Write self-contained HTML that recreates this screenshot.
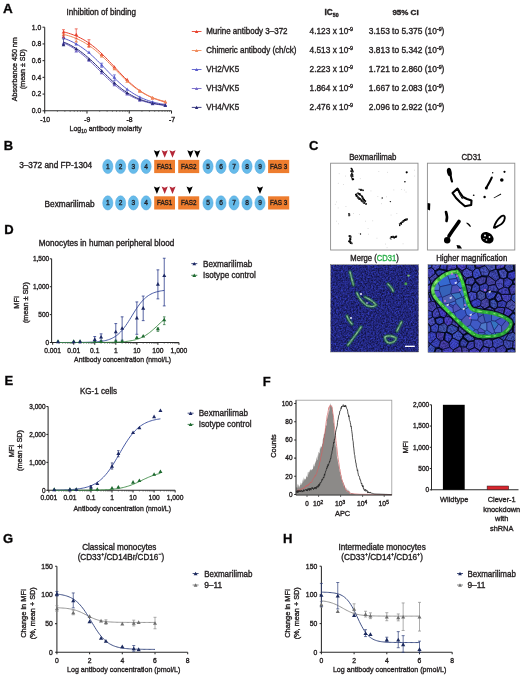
<!DOCTYPE html>
<html><head><meta charset="utf-8"><title>Figure</title>
<style>html,body{margin:0;padding:0;background:#fff;}svg{display:block;}text{stroke:#231f20;stroke-width:0.36px;}</style>
</head><body>
<svg width="520" height="675" viewBox="0 0 520 675" font-family='"Liberation Sans", Arial, sans-serif' fill="#231f20">
<rect width="520" height="675" fill="#fff"/>
<text x="3.00" y="12.60" font-size="13.5" font-weight="bold" fill="#000">A</text>
<text x="66.50" y="14.80" font-size="8.4" textLength="69.5" lengthAdjust="spacingAndGlyphs">Inhibition of binding</text>
<line x1="44.70" y1="27.20" x2="44.70" y2="111.25" stroke="#2a2a2a" stroke-width="1.05"/>
<line x1="44.25" y1="110.80" x2="171.51" y2="110.80" stroke="#2a2a2a" stroke-width="1.05"/>
<line x1="42.50" y1="110.80" x2="44.70" y2="110.80" stroke="#2a2a2a" stroke-width="1.05"/>
<text x="41.20" y="113.20" font-size="7.14" text-anchor="end" textLength="9.45" lengthAdjust="spacingAndGlyphs">0.0</text>
<line x1="42.50" y1="94.08" x2="44.70" y2="94.08" stroke="#2a2a2a" stroke-width="1.05"/>
<text x="41.20" y="96.48" font-size="7.14" text-anchor="end" textLength="9.45" lengthAdjust="spacingAndGlyphs">0.2</text>
<line x1="42.50" y1="77.36" x2="44.70" y2="77.36" stroke="#2a2a2a" stroke-width="1.05"/>
<text x="41.20" y="79.76" font-size="7.14" text-anchor="end" textLength="9.45" lengthAdjust="spacingAndGlyphs">0.4</text>
<line x1="42.50" y1="60.64" x2="44.70" y2="60.64" stroke="#2a2a2a" stroke-width="1.05"/>
<text x="41.20" y="63.04" font-size="7.14" text-anchor="end" textLength="9.45" lengthAdjust="spacingAndGlyphs">0.6</text>
<line x1="42.50" y1="43.92" x2="44.70" y2="43.92" stroke="#2a2a2a" stroke-width="1.05"/>
<text x="41.20" y="46.32" font-size="7.14" text-anchor="end" textLength="9.45" lengthAdjust="spacingAndGlyphs">0.8</text>
<line x1="42.50" y1="27.20" x2="44.70" y2="27.20" stroke="#2a2a2a" stroke-width="1.05"/>
<text x="41.20" y="29.60" font-size="7.14" text-anchor="end" textLength="9.45" lengthAdjust="spacingAndGlyphs">1.0</text>
<line x1="44.70" y1="110.80" x2="44.70" y2="113.60" stroke="#2a2a2a" stroke-width="1.05"/>
<text x="45.10" y="121.80" font-size="7.14" text-anchor="middle" textLength="9.83" lengthAdjust="spacingAndGlyphs">-10</text>
<line x1="86.97" y1="110.80" x2="86.97" y2="113.60" stroke="#2a2a2a" stroke-width="1.05"/>
<text x="87.37" y="121.80" font-size="7.14" text-anchor="middle" textLength="6.05" lengthAdjust="spacingAndGlyphs">-9</text>
<line x1="129.24" y1="110.80" x2="129.24" y2="113.60" stroke="#2a2a2a" stroke-width="1.05"/>
<text x="129.64" y="121.80" font-size="7.14" text-anchor="middle" textLength="6.05" lengthAdjust="spacingAndGlyphs">-8</text>
<line x1="171.51" y1="110.80" x2="171.51" y2="113.60" stroke="#2a2a2a" stroke-width="1.05"/>
<text x="171.91" y="121.80" font-size="7.14" text-anchor="middle" textLength="6.05" lengthAdjust="spacingAndGlyphs">-7</text>
<line x1="57.42" y1="110.80" x2="57.42" y2="111.90" stroke="#333" stroke-width="0.6"/>
<line x1="64.87" y1="110.80" x2="64.87" y2="111.90" stroke="#333" stroke-width="0.6"/>
<line x1="70.15" y1="110.80" x2="70.15" y2="111.90" stroke="#333" stroke-width="0.6"/>
<line x1="74.25" y1="110.80" x2="74.25" y2="111.90" stroke="#333" stroke-width="0.6"/>
<line x1="77.59" y1="110.80" x2="77.59" y2="111.90" stroke="#333" stroke-width="0.6"/>
<line x1="80.42" y1="110.80" x2="80.42" y2="111.90" stroke="#333" stroke-width="0.6"/>
<line x1="82.87" y1="110.80" x2="82.87" y2="111.90" stroke="#333" stroke-width="0.6"/>
<line x1="85.04" y1="110.80" x2="85.04" y2="111.90" stroke="#333" stroke-width="0.6"/>
<line x1="99.69" y1="110.80" x2="99.69" y2="111.90" stroke="#333" stroke-width="0.6"/>
<line x1="107.14" y1="110.80" x2="107.14" y2="111.90" stroke="#333" stroke-width="0.6"/>
<line x1="112.42" y1="110.80" x2="112.42" y2="111.90" stroke="#333" stroke-width="0.6"/>
<line x1="116.52" y1="110.80" x2="116.52" y2="111.90" stroke="#333" stroke-width="0.6"/>
<line x1="119.86" y1="110.80" x2="119.86" y2="111.90" stroke="#333" stroke-width="0.6"/>
<line x1="122.69" y1="110.80" x2="122.69" y2="111.90" stroke="#333" stroke-width="0.6"/>
<line x1="125.14" y1="110.80" x2="125.14" y2="111.90" stroke="#333" stroke-width="0.6"/>
<line x1="127.31" y1="110.80" x2="127.31" y2="111.90" stroke="#333" stroke-width="0.6"/>
<line x1="141.96" y1="110.80" x2="141.96" y2="111.90" stroke="#333" stroke-width="0.6"/>
<line x1="149.41" y1="110.80" x2="149.41" y2="111.90" stroke="#333" stroke-width="0.6"/>
<line x1="154.69" y1="110.80" x2="154.69" y2="111.90" stroke="#333" stroke-width="0.6"/>
<line x1="158.79" y1="110.80" x2="158.79" y2="111.90" stroke="#333" stroke-width="0.6"/>
<line x1="162.13" y1="110.80" x2="162.13" y2="111.90" stroke="#333" stroke-width="0.6"/>
<line x1="164.96" y1="110.80" x2="164.96" y2="111.90" stroke="#333" stroke-width="0.6"/>
<line x1="167.41" y1="110.80" x2="167.41" y2="111.90" stroke="#333" stroke-width="0.6"/>
<line x1="169.58" y1="110.80" x2="169.58" y2="111.90" stroke="#333" stroke-width="0.6"/>
<text transform="translate(16.98,69.20) rotate(-90)" font-size="7.77" text-anchor="middle" textLength="64" lengthAdjust="spacingAndGlyphs">Absorbance 450 nm</text>
<text transform="translate(24.58,69.10) rotate(-90)" font-size="7.77" text-anchor="middle" textLength="40" lengthAdjust="spacingAndGlyphs">(mean ± SD)</text>
<text x="69.5" y="131.3" font-size="8.0" textLength="72.3" lengthAdjust="spacingAndGlyphs">Log<tspan font-size="5.6" dy="2">10</tspan><tspan dy="-2"> antibody molarity</tspan></text>
<path d="M63.51,31.86 L65.21,32.29 L66.90,32.74 L68.60,33.24 L70.30,33.78 L71.99,34.35 L73.69,34.98 L75.39,35.65 L77.08,36.38 L78.78,37.15 L80.47,37.99 L82.17,38.88 L83.87,39.83 L85.56,40.84 L87.26,41.92 L88.96,43.06 L90.65,44.26 L92.35,45.53 L94.05,46.87 L95.74,48.27 L97.44,49.73 L99.14,51.25 L100.83,52.83 L102.53,54.45 L104.22,56.13 L105.92,57.85 L107.62,59.61 L109.31,61.40 L111.01,63.21 L112.71,65.03 L114.40,66.86 L116.10,68.70 L117.80,70.52 L119.49,72.33 L121.19,74.12 L122.89,75.88 L124.58,77.60 L126.28,79.28 L127.97,80.91 L129.67,82.49 L131.37,84.02 L133.06,85.48 L134.76,86.88 L136.46,88.22 L138.15,89.50 L139.85,90.70 L141.55,91.85 L143.24,92.93 L144.94,93.94 L146.64,94.90 L148.33,95.79 L150.03,96.63 L151.72,97.41 L153.42,98.13 L155.12,98.81 L156.81,99.44 L158.51,100.02 L160.21,100.56 L161.90,101.05 L163.60,101.51 L165.30,101.94" stroke="#e8402c" fill="none" stroke-width="1.0"/>
<path d="M63.51,34.37 L65.21,34.79 L66.90,35.25 L68.60,35.74 L70.30,36.28 L71.99,36.85 L73.69,37.48 L75.39,38.14 L77.08,38.86 L78.78,39.63 L80.47,40.46 L82.17,41.34 L83.87,42.28 L85.56,43.28 L87.26,44.34 L88.96,45.46 L90.65,46.65 L92.35,47.90 L94.05,49.21 L95.74,50.58 L97.44,52.01 L99.14,53.49 L100.83,55.03 L102.53,56.61 L104.22,58.24 L105.92,59.90 L107.62,61.60 L109.31,63.33 L111.01,65.07 L112.71,66.82 L114.40,68.58 L116.10,70.33 L117.80,72.07 L119.49,73.80 L121.19,75.50 L122.89,77.17 L124.58,78.80 L126.28,80.38 L127.97,81.92 L129.67,83.41 L131.37,84.84 L133.06,86.21 L134.76,87.53 L136.46,88.78 L138.15,89.97 L139.85,91.09 L141.55,92.16 L143.24,93.16 L144.94,94.10 L146.64,94.99 L148.33,95.82 L150.03,96.59 L151.72,97.31 L153.42,97.98 L155.12,98.61 L156.81,99.18 L158.51,99.72 L160.21,100.22 L161.90,100.68 L163.60,101.10 L165.30,101.49" stroke="#f08a5a" fill="none" stroke-width="1.0"/>
<path d="M63.51,38.22 L65.21,38.82 L66.90,39.47 L68.60,40.16 L70.30,40.90 L71.99,41.70 L73.69,42.55 L75.39,43.46 L77.08,44.43 L78.78,45.46 L80.47,46.55 L82.17,47.70 L83.87,48.92 L85.56,50.20 L87.26,51.54 L88.96,52.94 L90.65,54.39 L92.35,55.90 L94.05,57.46 L95.74,59.07 L97.44,60.71 L99.14,62.40 L100.83,64.11 L102.53,65.84 L104.22,67.59 L105.92,69.35 L107.62,71.10 L109.31,72.85 L111.01,74.59 L112.71,76.30 L114.40,77.98 L116.10,79.63 L117.80,81.24 L119.49,82.81 L121.19,84.32 L122.89,85.78 L124.58,87.19 L126.28,88.53 L127.97,89.81 L129.67,91.03 L131.37,92.19 L133.06,93.29 L134.76,94.32 L136.46,95.30 L138.15,96.21 L139.85,97.07 L141.55,97.87 L143.24,98.62 L144.94,99.31 L146.64,99.96 L148.33,100.56 L150.03,101.12 L151.72,101.64 L153.42,102.12 L155.12,102.56 L156.81,102.96 L158.51,103.34 L160.21,103.68 L161.90,104.00 L163.60,104.29 L165.30,104.56" stroke="#5a5ccc" fill="none" stroke-width="1.0"/>
<path d="M63.51,42.90 L65.21,43.66 L66.90,44.47 L68.60,45.33 L70.30,46.26 L71.99,47.24 L73.69,48.28 L75.39,49.38 L77.08,50.54 L78.78,51.76 L80.47,53.03 L82.17,54.37 L83.87,55.77 L85.56,57.21 L87.26,58.71 L88.96,60.25 L90.65,61.83 L92.35,63.45 L94.05,65.10 L95.74,66.77 L97.44,68.46 L99.14,70.16 L100.83,71.85 L102.53,73.55 L104.22,75.23 L105.92,76.89 L107.62,78.53 L109.31,80.14 L111.01,81.70 L112.71,83.23 L114.40,84.70 L116.10,86.13 L117.80,87.50 L119.49,88.82 L121.19,90.07 L122.89,91.27 L124.58,92.41 L126.28,93.48 L127.97,94.50 L129.67,95.46 L131.37,96.36 L133.06,97.20 L134.76,97.99 L136.46,98.72 L138.15,99.41 L139.85,100.05 L141.55,100.64 L143.24,101.19 L144.94,101.70 L146.64,102.17 L148.33,102.61 L150.03,103.01 L151.72,103.38 L153.42,103.72 L155.12,104.04 L156.81,104.33 L158.51,104.59 L160.21,104.84 L161.90,105.06 L163.60,105.26 L165.30,105.45" stroke="#7468c8" fill="none" stroke-width="1.0"/>
<path d="M63.51,42.03 L65.21,42.72 L66.90,43.47 L68.60,44.26 L70.30,45.12 L71.99,46.02 L73.69,46.99 L75.39,48.01 L77.08,49.10 L78.78,50.24 L80.47,51.45 L82.17,52.71 L83.87,54.04 L85.56,55.42 L87.26,56.85 L88.96,58.34 L90.65,59.87 L92.35,61.44 L94.05,63.05 L95.74,64.69 L97.44,66.36 L99.14,68.04 L100.83,69.74 L102.53,71.44 L104.22,73.13 L105.92,74.82 L107.62,76.49 L109.31,78.13 L111.01,79.74 L112.71,81.32 L114.40,82.86 L116.10,84.35 L117.80,85.79 L119.49,87.17 L121.19,88.50 L122.89,89.77 L124.58,90.98 L126.28,92.13 L127.97,93.22 L129.67,94.26 L131.37,95.23 L133.06,96.14 L134.76,97.00 L136.46,97.80 L138.15,98.55 L139.85,99.25 L141.55,99.90 L143.24,100.50 L144.94,101.06 L146.64,101.58 L148.33,102.06 L150.03,102.51 L151.72,102.92 L153.42,103.29 L155.12,103.64 L156.81,103.96 L158.51,104.26 L160.21,104.53 L161.90,104.78 L163.60,105.01 L165.30,105.22" stroke="#2a2a78" fill="none" stroke-width="1.0"/>
<path d="M61.71,33.48 L65.31,33.48 L63.51,30.24 Z" fill="#e8402c"/>
<path d="M74.43,35.96 L78.03,35.96 L76.23,32.72 Z" fill="#e8402c"/>
<path d="M87.16,44.68 L90.76,44.68 L88.96,41.44 Z" fill="#e8402c"/>
<path d="M99.88,56.09 L103.48,56.09 L101.68,52.85 Z" fill="#e8402c"/>
<path d="M112.60,68.48 L116.20,68.48 L114.40,65.24 Z" fill="#e8402c"/>
<path d="M125.33,80.89 L128.93,80.89 L127.13,77.65 Z" fill="#e8402c"/>
<path d="M138.05,92.32 L141.65,92.32 L139.85,89.08 Z" fill="#e8402c"/>
<path d="M150.77,99.40 L154.37,99.40 L152.57,96.16 Z" fill="#e8402c"/>
<path d="M163.50,103.56 L167.10,103.56 L165.30,100.32 Z" fill="#e8402c"/>
<path d="M61.71,35.99 L65.31,35.99 L63.51,32.75 Z" fill="#f08a5a"/>
<path d="M74.43,42.62 L78.03,42.62 L76.23,39.38 Z" fill="#f08a5a"/>
<path d="M87.16,47.08 L90.76,47.08 L88.96,43.84 Z" fill="#f08a5a"/>
<path d="M99.88,57.43 L103.48,57.43 L101.68,54.19 Z" fill="#f08a5a"/>
<path d="M112.60,70.20 L116.20,70.20 L114.40,66.96 Z" fill="#f08a5a"/>
<path d="M125.33,82.78 L128.93,82.78 L127.13,79.54 Z" fill="#f08a5a"/>
<path d="M138.05,92.71 L141.65,92.71 L139.85,89.47 Z" fill="#f08a5a"/>
<path d="M150.77,99.27 L154.37,99.27 L152.57,96.03 Z" fill="#f08a5a"/>
<path d="M163.50,103.11 L167.10,103.11 L165.30,99.87 Z" fill="#f08a5a"/>
<path d="M61.71,38.17 L65.31,38.17 L63.51,34.93 Z" fill="#5a5ccc"/>
<path d="M74.43,45.56 L78.03,45.56 L76.23,42.32 Z" fill="#5a5ccc"/>
<path d="M87.16,53.72 L90.76,53.72 L88.96,50.48 Z" fill="#5a5ccc"/>
<path d="M99.88,66.59 L103.48,66.59 L101.68,63.35 Z" fill="#5a5ccc"/>
<path d="M112.60,78.77 L116.20,78.77 L114.40,75.53 Z" fill="#5a5ccc"/>
<path d="M125.33,90.80 L128.93,90.80 L127.13,87.56 Z" fill="#5a5ccc"/>
<path d="M138.05,98.69 L141.65,98.69 L139.85,95.45 Z" fill="#5a5ccc"/>
<path d="M150.77,103.50 L154.37,103.50 L152.57,100.26 Z" fill="#5a5ccc"/>
<path d="M163.50,106.18 L167.10,106.18 L165.30,102.94 Z" fill="#5a5ccc"/>
<path d="M61.71,44.52 L65.31,44.52 L63.51,41.28 Z" fill="#7468c8"/>
<path d="M74.43,52.40 L78.03,52.40 L76.23,49.16 Z" fill="#7468c8"/>
<path d="M87.16,61.87 L90.76,61.87 L88.96,58.63 Z" fill="#7468c8"/>
<path d="M99.88,74.32 L103.48,74.32 L101.68,71.08 Z" fill="#7468c8"/>
<path d="M112.60,86.32 L116.20,86.32 L114.40,83.08 Z" fill="#7468c8"/>
<path d="M125.33,95.62 L128.93,95.62 L127.13,92.38 Z" fill="#7468c8"/>
<path d="M138.05,101.67 L141.65,101.67 L139.85,98.43 Z" fill="#7468c8"/>
<path d="M150.77,105.18 L154.37,105.18 L152.57,101.94 Z" fill="#7468c8"/>
<path d="M163.50,107.07 L167.10,107.07 L165.30,103.83 Z" fill="#7468c8"/>
<path d="M61.71,46.16 L65.31,46.16 L63.51,42.92 Z" fill="#2a2a78"/>
<path d="M74.43,50.17 L78.03,50.17 L76.23,46.93 Z" fill="#2a2a78"/>
<path d="M87.16,60.79 L90.76,60.79 L88.96,57.55 Z" fill="#2a2a78"/>
<path d="M99.88,72.21 L103.48,72.21 L101.68,68.97 Z" fill="#2a2a78"/>
<path d="M112.60,84.48 L116.20,84.48 L114.40,81.24 Z" fill="#2a2a78"/>
<path d="M125.33,94.31 L128.93,94.31 L127.13,91.07 Z" fill="#2a2a78"/>
<path d="M138.05,100.87 L141.65,100.87 L139.85,97.63 Z" fill="#2a2a78"/>
<path d="M150.77,104.73 L154.37,104.73 L152.57,101.49 Z" fill="#2a2a78"/>
<path d="M163.50,106.84 L167.10,106.84 L165.30,103.60 Z" fill="#2a2a78"/>
<line x1="63.51" y1="29.71" x2="63.51" y2="37.23" stroke="#e8402c" stroke-width="0.7"/>
<line x1="62.01" y1="29.71" x2="65.01" y2="29.71" stroke="#e8402c" stroke-width="0.7"/>
<line x1="62.01" y1="37.23" x2="65.01" y2="37.23" stroke="#e8402c" stroke-width="0.7"/>
<line x1="76.23" y1="28.87" x2="76.23" y2="38.90" stroke="#e8402c" stroke-width="0.7"/>
<line x1="74.73" y1="28.87" x2="77.73" y2="28.87" stroke="#e8402c" stroke-width="0.7"/>
<line x1="74.73" y1="38.90" x2="77.73" y2="38.90" stroke="#e8402c" stroke-width="0.7"/>
<line x1="88.96" y1="39.74" x2="88.96" y2="47.26" stroke="#e8402c" stroke-width="0.7"/>
<line x1="87.46" y1="39.74" x2="90.46" y2="39.74" stroke="#e8402c" stroke-width="0.7"/>
<line x1="87.46" y1="47.26" x2="90.46" y2="47.26" stroke="#e8402c" stroke-width="0.7"/>
<line x1="63.51" y1="38.90" x2="63.51" y2="44.76" stroke="#2a2a78" stroke-width="0.7"/>
<line x1="62.01" y1="38.90" x2="65.01" y2="38.90" stroke="#2a2a78" stroke-width="0.7"/>
<line x1="62.01" y1="44.76" x2="65.01" y2="44.76" stroke="#2a2a78" stroke-width="0.7"/>
<line x1="114.40" y1="74.85" x2="114.40" y2="80.70" stroke="#5a5ccc" stroke-width="0.7"/>
<line x1="112.90" y1="74.85" x2="115.90" y2="74.85" stroke="#5a5ccc" stroke-width="0.7"/>
<line x1="112.90" y1="80.70" x2="115.90" y2="80.70" stroke="#5a5ccc" stroke-width="0.7"/>
<line x1="101.68" y1="63.15" x2="101.68" y2="67.33" stroke="#5a5ccc" stroke-width="0.7"/>
<line x1="100.18" y1="63.15" x2="103.18" y2="63.15" stroke="#5a5ccc" stroke-width="0.7"/>
<line x1="100.18" y1="67.33" x2="103.18" y2="67.33" stroke="#5a5ccc" stroke-width="0.7"/>
<line x1="191.80" y1="31.50" x2="201.50" y2="31.50" stroke="#e8402c" stroke-width="0.9"/>
<path d="M194.90,33.03 L198.30,33.03 L196.60,29.97 Z" fill="#e8402c"/>
<text x="206.20" y="34.10" font-size="8.4" textLength="81.38" lengthAdjust="spacingAndGlyphs">Murine antibody 3–372</text>
<line x1="191.80" y1="50.50" x2="201.50" y2="50.50" stroke="#f08a5a" stroke-width="0.9"/>
<path d="M194.90,52.03 L198.30,52.03 L196.60,48.97 Z" fill="#f08a5a"/>
<text x="206.20" y="53.10" font-size="8.4" textLength="90.25" lengthAdjust="spacingAndGlyphs">Chimeric antibody (ch/ck)</text>
<line x1="191.80" y1="69.50" x2="201.50" y2="69.50" stroke="#5a5ccc" stroke-width="0.9"/>
<path d="M194.90,71.03 L198.30,71.03 L196.60,67.97 Z" fill="#5a5ccc"/>
<text x="206.20" y="72.10" font-size="8.4" textLength="32.91" lengthAdjust="spacingAndGlyphs">VH2/VK5</text>
<line x1="191.80" y1="88.50" x2="201.50" y2="88.50" stroke="#7468c8" stroke-width="0.9"/>
<path d="M194.90,90.03 L198.30,90.03 L196.60,86.97 Z" fill="#7468c8"/>
<text x="206.20" y="91.10" font-size="8.4" textLength="32.91" lengthAdjust="spacingAndGlyphs">VH3/VK5</text>
<line x1="191.80" y1="107.40" x2="201.50" y2="107.40" stroke="#2a2a78" stroke-width="0.9"/>
<path d="M194.90,108.93 L198.30,108.93 L196.60,105.87 Z" fill="#2a2a78"/>
<text x="206.20" y="110.00" font-size="8.4" textLength="32.91" lengthAdjust="spacingAndGlyphs">VH4/VK5</text>
<text x="324.6" y="15.2" font-size="8.2" font-weight="bold">IC<tspan font-size="5.2" dy="2">50</tspan></text>
<text x="405.50" y="15.20" font-size="8" text-anchor="middle" font-weight="bold">95% CI</text>
<text x="309.6" y="34.00" font-size="8.6" textLength="43.5" lengthAdjust="spacingAndGlyphs">4.123 x 10<tspan font-size="5.6" dy="-3.2">-9</tspan></text>
<text x="368.8" y="34.00" font-size="8.6" textLength="75.6" lengthAdjust="spacingAndGlyphs">3.153 to 5.375 (10<tspan font-size="5.4" dy="-3.2">-9</tspan><tspan dy="3.2">)</tspan></text>
<text x="309.6" y="53.00" font-size="8.6" textLength="43.5" lengthAdjust="spacingAndGlyphs">4.513 x 10<tspan font-size="5.6" dy="-3.2">-9</tspan></text>
<text x="368.8" y="53.00" font-size="8.6" textLength="75.6" lengthAdjust="spacingAndGlyphs">3.813 to 5.342 (10<tspan font-size="5.4" dy="-3.2">-9</tspan><tspan dy="3.2">)</tspan></text>
<text x="309.6" y="72.00" font-size="8.6" textLength="43.5" lengthAdjust="spacingAndGlyphs">2.223 x 10<tspan font-size="5.6" dy="-3.2">-9</tspan></text>
<text x="368.8" y="72.00" font-size="8.6" textLength="75.6" lengthAdjust="spacingAndGlyphs">1.721 to 2.860 (10<tspan font-size="5.4" dy="-3.2">-9</tspan><tspan dy="3.2">)</tspan></text>
<text x="309.6" y="91.00" font-size="8.6" textLength="43.5" lengthAdjust="spacingAndGlyphs">1.864 x 10<tspan font-size="5.6" dy="-3.2">-9</tspan></text>
<text x="368.8" y="91.00" font-size="8.6" textLength="75.6" lengthAdjust="spacingAndGlyphs">1.667 to 2.083 (10<tspan font-size="5.4" dy="-3.2">-9</tspan><tspan dy="3.2">)</tspan></text>
<text x="309.6" y="109.90" font-size="8.6" textLength="43.5" lengthAdjust="spacingAndGlyphs">2.476 x 10<tspan font-size="5.6" dy="-3.2">-9</tspan></text>
<text x="368.8" y="109.90" font-size="8.6" textLength="75.6" lengthAdjust="spacingAndGlyphs">2.096 to 2.922 (10<tspan font-size="5.4" dy="-3.2">-9</tspan><tspan dy="3.2">)</tspan></text>
<text x="3.80" y="150.20" font-size="13" font-weight="bold" fill="#000">B</text>
<text x="92.20" y="168.40" font-size="8.19" text-anchor="end" textLength="73" lengthAdjust="spacingAndGlyphs">3–372 and FP-1304</text>
<text x="94.60" y="206.60" font-size="8.19" text-anchor="end" textLength="50" lengthAdjust="spacingAndGlyphs">Bexmarilimab</text>
<ellipse cx="107.8" cy="166.5" rx="5.1" ry="7.1" fill="#66bbea" stroke="#4fa4dc" stroke-width="0.5"/>
<text x="107.80" y="168.90" font-size="6.93" text-anchor="middle" textLength="3.67" lengthAdjust="spacingAndGlyphs" fill="#172a44">1</text>
<ellipse cx="120.6" cy="166.5" rx="5.1" ry="7.1" fill="#66bbea" stroke="#4fa4dc" stroke-width="0.5"/>
<text x="120.60" y="168.90" font-size="6.93" text-anchor="middle" textLength="3.67" lengthAdjust="spacingAndGlyphs" fill="#172a44">2</text>
<ellipse cx="133.4" cy="166.5" rx="5.1" ry="7.1" fill="#66bbea" stroke="#4fa4dc" stroke-width="0.5"/>
<text x="133.40" y="168.90" font-size="6.93" text-anchor="middle" textLength="3.67" lengthAdjust="spacingAndGlyphs" fill="#172a44">3</text>
<ellipse cx="146.1" cy="166.5" rx="5.1" ry="7.1" fill="#66bbea" stroke="#4fa4dc" stroke-width="0.5"/>
<text x="146.10" y="168.90" font-size="6.93" text-anchor="middle" textLength="3.67" lengthAdjust="spacingAndGlyphs" fill="#172a44">4</text>
<rect x="154.2" y="159.90" width="20.80" height="13.2" fill="#ee7d2e"/>
<text x="164.60" y="168.80" font-size="6.62" text-anchor="middle" textLength="15.41" lengthAdjust="spacingAndGlyphs" fill="#3a2410">FAS1</text>
<rect x="178.2" y="159.90" width="21.00" height="13.2" fill="#ee7d2e"/>
<text x="188.70" y="168.80" font-size="6.62" text-anchor="middle" textLength="15.41" lengthAdjust="spacingAndGlyphs" fill="#3a2410">FAS2</text>
<rect x="268.1" y="159.90" width="21.10" height="13.2" fill="#ee7d2e"/>
<text x="278.65" y="168.80" font-size="6.62" text-anchor="middle" textLength="17.16" lengthAdjust="spacingAndGlyphs" fill="#3a2410">FAS 3</text>
<ellipse cx="208.0" cy="166.5" rx="5.1" ry="7.1" fill="#66bbea" stroke="#4fa4dc" stroke-width="0.5"/>
<text x="208.00" y="168.90" font-size="6.93" text-anchor="middle" textLength="3.67" lengthAdjust="spacingAndGlyphs" fill="#172a44">5</text>
<ellipse cx="221.0" cy="166.5" rx="5.1" ry="7.1" fill="#66bbea" stroke="#4fa4dc" stroke-width="0.5"/>
<text x="221.00" y="168.90" font-size="6.93" text-anchor="middle" textLength="3.67" lengthAdjust="spacingAndGlyphs" fill="#172a44">6</text>
<ellipse cx="234.0" cy="166.5" rx="5.1" ry="7.1" fill="#66bbea" stroke="#4fa4dc" stroke-width="0.5"/>
<text x="234.00" y="168.90" font-size="6.93" text-anchor="middle" textLength="3.67" lengthAdjust="spacingAndGlyphs" fill="#172a44">7</text>
<ellipse cx="247.0" cy="166.5" rx="5.1" ry="7.1" fill="#66bbea" stroke="#4fa4dc" stroke-width="0.5"/>
<text x="247.00" y="168.90" font-size="6.93" text-anchor="middle" textLength="3.67" lengthAdjust="spacingAndGlyphs" fill="#172a44">8</text>
<ellipse cx="260.0" cy="166.5" rx="5.1" ry="7.1" fill="#66bbea" stroke="#4fa4dc" stroke-width="0.5"/>
<text x="260.00" y="168.90" font-size="6.93" text-anchor="middle" textLength="3.67" lengthAdjust="spacingAndGlyphs" fill="#172a44">9</text>
<path d="M153.80,150.20 L156.90,151.40 L160.00,150.20 L156.90,157.70 Z" fill="#000"/>
<path d="M161.60,150.20 L164.70,151.40 L167.80,150.20 L164.70,157.70 Z" fill="#b42838"/>
<path d="M169.40,150.20 L172.50,151.40 L175.60,150.20 L172.50,157.70 Z" fill="#b42838"/>
<path d="M187.30,150.20 L190.40,151.40 L193.50,150.20 L190.40,157.70 Z" fill="#000"/>
<path d="M194.20,150.20 L197.30,151.40 L200.40,150.20 L197.30,157.70 Z" fill="#000"/>
<ellipse cx="107.8" cy="202.9" rx="5.1" ry="7.1" fill="#66bbea" stroke="#4fa4dc" stroke-width="0.5"/>
<text x="107.80" y="205.30" font-size="6.93" text-anchor="middle" textLength="3.67" lengthAdjust="spacingAndGlyphs" fill="#172a44">1</text>
<ellipse cx="120.6" cy="202.9" rx="5.1" ry="7.1" fill="#66bbea" stroke="#4fa4dc" stroke-width="0.5"/>
<text x="120.60" y="205.30" font-size="6.93" text-anchor="middle" textLength="3.67" lengthAdjust="spacingAndGlyphs" fill="#172a44">2</text>
<ellipse cx="133.4" cy="202.9" rx="5.1" ry="7.1" fill="#66bbea" stroke="#4fa4dc" stroke-width="0.5"/>
<text x="133.40" y="205.30" font-size="6.93" text-anchor="middle" textLength="3.67" lengthAdjust="spacingAndGlyphs" fill="#172a44">3</text>
<ellipse cx="146.1" cy="202.9" rx="5.1" ry="7.1" fill="#66bbea" stroke="#4fa4dc" stroke-width="0.5"/>
<text x="146.10" y="205.30" font-size="6.93" text-anchor="middle" textLength="3.67" lengthAdjust="spacingAndGlyphs" fill="#172a44">4</text>
<rect x="154.2" y="196.30" width="20.80" height="13.2" fill="#ee7d2e"/>
<text x="164.60" y="205.20" font-size="6.62" text-anchor="middle" textLength="15.41" lengthAdjust="spacingAndGlyphs" fill="#3a2410">FAS1</text>
<rect x="178.2" y="196.30" width="21.00" height="13.2" fill="#ee7d2e"/>
<text x="188.70" y="205.20" font-size="6.62" text-anchor="middle" textLength="15.41" lengthAdjust="spacingAndGlyphs" fill="#3a2410">FAS2</text>
<rect x="268.1" y="196.30" width="21.10" height="13.2" fill="#ee7d2e"/>
<text x="278.65" y="205.20" font-size="6.62" text-anchor="middle" textLength="17.16" lengthAdjust="spacingAndGlyphs" fill="#3a2410">FAS 3</text>
<ellipse cx="208.0" cy="202.9" rx="5.1" ry="7.1" fill="#66bbea" stroke="#4fa4dc" stroke-width="0.5"/>
<text x="208.00" y="205.30" font-size="6.93" text-anchor="middle" textLength="3.67" lengthAdjust="spacingAndGlyphs" fill="#172a44">5</text>
<ellipse cx="221.0" cy="202.9" rx="5.1" ry="7.1" fill="#66bbea" stroke="#4fa4dc" stroke-width="0.5"/>
<text x="221.00" y="205.30" font-size="6.93" text-anchor="middle" textLength="3.67" lengthAdjust="spacingAndGlyphs" fill="#172a44">6</text>
<ellipse cx="234.0" cy="202.9" rx="5.1" ry="7.1" fill="#66bbea" stroke="#4fa4dc" stroke-width="0.5"/>
<text x="234.00" y="205.30" font-size="6.93" text-anchor="middle" textLength="3.67" lengthAdjust="spacingAndGlyphs" fill="#172a44">7</text>
<ellipse cx="247.0" cy="202.9" rx="5.1" ry="7.1" fill="#66bbea" stroke="#4fa4dc" stroke-width="0.5"/>
<text x="247.00" y="205.30" font-size="6.93" text-anchor="middle" textLength="3.67" lengthAdjust="spacingAndGlyphs" fill="#172a44">8</text>
<ellipse cx="260.0" cy="202.9" rx="5.1" ry="7.1" fill="#66bbea" stroke="#4fa4dc" stroke-width="0.5"/>
<text x="260.00" y="205.30" font-size="6.93" text-anchor="middle" textLength="3.67" lengthAdjust="spacingAndGlyphs" fill="#172a44">9</text>
<path d="M153.80,186.60 L156.90,187.80 L160.00,186.60 L156.90,194.10 Z" fill="#000"/>
<path d="M161.60,186.60 L164.70,187.80 L167.80,186.60 L164.70,194.10 Z" fill="#b42838"/>
<path d="M169.40,186.60 L172.50,187.80 L175.60,186.60 L172.50,194.10 Z" fill="#b42838"/>
<path d="M186.50,186.60 L189.60,187.80 L192.70,186.60 L189.60,194.10 Z" fill="#000"/>
<path d="M256.90,186.60 L260.00,187.80 L263.10,186.60 L260.00,194.10 Z" fill="#000"/>
<text x="309.00" y="149.60" font-size="13" font-weight="bold" fill="#000">C</text>
<text x="372.80" y="160.20" font-size="8.19" text-anchor="middle" textLength="47.24" lengthAdjust="spacingAndGlyphs">Bexmarilimab</text>
<text x="471.40" y="160.20" font-size="8.19" text-anchor="middle" textLength="19.94" lengthAdjust="spacingAndGlyphs">CD31</text>
<text x="374.6" y="261.4" font-size="8.4" text-anchor="middle" textLength="48.5" lengthAdjust="spacingAndGlyphs">Merge (<tspan fill="#2bb04a" style="stroke:#2bb04a">CD31</tspan>)</text>
<text x="471.70" y="261.40" font-size="8.19" text-anchor="middle" textLength="71.1" lengthAdjust="spacingAndGlyphs">Higher magnification</text>
<rect x="330.6" y="163.2" width="87.4" height="86.8" fill="#fff" stroke="#8c8c8c" stroke-width="0.9"/>
<rect x="427.4" y="163.2" width="87.4" height="86.8" fill="#fff" stroke="#8c8c8c" stroke-width="0.9"/>
<rect x="350.6" y="167.8" width="1.4" height="1.4" fill="#000"/><rect x="351.3" y="168.4" width="1.4" height="1.4" fill="#000"/><rect x="351.5" y="169.2" width="1.4" height="1.4" fill="#000"/><rect x="350.5" y="170.4" width="1.3" height="1.3" fill="#000"/><rect x="350.5" y="170.6" width="1.4" height="1.4" fill="#111"/><rect x="351.9" y="170.2" width="1.4" height="1.4" fill="#333"/><rect x="352.2" y="170.8" width="1.6" height="1.6" fill="#333"/><rect x="351.1" y="171.1" width="1.3" height="1.3" fill="#111"/><rect x="351.3" y="172.4" width="1.4" height="1.4" fill="#333"/><rect x="351.1" y="173.0" width="1.2" height="1.2" fill="#111"/><rect x="351.6" y="174.1" width="1.7" height="1.7" fill="#000"/><rect x="350.5" y="174.1" width="1.4" height="1.4" fill="#000"/><rect x="350.5" y="175.0" width="1.4" height="1.4" fill="#111"/><rect x="351.1" y="175.1" width="1.3" height="1.3" fill="#111"/><rect x="351.1" y="174.7" width="1.2" height="1.2" fill="#333"/><rect x="350.6" y="175.9" width="1.0" height="1.0" fill="#111"/><rect x="352.2" y="175.8" width="1.2" height="1.2" fill="#000"/><rect x="351.0" y="176.7" width="1.0" height="1.0" fill="#000"/><rect x="351.5" y="177.7" width="1.7" height="1.7" fill="#111"/><rect x="352.7" y="178.5" width="1.3" height="1.3" fill="#333"/><rect x="351.9" y="178.8" width="1.5" height="1.5" fill="#000"/><rect x="352.8" y="178.7" width="1.3" height="1.3" fill="#000"/><rect x="358.5" y="188.6" width="1.2" height="1.2" fill="#333"/><rect x="359.5" y="189.0" width="1.1" height="1.1" fill="#111"/><rect x="360.3" y="188.8" width="1.5" height="1.5" fill="#333"/><rect x="360.1" y="189.2" width="1.7" height="1.7" fill="#111"/><rect x="360.8" y="189.2" width="1.1" height="1.1" fill="#000"/><rect x="361.3" y="189.2" width="1.2" height="1.2" fill="#333"/><rect x="362.3" y="189.6" width="1.5" height="1.5" fill="#000"/><rect x="355.0" y="193.9" width="1.2" height="1.2" fill="#000"/><rect x="355.8" y="193.4" width="1.4" height="1.4" fill="#111"/><rect x="355.5" y="194.6" width="1.7" height="1.7" fill="#000"/><rect x="356.3" y="195.1" width="1.3" height="1.3" fill="#000"/><rect x="355.8" y="195.5" width="1.2" height="1.2" fill="#000"/><rect x="356.5" y="195.8" width="1.1" height="1.1" fill="#111"/><rect x="356.9" y="195.8" width="1.6" height="1.6" fill="#333"/><rect x="357.1" y="196.0" width="1.3" height="1.3" fill="#333"/><rect x="356.9" y="197.0" width="1.6" height="1.6" fill="#333"/><rect x="358.4" y="197.1" width="1.0" height="1.0" fill="#333"/><rect x="358.3" y="197.1" width="1.2" height="1.2" fill="#111"/><rect x="358.9" y="197.9" width="1.7" height="1.7" fill="#000"/><rect x="358.2" y="198.2" width="1.5" height="1.5" fill="#000"/><rect x="359.5" y="198.2" width="1.0" height="1.0" fill="#000"/><rect x="359.1" y="198.6" width="1.4" height="1.4" fill="#333"/><rect x="360.2" y="198.2" width="1.1" height="1.1" fill="#333"/><rect x="359.5" y="198.7" width="1.1" height="1.1" fill="#000"/><rect x="360.7" y="199.8" width="1.6" height="1.6" fill="#000"/><rect x="360.7" y="199.5" width="1.5" height="1.5" fill="#000"/><rect x="361.0" y="199.8" width="1.3" height="1.3" fill="#000"/><rect x="361.6" y="199.7" width="1.0" height="1.0" fill="#333"/><rect x="361.4" y="200.9" width="1.2" height="1.2" fill="#111"/><rect x="362.1" y="201.1" width="1.2" height="1.2" fill="#111"/><rect x="362.3" y="201.0" width="1.4" height="1.4" fill="#333"/><rect x="363.0" y="201.2" width="1.3" height="1.3" fill="#333"/><rect x="362.8" y="202.4" width="1.0" height="1.0" fill="#333"/><rect x="363.5" y="202.7" width="1.3" height="1.3" fill="#000"/><rect x="364.2" y="202.6" width="1.1" height="1.1" fill="#333"/><rect x="364.1" y="202.1" width="1.2" height="1.2" fill="#111"/><rect x="365.2" y="203.4" width="1.5" height="1.5" fill="#333"/><rect x="365.7" y="203.2" width="1.1" height="1.1" fill="#000"/><rect x="357.3" y="192.4" width="1.4" height="1.4" fill="#000"/><rect x="357.8" y="193.1" width="1.2" height="1.2" fill="#000"/><rect x="357.9" y="193.1" width="1.5" height="1.5" fill="#111"/><rect x="358.9" y="193.1" width="1.5" height="1.5" fill="#000"/><rect x="359.2" y="194.1" width="1.0" height="1.0" fill="#111"/><rect x="359.1" y="193.7" width="1.7" height="1.7" fill="#000"/><rect x="359.9" y="194.7" width="1.2" height="1.2" fill="#333"/><rect x="360.9" y="194.9" width="1.2" height="1.2" fill="#333"/><rect x="361.2" y="195.3" width="1.4" height="1.4" fill="#333"/><rect x="361.0" y="196.1" width="1.1" height="1.1" fill="#333"/><rect x="361.7" y="196.2" width="1.3" height="1.3" fill="#000"/><rect x="361.8" y="196.3" width="1.4" height="1.4" fill="#000"/><rect x="361.9" y="197.2" width="1.5" height="1.5" fill="#333"/><rect x="362.2" y="197.7" width="1.6" height="1.6" fill="#111"/><rect x="362.4" y="197.6" width="1.1" height="1.1" fill="#111"/><rect x="362.7" y="198.4" width="1.3" height="1.3" fill="#333"/><rect x="362.8" y="198.6" width="1.6" height="1.6" fill="#000"/><rect x="363.4" y="199.2" width="1.3" height="1.3" fill="#000"/><rect x="363.3" y="199.1" width="1.5" height="1.5" fill="#000"/><rect x="363.8" y="199.9" width="1.2" height="1.2" fill="#000"/><rect x="364.4" y="200.2" width="1.7" height="1.7" fill="#000"/><rect x="348.1" y="213.1" width="1.5" height="1.5" fill="#000"/><rect x="348.2" y="214.2" width="1.0" height="1.0" fill="#333"/><rect x="348.9" y="213.5" width="1.2" height="1.2" fill="#333"/><rect x="348.3" y="214.8" width="1.5" height="1.5" fill="#333"/><rect x="349.1" y="214.6" width="1.2" height="1.2" fill="#333"/><rect x="349.3" y="235.8" width="1.1" height="1.1" fill="#111"/><rect x="348.5" y="235.3" width="1.5" height="1.5" fill="#111"/><rect x="349.8" y="235.5" width="1.4" height="1.4" fill="#000"/><rect x="349.2" y="235.4" width="1.2" height="1.2" fill="#000"/><rect x="349.8" y="236.0" width="1.3" height="1.3" fill="#333"/><rect x="350.4" y="236.4" width="1.2" height="1.2" fill="#333"/><rect x="350.1" y="237.5" width="1.2" height="1.2" fill="#000"/><rect x="349.2" y="237.4" width="1.4" height="1.4" fill="#333"/><rect x="349.4" y="238.2" width="1.6" height="1.6" fill="#000"/><rect x="349.3" y="239.2" width="1.4" height="1.4" fill="#111"/><rect x="350.0" y="238.9" width="1.3" height="1.3" fill="#000"/><rect x="349.5" y="240.5" width="1.4" height="1.4" fill="#000"/><rect x="348.5" y="240.4" width="1.5" height="1.5" fill="#000"/><rect x="348.3" y="240.8" width="1.1" height="1.1" fill="#000"/><rect x="348.7" y="240.9" width="1.5" height="1.5" fill="#000"/><rect x="349.4" y="241.5" width="1.6" height="1.6" fill="#111"/><rect x="349.9" y="242.3" width="1.7" height="1.7" fill="#111"/><rect x="350.4" y="241.5" width="1.1" height="1.1" fill="#000"/><rect x="350.8" y="242.3" width="1.1" height="1.1" fill="#333"/><rect x="351.1" y="242.6" width="1.6" height="1.6" fill="#333"/><rect x="389.7" y="237.7" width="1.1" height="1.1" fill="#333"/><rect x="390.5" y="236.6" width="1.3" height="1.3" fill="#000"/><rect x="390.7" y="236.3" width="1.2" height="1.2" fill="#111"/><rect x="391.2" y="236.1" width="1.6" height="1.6" fill="#000"/><rect x="391.6" y="236.0" width="1.6" height="1.6" fill="#000"/><rect x="391.6" y="236.1" width="1.3" height="1.3" fill="#000"/><rect x="391.9" y="235.9" width="1.5" height="1.5" fill="#333"/><rect x="392.6" y="235.8" width="1.3" height="1.3" fill="#333"/><rect x="392.6" y="236.3" width="1.3" height="1.3" fill="#000"/><rect x="392.4" y="236.0" width="1.6" height="1.6" fill="#333"/><rect x="393.4" y="236.2" width="1.0" height="1.0" fill="#000"/><rect x="393.5" y="237.2" width="1.4" height="1.4" fill="#000"/><rect x="393.6" y="236.9" width="1.1" height="1.1" fill="#000"/><rect x="394.5" y="236.8" width="1.1" height="1.1" fill="#000"/><rect x="394.6" y="236.1" width="1.5" height="1.5" fill="#000"/><rect x="395.1" y="235.9" width="1.7" height="1.7" fill="#000"/><rect x="395.5" y="236.0" width="1.2" height="1.2" fill="#000"/><rect x="395.6" y="235.6" width="1.5" height="1.5" fill="#111"/><rect x="399.0" y="224.7" width="1.4" height="1.4" fill="#000"/><rect x="399.0" y="224.2" width="1.1" height="1.1" fill="#333"/><rect x="398.9" y="223.1" width="1.1" height="1.1" fill="#000"/><rect x="399.6" y="222.9" width="1.4" height="1.4" fill="#111"/><rect x="400.4" y="222.8" width="1.6" height="1.6" fill="#111"/><rect x="400.3" y="222.1" width="1.7" height="1.7" fill="#000"/><rect x="401.2" y="221.4" width="1.4" height="1.4" fill="#333"/><rect x="401.9" y="221.3" width="1.6" height="1.6" fill="#111"/><rect x="402.3" y="220.2" width="1.5" height="1.5" fill="#333"/><rect x="403.1" y="220.1" width="1.5" height="1.5" fill="#333"/><rect x="403.2" y="219.8" width="1.6" height="1.6" fill="#000"/><rect x="404.1" y="219.0" width="1.2" height="1.2" fill="#000"/><rect x="404.7" y="219.2" width="1.6" height="1.6" fill="#111"/><rect x="404.9" y="219.3" width="1.6" height="1.6" fill="#111"/><rect x="405.3" y="218.5" width="1.5" height="1.5" fill="#000"/><rect x="406.6" y="219.2" width="1.1" height="1.1" fill="#000"/><rect x="406.4" y="218.3" width="1.6" height="1.6" fill="#333"/>
<circle cx="382.2" cy="198" r="0.7" fill="#000"/>
<circle cx="390.4" cy="201.6" r="0.7" fill="#000"/>
<circle cx="406.7" cy="172.3" r="1.1" fill="#000"/>
<circle cx="404.9" cy="181.7" r="0.8" fill="#000"/>
<circle cx="360.5" cy="234" r="0.7" fill="#000"/>
<circle cx="352.5" cy="170.5" r="0.6" fill="#000"/>
<circle cx="391" cy="239" r="0.6" fill="#000"/>
<circle cx="401.5" cy="224" r="0.6" fill="#000"/>
<rect x="359.9" y="178.4" width="0.7" height="0.7" fill="#bbb"/>
<rect x="387.0" y="171.9" width="0.7" height="0.7" fill="#bbb"/>
<rect x="377.5" y="196.0" width="0.7" height="0.7" fill="#bbb"/>
<rect x="337.8" y="207.6" width="0.7" height="0.7" fill="#bbb"/>
<rect x="336.1" y="201.6" width="0.7" height="0.7" fill="#bbb"/>
<rect x="338.8" y="173.4" width="0.7" height="0.7" fill="#bbb"/>
<rect x="368.2" y="233.8" width="0.7" height="0.7" fill="#bbb"/>
<rect x="343.3" y="184.3" width="0.7" height="0.7" fill="#bbb"/>
<rect x="385.1" y="243.7" width="0.7" height="0.7" fill="#bbb"/>
<rect x="380.9" y="198.5" width="0.7" height="0.7" fill="#bbb"/>
<rect x="414.0" y="169.8" width="0.7" height="0.7" fill="#bbb"/>
<rect x="404.3" y="189.7" width="0.7" height="0.7" fill="#bbb"/>
<rect x="345.0" y="175.7" width="0.7" height="0.7" fill="#bbb"/>
<rect x="358.6" y="232.9" width="0.7" height="0.7" fill="#bbb"/>
<rect x="348.0" y="213.7" width="0.7" height="0.7" fill="#bbb"/>
<rect x="386.0" y="196.5" width="0.7" height="0.7" fill="#bbb"/>
<rect x="378.5" y="171.1" width="0.7" height="0.7" fill="#bbb"/>
<rect x="337.9" y="182.9" width="0.7" height="0.7" fill="#bbb"/>
<rect x="389.5" y="201.1" width="0.7" height="0.7" fill="#bbb"/>
<rect x="359.1" y="214.0" width="0.7" height="0.7" fill="#bbb"/>
<rect x="370.6" y="190.6" width="0.7" height="0.7" fill="#bbb"/>
<rect x="398.9" y="223.3" width="0.7" height="0.7" fill="#bbb"/>
<rect x="353.3" y="213.1" width="0.7" height="0.7" fill="#bbb"/>
<rect x="376.6" y="237.8" width="0.7" height="0.7" fill="#bbb"/>
<rect x="393.5" y="189.6" width="0.7" height="0.7" fill="#bbb"/>
<rect x="414.4" y="175.7" width="0.7" height="0.7" fill="#bbb"/>
<rect x="367.7" y="228.1" width="0.7" height="0.7" fill="#bbb"/>
<rect x="345.6" y="206.1" width="0.7" height="0.7" fill="#bbb"/>
<rect x="336.3" y="220.8" width="0.7" height="0.7" fill="#bbb"/>
<rect x="396.5" y="213.0" width="0.7" height="0.7" fill="#bbb"/>
<rect x="405.7" y="191.7" width="0.7" height="0.7" fill="#bbb"/>
<rect x="390.7" y="214.7" width="0.7" height="0.7" fill="#bbb"/>
<rect x="381.1" y="203.4" width="0.7" height="0.7" fill="#bbb"/>
<rect x="402.7" y="243.5" width="0.7" height="0.7" fill="#bbb"/>
<rect x="372.4" y="220.5" width="0.7" height="0.7" fill="#bbb"/>
<rect x="338.0" y="223.5" width="0.7" height="0.7" fill="#bbb"/>
<rect x="386.7" y="247.4" width="0.7" height="0.7" fill="#bbb"/>
<rect x="401.2" y="189.3" width="0.7" height="0.7" fill="#bbb"/>
<rect x="365.0" y="220.8" width="0.7" height="0.7" fill="#bbb"/>
<rect x="334.9" y="203.9" width="0.7" height="0.7" fill="#bbb"/>
<path d="M501.8,180 m-1.8,0 a1.8,1.8 0 1,0 3.6,0 a1.8,1.8 0 1,0 -3.6,0 Z" stroke="none" fill="#000" stroke-width="1"/>
<path d="M504.5,171.8 m-1.1,0 a1.1,1.1 0 1,0 2.2,0 a1.1,1.1 0 1,0 -2.2,0 Z" stroke="none" fill="#000" stroke-width="1"/>
<path d="M427.6,203 L430.3,203.5 L430,210.6 L427.6,209.5 Z" stroke="none" fill="#000" stroke-width="1"/>
<path d="M466.5,222.5 C468.5,223 470.5,224.5 471,227 L469.5,226.5 C468.5,225 467.5,224 466.5,223.5 Z" stroke="none" fill="#000" stroke-width="1"/>
<path d="M484.6,197 m-1.2,0 a1.2,1.2 0 1,0 2.4,0 a1.2,1.2 0 1,0 -2.4,0 Z" stroke="none" fill="#000" stroke-width="1"/>
<path d="M493.6,197.8 L500.9,193.5 L501.2,194.5 L494,198.3 Z" stroke="none" fill="#000" stroke-width="1"/>
<path d="M492.7,172.7 m-0.7,0 a0.7,0.7 0 1,0 1.4,0 a0.7,0.7 0 1,0 -1.4,0 Z" stroke="none" fill="#000" stroke-width="1"/>
<path d="M473.7,195.3 m-0.9,0 a0.9,0.7 0 1,0 1.8,0 a0.9,0.7 0 1,0 -1.8,0 Z" stroke="none" fill="#000" stroke-width="1"/>
<path d="M456.5,245 L460,245.5 L462,248.6 L457.5,248.4 Z" stroke="none" fill="#000" stroke-width="1"/>
<path d="M452.5,193 L457.5,188.6 L459.5,192 L463,197 L467,199 L471.5,200.5 L471.2,205 L465,206.2 L460,202 L456,198 Z" stroke="#000" fill="none" stroke-width="2.1" stroke-linejoin="round"/>
<path d="M457.8,190 L460,195 L462.5,199" stroke="#000" fill="none" stroke-width="1.0"/>
<path d="M494,227.5 C495,223 498,219 501,216.5 C503,215 505,215.3 504.8,218 C504.5,221 502,224 499,225.5 C497,226.5 495.5,227.8 494,227.5 Z" stroke="#000" fill="none" stroke-width="1.9"/>
<path d="M491.8,177.5 C490.5,180.5 488.5,184 486.5,187.5" stroke="#000" fill="none" stroke-width="2.0" stroke-linecap="round"/>
<circle cx="486.3" cy="188" r="1.5" fill="#000"/>
<path d="M493.5,226.5 L496.5,227.5 L495,229 Z" stroke="none" fill="#000" stroke-width="1"/>
<path d="M481,235 C482,232.5 485,231.5 488,232.5 C490.5,233 492.5,235 493.5,238 C494,241 492,243.5 489,243.5 C486,243.5 483.5,242.5 482,240.5 C481,239 480.5,237 481,235 Z" stroke="none" fill="#000" stroke-width="1"/>
<circle cx="485" cy="235.5" r="1.0" fill="#fff"/>
<circle cx="489.5" cy="237" r="0.9" fill="#fff"/>
<circle cx="486.5" cy="240" r="0.8" fill="#fff"/>
<circle cx="484" cy="238.5" r="0.6" fill="#fff"/>
<path d="M459,221.5 C456,226 452,231 449,236" stroke="#000" fill="none" stroke-width="3.6" stroke-linecap="round"/>
<circle cx="447.2" cy="240.3" r="3.2" fill="#000"/>
<path d="M446,212 C447,215 447.5,218 446.5,221" stroke="#000" fill="none" stroke-width="2.6" stroke-linecap="round"/>
<path d="M449.5,169.5 C450.5,173 450.5,177 452,181.5" stroke="#000" fill="none" stroke-width="2.2" stroke-linecap="round"/>
<ellipse cx="449.3" cy="172" rx="2.3" ry="4.2" transform="rotate(-12 449.3 172)" fill="#000"/>
<defs><filter id="nzL" x="0" y="0" width="100%" height="100%" color-interpolation-filters="sRGB"><feTurbulence type="fractalNoise" baseFrequency="0.6" numOctaves="2" seed="4"/><feColorMatrix type="matrix" values="0 0 0 0 0.21  0 0 0 0 0.25  0 0 0 0 0.78  2.6 0 0 0 -1.15"/></filter><filter id="nzD" x="0" y="0" width="100%" height="100%" color-interpolation-filters="sRGB"><feTurbulence type="fractalNoise" baseFrequency="0.6" numOctaves="2" seed="9"/><feColorMatrix type="matrix" values="0 0 0 0 0.07  0 0 0 0 0.07  0 0 0 0 0.26  2.6 0 0 0 -1.0"/></filter><filter id="bl1" x="-20%" y="-20%" width="140%" height="140%"><feGaussianBlur stdDeviation="0.6"/></filter><filter id="bl2" x="-20%" y="-20%" width="140%" height="140%"><feGaussianBlur stdDeviation="0.9"/></filter><filter id="bl05" x="-5%" y="-5%" width="110%" height="110%"><feGaussianBlur stdDeviation="0.45"/></filter><clipPath id="cm"><rect x="330.7" y="264.7" width="87.9" height="87.3"/></clipPath><clipPath id="ch"><rect x="428" y="264.7" width="87.3" height="87.6"/></clipPath></defs>
<g clip-path="url(#cm)">
<rect x="330.7" y="264.7" width="87.9" height="87.3" fill="#252b8a"/>
<rect x="330.7" y="264.7" width="87.9" height="87.3" filter="url(#nzL)"/>
<rect x="330.7" y="264.7" width="87.9" height="87.3" filter="url(#nzD)"/>
<g filter="url(#bl1)">
<path d="M350,272 C351,276 352,280 353.5,285" stroke="#1e6a34" fill="none" stroke-width="4.0" stroke-linecap="round" opacity="0.5"/>
<path d="M357,293 C359,298 362,302 366,305 C370,307 374,307 376,305 C373,301 369,299 365,297" stroke="#1e6a34" fill="none" stroke-width="4.0" stroke-linecap="round" opacity="0.5"/>
<path d="M347,316 C348,319 350,322 352,324" stroke="#1e6a34" fill="none" stroke-width="4.0" stroke-linecap="round" opacity="0.5"/>
<path d="M361,327 C358,332 353,338 348,345" stroke="#1e6a34" fill="none" stroke-width="4.0" stroke-linecap="round" opacity="0.5"/>
<path d="M385,337 C388,335 393,336 396,338 C396,341 393,343 389,343 C386,342 385,340 385,337" stroke="#1e6a34" fill="none" stroke-width="4.0" stroke-linecap="round" opacity="0.5"/>
<path d="M401.5,322 C400,325 398.5,328 397,331" stroke="#1e6a34" fill="none" stroke-width="4.0" stroke-linecap="round" opacity="0.5"/>
<path d="M388,284 C390,286 392,288 393,291" stroke="#1e6a34" fill="none" stroke-width="4.0" stroke-linecap="round" opacity="0.5"/>
<path d="M350,272 C351,276 352,280 353.5,285" stroke="#8ad880" fill="none" stroke-width="1.6" stroke-linecap="round" opacity="0.6" stroke-dasharray="5 1.5 7 2"/>
<path d="M357,293 C359,298 362,302 366,305 C370,307 374,307 376,305 C373,301 369,299 365,297" stroke="#8ad880" fill="none" stroke-width="1.6" stroke-linecap="round" opacity="0.6" stroke-dasharray="5 1.5 7 2"/>
<path d="M347,316 C348,319 350,322 352,324" stroke="#8ad880" fill="none" stroke-width="1.6" stroke-linecap="round" opacity="0.6" stroke-dasharray="5 1.5 7 2"/>
<path d="M361,327 C358,332 353,338 348,345" stroke="#8ad880" fill="none" stroke-width="1.6" stroke-linecap="round" opacity="0.6" stroke-dasharray="5 1.5 7 2"/>
<path d="M385,337 C388,335 393,336 396,338 C396,341 393,343 389,343 C386,342 385,340 385,337" stroke="#8ad880" fill="none" stroke-width="1.6" stroke-linecap="round" opacity="0.6" stroke-dasharray="5 1.5 7 2"/>
<path d="M401.5,322 C400,325 398.5,328 397,331" stroke="#8ad880" fill="none" stroke-width="1.6" stroke-linecap="round" opacity="0.6" stroke-dasharray="5 1.5 7 2"/>
<path d="M388,284 C390,286 392,288 393,291" stroke="#8ad880" fill="none" stroke-width="1.6" stroke-linecap="round" opacity="0.6" stroke-dasharray="5 1.5 7 2"/>
<path d="M350,272 C351,276 352,280 353.5,285" stroke="#e0ffe0" fill="none" stroke-width="0.7" stroke-linecap="round" opacity="0.5" stroke-dasharray="2 4 3 5"/>
<path d="M357,293 C359,298 362,302 366,305 C370,307 374,307 376,305 C373,301 369,299 365,297" stroke="#e0ffe0" fill="none" stroke-width="0.7" stroke-linecap="round" opacity="0.5" stroke-dasharray="2 4 3 5"/>
<path d="M347,316 C348,319 350,322 352,324" stroke="#e0ffe0" fill="none" stroke-width="0.7" stroke-linecap="round" opacity="0.5" stroke-dasharray="2 4 3 5"/>
<path d="M361,327 C358,332 353,338 348,345" stroke="#e0ffe0" fill="none" stroke-width="0.7" stroke-linecap="round" opacity="0.5" stroke-dasharray="2 4 3 5"/>
<path d="M385,337 C388,335 393,336 396,338 C396,341 393,343 389,343 C386,342 385,340 385,337" stroke="#e0ffe0" fill="none" stroke-width="0.7" stroke-linecap="round" opacity="0.5" stroke-dasharray="2 4 3 5"/>
<path d="M401.5,322 C400,325 398.5,328 397,331" stroke="#e0ffe0" fill="none" stroke-width="0.7" stroke-linecap="round" opacity="0.5" stroke-dasharray="2 4 3 5"/>
<path d="M388,284 C390,286 392,288 393,291" stroke="#e0ffe0" fill="none" stroke-width="0.7" stroke-linecap="round" opacity="0.5" stroke-dasharray="2 4 3 5"/>
<circle cx="405.8" cy="283.7" r="1.5" fill="#4a9a50"/><circle cx="408.5" cy="275.6" r="1.2" fill="#7ab870"/>
<circle cx="361" cy="294" r="1.0" fill="#f0f0ff"/><circle cx="351" cy="318" r="0.9" fill="#fff"/><circle cx="367" cy="303" r="0.8" fill="#e8e8ff"/>
</g>
<rect x="405" y="345.7" width="9.8" height="1.3" fill="#fff"/>
</g>
<g clip-path="url(#ch)">
<rect x="428" y="264.7" width="87.3" height="87.6" fill="#0c0e30"/>
<g filter="url(#bl05)"><path d="M441.8,262.7 L434.4,261.8 L441.4,230.2 L444.8,261.1 Z" fill="rgb(77,79,200)" stroke="#05071a" stroke-width="1.0" stroke-linejoin="round"/><path d="M444.8,261.1 L441.4,230.2 L441.8,187.1 L455.2,262.6 L447.4,263.3 Z" fill="rgb(62,72,179)" stroke="#05071a" stroke-width="1.0" stroke-linejoin="round"/><path d="M470.7,259.2 L466.3,262.5 L460.8,261.1 L465.5,215.3 Z" fill="rgb(67,73,170)" stroke="#05071a" stroke-width="0.6" stroke-linejoin="round"/><path d="M485.2,263.0 L481.3,258.6 L484.2,220.7 L490.1,259.9 Z" fill="rgb(79,66,181)" stroke="#05071a" stroke-width="1.8" stroke-linejoin="round"/><path d="M505.4,264.6 L510.0,262.3 L507.7,229.0 L507.2,226.0 L499.0,257.8 Z" fill="rgb(61,85,182)" stroke="#05071a" stroke-width="1.0" stroke-linejoin="round"/><path d="M513.6,263.9 L510.0,262.3 L507.7,229.0 L517.5,262.1 Z" fill="rgb(66,75,173)" stroke="#05071a" stroke-width="0.8" stroke-linejoin="round"/><path d="M424.9,269.5 L431.8,267.6 L432.3,263.7 L426.0,258.2 L418.7,267.2 Z" fill="rgb(59,82,201)" stroke="#05071a" stroke-width="1.0" stroke-linejoin="round"/><path d="M441.8,262.7 L434.4,261.8 L432.3,263.7 L431.8,267.6 L435.2,271.2 L439.0,269.1 Z" fill="rgb(79,84,195)" stroke="#05071a" stroke-width="0.8" stroke-linejoin="round"/><path d="M441.8,262.7 L439.0,269.1 L446.9,270.7 L447.4,263.3 L444.8,261.1 Z" fill="rgb(59,67,184)" stroke="#05071a" stroke-width="1.0" stroke-linejoin="round"/><path d="M453.4,271.7 L457.0,267.5 L456.3,263.2 L455.2,262.6 L447.4,263.3 L446.9,270.7 L447.3,271.5 Z" fill="rgb(75,72,196)" stroke="#05071a" stroke-width="0.8" stroke-linejoin="round"/><path d="M456.3,263.2 L460.8,261.1 L466.3,262.5 L466.6,268.2 L462.2,271.1 L457.0,267.5 Z" fill="rgb(80,70,203)" stroke="#05071a" stroke-width="1.4" stroke-linejoin="round"/><path d="M475.7,268.2 L473.8,261.0 L470.7,259.2 L466.3,262.5 L466.6,268.2 L472.7,271.5 Z" fill="rgb(60,74,184)" stroke="#05071a" stroke-width="0.8" stroke-linejoin="round"/><path d="M479.1,268.3 L485.0,265.7 L485.2,263.0 L481.3,258.6 L473.8,261.0 L475.7,268.2 Z" fill="rgb(74,65,192)" stroke="#05071a" stroke-width="1.8" stroke-linejoin="round"/><path d="M485.2,263.0 L490.1,259.9 L495.6,260.7 L495.8,269.4 L489.7,271.4 L485.0,265.7 Z" fill="rgb(75,84,181)" stroke="#05071a" stroke-width="0.6" stroke-linejoin="round"/><path d="M495.6,260.7 L499.0,257.8 L505.4,264.6 L504.3,268.1 L497.7,270.2 L495.8,269.4 Z" fill="rgb(80,75,201)" stroke="#05071a" stroke-width="1.4" stroke-linejoin="round"/><path d="M514.1,270.3 L513.6,263.9 L510.0,262.3 L505.4,264.6 L504.3,268.1 L507.9,272.3 Z" fill="rgb(63,78,171)" stroke="#05071a" stroke-width="1.0" stroke-linejoin="round"/><path d="M515.6,271.3 L545.0,264.2 L517.5,262.1 L513.6,263.9 L514.1,270.3 Z" fill="rgb(79,65,183)" stroke="#05071a" stroke-width="1.8" stroke-linejoin="round"/><path d="M424.9,269.5 L426.3,277.3 L417.6,282.5 L356.3,289.2 L257.2,289.3 L418.7,267.2 Z" fill="rgb(75,83,177)" stroke="#05071a" stroke-width="1.0" stroke-linejoin="round"/><path d="M424.9,269.5 L426.3,277.3 L429.5,278.1 L435.5,273.6 L435.2,271.2 L431.8,267.6 Z" fill="rgb(70,70,199)" stroke="#05071a" stroke-width="1.0" stroke-linejoin="round"/><path d="M445.2,277.4 L447.3,271.5 L446.9,270.7 L439.0,269.1 L435.2,271.2 L435.5,273.6 L440.0,278.3 Z" fill="rgb(58,75,181)" stroke="#05071a" stroke-width="1.8" stroke-linejoin="round"/><path d="M447.7,279.7 L455.8,277.8 L453.4,271.7 L447.3,271.5 L445.2,277.4 Z" fill="rgb(66,83,171)" stroke="#05071a" stroke-width="1.4" stroke-linejoin="round"/><path d="M453.4,271.7 L457.0,267.5 L462.2,271.1 L462.1,274.6 L456.4,278.1 L455.8,277.8 Z" fill="rgb(78,87,180)" stroke="#05071a" stroke-width="0.8" stroke-linejoin="round"/><path d="M472.7,276.8 L472.7,271.5 L466.6,268.2 L462.2,271.1 L462.1,274.6 L466.6,278.3 Z" fill="rgb(75,80,196)" stroke="#05071a" stroke-width="0.8" stroke-linejoin="round"/><path d="M475.1,279.2 L481.9,276.2 L479.1,268.3 L475.7,268.2 L472.7,271.5 L472.7,276.8 Z" fill="rgb(65,80,205)" stroke="#05071a" stroke-width="1.0" stroke-linejoin="round"/><path d="M481.9,276.2 L487.0,276.5 L488.2,275.7 L489.7,271.4 L485.0,265.7 L479.1,268.3 Z" fill="rgb(72,87,193)" stroke="#05071a" stroke-width="0.6" stroke-linejoin="round"/><path d="M489.7,271.4 L488.2,275.7 L495.7,281.3 L500.1,278.2 L497.7,270.2 L495.8,269.4 Z" fill="rgb(65,76,181)" stroke="#05071a" stroke-width="1.0" stroke-linejoin="round"/><path d="M507.1,277.8 L507.9,272.3 L504.3,268.1 L497.7,270.2 L500.1,278.2 L503.9,279.1 Z" fill="rgb(75,85,193)" stroke="#05071a" stroke-width="1.8" stroke-linejoin="round"/><path d="M507.1,277.8 L507.9,272.3 L514.1,270.3 L515.6,271.3 L516.2,277.7 L512.7,281.0 Z" fill="rgb(62,64,197)" stroke="#05071a" stroke-width="1.8" stroke-linejoin="round"/><path d="M515.6,271.3 L545.0,264.2 L11059.1,-342.3 L631.0,281.8 L570.1,282.3 L516.2,277.7 Z" fill="rgb(58,85,183)" stroke="#05071a" stroke-width="0.6" stroke-linejoin="round"/><path d="M417.6,282.5 L426.3,277.3 L429.5,278.1 L431.1,283.5 L426.7,286.1 Z" fill="rgb(64,81,203)" stroke="#05071a" stroke-width="1.0" stroke-linejoin="round"/><path d="M440.0,278.3 L435.5,273.6 L429.5,278.1 L431.1,283.5 L436.1,285.6 L438.1,283.5 Z" fill="rgb(74,73,177)" stroke="#05071a" stroke-width="0.8" stroke-linejoin="round"/><path d="M445.9,286.8 L438.1,283.5 L440.0,278.3 L445.2,277.4 L447.7,279.7 L448.7,285.6 Z" fill="rgb(65,85,197)" stroke="#05071a" stroke-width="1.8" stroke-linejoin="round"/><path d="M448.7,285.6 L452.9,288.4 L457.9,283.8 L456.4,278.1 L455.8,277.8 L447.7,279.7 Z" fill="rgb(78,78,201)" stroke="#05071a" stroke-width="0.8" stroke-linejoin="round"/><path d="M466.6,278.3 L462.1,274.6 L456.4,278.1 L457.9,283.8 L463.4,284.9 L464.0,284.4 Z" fill="rgb(78,70,186)" stroke="#05071a" stroke-width="0.8" stroke-linejoin="round"/><path d="M475.1,279.2 L472.7,276.8 L466.6,278.3 L464.0,284.4 L472.2,285.4 L475.6,281.8 Z" fill="rgb(71,76,184)" stroke="#05071a" stroke-width="1.4" stroke-linejoin="round"/><path d="M475.1,279.2 L481.9,276.2 L487.0,276.5 L485.9,283.2 L479.5,285.7 L475.6,281.8 Z" fill="rgb(73,72,172)" stroke="#05071a" stroke-width="1.8" stroke-linejoin="round"/><path d="M488.4,285.9 L485.9,283.2 L487.0,276.5 L488.2,275.7 L495.7,281.3 L495.3,284.4 Z" fill="rgb(72,70,172)" stroke="#05071a" stroke-width="1.0" stroke-linejoin="round"/><path d="M495.3,284.4 L495.7,281.3 L500.1,278.2 L503.9,279.1 L503.7,287.1 L498.4,290.1 Z" fill="rgb(76,78,189)" stroke="#05071a" stroke-width="0.8" stroke-linejoin="round"/><path d="M513.0,283.1 L512.7,281.0 L507.1,277.8 L503.9,279.1 L503.7,287.1 L508.6,288.3 Z" fill="rgb(65,69,194)" stroke="#05071a" stroke-width="0.8" stroke-linejoin="round"/><path d="M513.0,283.1 L512.7,281.0 L516.2,277.7 L570.1,282.3 L517.7,286.8 Z" fill="rgb(70,65,170)" stroke="#05071a" stroke-width="1.8" stroke-linejoin="round"/><path d="M417.6,282.5 L426.7,286.1 L428.0,292.8 L417.9,295.8 L356.3,289.2 Z" fill="rgb(67,82,199)" stroke="#05071a" stroke-width="0.8" stroke-linejoin="round"/><path d="M426.7,286.1 L431.1,283.5 L436.1,285.6 L436.2,290.2 L428.3,293.0 L428.0,292.8 Z" fill="rgb(73,71,205)" stroke="#05071a" stroke-width="1.4" stroke-linejoin="round"/><path d="M445.9,286.8 L441.1,294.2 L440.2,294.6 L436.2,290.2 L436.1,285.6 L438.1,283.5 Z" fill="rgb(79,65,171)" stroke="#05071a" stroke-width="1.0" stroke-linejoin="round"/><path d="M445.9,286.8 L441.1,294.2 L450.6,294.8 L453.3,291.3 L452.9,288.4 L448.7,285.6 Z" fill="rgb(62,79,191)" stroke="#05071a" stroke-width="1.4" stroke-linejoin="round"/><path d="M464.9,291.9 L463.4,284.9 L457.9,283.8 L452.9,288.4 L453.3,291.3 L458.7,293.9 Z" fill="rgb(69,76,198)" stroke="#05071a" stroke-width="1.8" stroke-linejoin="round"/><path d="M467.3,293.4 L471.0,291.6 L472.2,285.4 L464.0,284.4 L463.4,284.9 L464.9,291.9 Z" fill="rgb(80,86,174)" stroke="#05071a" stroke-width="1.0" stroke-linejoin="round"/><path d="M476.9,292.7 L479.8,290.4 L479.5,285.7 L475.6,281.8 L472.2,285.4 L471.0,291.6 Z" fill="rgb(61,75,186)" stroke="#05071a" stroke-width="1.4" stroke-linejoin="round"/><path d="M487.8,291.0 L485.5,293.1 L479.8,290.4 L479.5,285.7 L485.9,283.2 L488.4,285.9 Z" fill="rgb(61,70,191)" stroke="#05071a" stroke-width="0.6" stroke-linejoin="round"/><path d="M487.8,291.0 L497.6,292.4 L497.9,292.2 L498.4,290.1 L495.3,284.4 L488.4,285.9 Z" fill="rgb(67,71,178)" stroke="#05071a" stroke-width="0.8" stroke-linejoin="round"/><path d="M497.9,292.2 L501.0,294.4 L510.4,294.5 L508.6,288.3 L503.7,287.1 L498.4,290.1 Z" fill="rgb(66,67,188)" stroke="#05071a" stroke-width="0.8" stroke-linejoin="round"/><path d="M513.0,283.1 L508.6,288.3 L510.4,294.5 L511.4,295.5 L515.2,293.9 L517.7,286.8 Z" fill="rgb(74,70,178)" stroke="#05071a" stroke-width="1.4" stroke-linejoin="round"/><path d="M517.7,286.8 L570.1,282.3 L631.0,281.8 L523.2,296.6 L515.2,293.9 Z" fill="rgb(80,79,183)" stroke="#05071a" stroke-width="0.6" stroke-linejoin="round"/><path d="M417.9,295.8 L427.4,303.1 L431.5,301.3 L428.3,293.0 L428.0,292.8 Z" fill="rgb(79,74,203)" stroke="#05071a" stroke-width="1.0" stroke-linejoin="round"/><path d="M439.7,296.7 L435.3,302.1 L431.5,301.3 L428.3,293.0 L436.2,290.2 L440.2,294.6 Z" fill="rgb(58,70,179)" stroke="#05071a" stroke-width="1.0" stroke-linejoin="round"/><path d="M451.1,300.0 L444.4,300.9 L439.7,296.7 L440.2,294.6 L441.1,294.2 L450.6,294.8 Z" fill="rgb(59,72,196)" stroke="#05071a" stroke-width="0.6" stroke-linejoin="round"/><path d="M458.9,301.0 L451.7,301.0 L451.1,300.0 L450.6,294.8 L453.3,291.3 L458.7,293.9 Z" fill="rgb(61,88,202)" stroke="#05071a" stroke-width="0.6" stroke-linejoin="round"/><path d="M460.9,302.9 L468.2,300.5 L467.3,293.4 L464.9,291.9 L458.7,293.9 L458.9,301.0 Z" fill="rgb(65,83,198)" stroke="#05071a" stroke-width="1.4" stroke-linejoin="round"/><path d="M468.2,300.5 L470.1,302.0 L477.1,298.5 L476.9,292.7 L471.0,291.6 L467.3,293.4 Z" fill="rgb(74,81,205)" stroke="#05071a" stroke-width="1.0" stroke-linejoin="round"/><path d="M476.9,292.7 L479.8,290.4 L485.5,293.1 L486.1,298.1 L481.3,300.9 L477.1,298.5 Z" fill="rgb(71,84,171)" stroke="#05071a" stroke-width="1.0" stroke-linejoin="round"/><path d="M487.8,291.0 L485.5,293.1 L486.1,298.1 L489.4,300.1 L494.4,298.4 L497.6,292.4 Z" fill="rgb(62,75,195)" stroke="#05071a" stroke-width="1.4" stroke-linejoin="round"/><path d="M497.6,292.4 L494.4,298.4 L497.6,302.4 L502.8,300.2 L501.0,294.4 L497.9,292.2 Z" fill="rgb(78,84,199)" stroke="#05071a" stroke-width="1.8" stroke-linejoin="round"/><path d="M502.8,300.2 L506.8,302.7 L511.0,299.5 L511.4,295.5 L510.4,294.5 L501.0,294.4 Z" fill="rgb(76,71,198)" stroke="#05071a" stroke-width="0.8" stroke-linejoin="round"/><path d="M515.2,293.9 L523.2,296.6 L516.2,303.8 L511.0,299.5 L511.4,295.5 Z" fill="rgb(58,84,199)" stroke="#05071a" stroke-width="0.8" stroke-linejoin="round"/><path d="M356.3,289.2 L257.2,289.3 L-128.8,308.1 L44.7,314.0 L418.7,312.1 L424.9,309.1 L427.4,303.1 L417.9,295.8 Z" fill="rgb(76,82,175)" stroke="#05071a" stroke-width="1.0" stroke-linejoin="round"/><path d="M437.1,307.4 L435.3,302.1 L431.5,301.3 L427.4,303.1 L424.9,309.1 L432.2,311.9 Z" fill="rgb(73,68,180)" stroke="#05071a" stroke-width="0.6" stroke-linejoin="round"/><path d="M444.4,300.9 L444.7,307.8 L437.7,307.7 L437.1,307.4 L435.3,302.1 L439.7,296.7 Z" fill="rgb(66,74,191)" stroke="#05071a" stroke-width="1.0" stroke-linejoin="round"/><path d="M451.1,300.0 L451.7,301.0 L450.4,307.8 L447.2,309.1 L444.7,307.8 L444.4,300.9 Z" fill="rgb(64,65,199)" stroke="#05071a" stroke-width="0.8" stroke-linejoin="round"/><path d="M460.9,302.9 L459.8,308.1 L455.9,310.4 L450.4,307.8 L451.7,301.0 L458.9,301.0 Z" fill="rgb(64,68,170)" stroke="#05071a" stroke-width="1.8" stroke-linejoin="round"/><path d="M460.9,302.9 L459.8,308.1 L465.5,311.6 L471.7,307.1 L470.1,302.0 L468.2,300.5 Z" fill="rgb(63,68,184)" stroke="#05071a" stroke-width="1.8" stroke-linejoin="round"/><path d="M470.1,302.0 L477.1,298.5 L481.3,300.9 L480.7,305.8 L473.7,308.4 L471.7,307.1 Z" fill="rgb(61,69,204)" stroke="#05071a" stroke-width="0.6" stroke-linejoin="round"/><path d="M486.1,298.1 L489.4,300.1 L489.7,306.5 L484.5,309.1 L480.7,305.8 L481.3,300.9 Z" fill="rgb(78,76,177)" stroke="#05071a" stroke-width="0.6" stroke-linejoin="round"/><path d="M494.4,298.4 L489.4,300.1 L489.7,306.5 L494.7,309.6 L497.7,307.2 L497.6,302.4 Z" fill="rgb(64,86,183)" stroke="#05071a" stroke-width="1.8" stroke-linejoin="round"/><path d="M497.6,302.4 L497.7,307.2 L504.8,307.8 L505.6,307.2 L506.8,302.7 L502.8,300.2 Z" fill="rgb(58,66,185)" stroke="#05071a" stroke-width="0.8" stroke-linejoin="round"/><path d="M511.0,299.5 L506.8,302.7 L505.6,307.2 L513.1,311.3 L516.8,305.7 L516.2,303.8 Z" fill="rgb(77,82,176)" stroke="#05071a" stroke-width="0.8" stroke-linejoin="round"/><path d="M432.4,317.1 L427.8,319.7 L418.7,312.1 L424.9,309.1 L432.2,311.9 Z" fill="rgb(64,77,203)" stroke="#05071a" stroke-width="0.6" stroke-linejoin="round"/><path d="M437.1,307.4 L432.2,311.9 L432.4,317.1 L435.0,318.5 L440.6,316.9 L437.7,307.7 Z" fill="rgb(70,73,190)" stroke="#05071a" stroke-width="1.0" stroke-linejoin="round"/><path d="M437.7,307.7 L444.7,307.8 L447.2,309.1 L446.1,316.0 L443.9,318.0 L440.6,316.9 Z" fill="rgb(71,65,201)" stroke="#05071a" stroke-width="0.6" stroke-linejoin="round"/><path d="M453.0,318.1 L446.1,316.0 L447.2,309.1 L450.4,307.8 L455.9,310.4 L456.1,316.4 Z" fill="rgb(70,88,200)" stroke="#05071a" stroke-width="0.8" stroke-linejoin="round"/><path d="M462.5,320.4 L456.1,316.4 L455.9,310.4 L459.8,308.1 L465.5,311.6 L465.5,316.1 Z" fill="rgb(59,84,175)" stroke="#05071a" stroke-width="1.0" stroke-linejoin="round"/><path d="M465.5,316.1 L465.5,311.6 L471.7,307.1 L473.7,308.4 L476.3,316.2 L474.5,317.2 Z" fill="rgb(73,87,186)" stroke="#05071a" stroke-width="1.8" stroke-linejoin="round"/><path d="M476.7,316.4 L483.9,313.2 L484.5,309.1 L480.7,305.8 L473.7,308.4 L476.3,316.2 Z" fill="rgb(63,73,191)" stroke="#05071a" stroke-width="1.0" stroke-linejoin="round"/><path d="M494.8,315.6 L488.5,317.3 L483.9,313.2 L484.5,309.1 L489.7,306.5 L494.7,309.6 Z" fill="rgb(79,79,186)" stroke="#05071a" stroke-width="1.4" stroke-linejoin="round"/><path d="M494.8,315.6 L494.7,309.6 L497.7,307.2 L504.8,307.8 L503.5,315.4 L497.6,318.0 Z" fill="rgb(67,65,177)" stroke="#05071a" stroke-width="1.0" stroke-linejoin="round"/><path d="M503.5,315.4 L508.1,317.4 L513.3,312.3 L513.1,311.3 L505.6,307.2 L504.8,307.8 Z" fill="rgb(76,66,201)" stroke="#05071a" stroke-width="1.0" stroke-linejoin="round"/><path d="M513.3,312.3 L513.1,311.3 L516.8,305.7 L534.5,311.0 L517.8,316.2 Z" fill="rgb(62,88,179)" stroke="#05071a" stroke-width="1.0" stroke-linejoin="round"/><path d="M427.8,319.7 L418.7,312.1 L44.7,314.0 L322.2,329.6 L416.0,328.9 L427.1,322.6 Z" fill="rgb(67,76,177)" stroke="#05071a" stroke-width="1.0" stroke-linejoin="round"/><path d="M435.0,318.5 L435.9,323.3 L430.7,326.6 L427.1,322.6 L427.8,319.7 L432.4,317.1 Z" fill="rgb(79,85,198)" stroke="#05071a" stroke-width="0.8" stroke-linejoin="round"/><path d="M438.8,325.5 L435.9,323.3 L435.0,318.5 L440.6,316.9 L443.9,318.0 L444.2,322.9 Z" fill="rgb(59,75,197)" stroke="#05071a" stroke-width="1.8" stroke-linejoin="round"/><path d="M447.5,326.1 L444.2,322.9 L443.9,318.0 L446.1,316.0 L453.0,318.1 L451.8,324.5 Z" fill="rgb(80,67,200)" stroke="#05071a" stroke-width="0.8" stroke-linejoin="round"/><path d="M462.8,322.3 L458.2,327.6 L451.8,324.5 L453.0,318.1 L456.1,316.4 L462.5,320.4 Z" fill="rgb(75,75,182)" stroke="#05071a" stroke-width="0.6" stroke-linejoin="round"/><path d="M462.8,322.3 L466.5,324.3 L471.2,323.1 L474.5,317.2 L465.5,316.1 L462.5,320.4 Z" fill="rgb(73,84,189)" stroke="#05071a" stroke-width="1.8" stroke-linejoin="round"/><path d="M474.5,317.2 L476.3,316.2 L476.7,316.4 L480.3,322.9 L475.6,327.1 L471.2,323.1 Z" fill="rgb(68,77,181)" stroke="#05071a" stroke-width="0.6" stroke-linejoin="round"/><path d="M476.7,316.4 L483.9,313.2 L488.5,317.3 L485.6,324.6 L480.3,322.9 Z" fill="rgb(71,80,182)" stroke="#05071a" stroke-width="0.8" stroke-linejoin="round"/><path d="M494.8,315.6 L488.5,317.3 L485.6,324.6 L485.9,325.2 L492.2,326.4 L498.2,322.0 L497.6,318.0 Z" fill="rgb(59,70,183)" stroke="#05071a" stroke-width="0.8" stroke-linejoin="round"/><path d="M497.6,318.0 L498.2,322.0 L502.2,326.0 L509.6,323.4 L508.1,317.4 L503.5,315.4 Z" fill="rgb(68,64,184)" stroke="#05071a" stroke-width="1.4" stroke-linejoin="round"/><path d="M513.1,325.1 L509.6,323.4 L508.1,317.4 L513.3,312.3 L517.8,316.2 L516.2,323.5 Z" fill="rgb(65,87,192)" stroke="#05071a" stroke-width="1.8" stroke-linejoin="round"/><path d="M516.2,323.5 L528.7,327.8 L4417.1,201.9 L534.5,311.0 L517.8,316.2 Z" fill="rgb(70,70,187)" stroke="#05071a" stroke-width="1.8" stroke-linejoin="round"/><path d="M430.7,326.6 L431.2,331.7 L427.5,333.6 L416.0,328.9 L427.1,322.6 Z" fill="rgb(63,86,193)" stroke="#05071a" stroke-width="1.4" stroke-linejoin="round"/><path d="M437.9,331.9 L438.8,325.5 L435.9,323.3 L430.7,326.6 L431.2,331.7 L436.1,333.1 Z" fill="rgb(62,74,193)" stroke="#05071a" stroke-width="0.8" stroke-linejoin="round"/><path d="M437.9,331.9 L438.8,325.5 L444.2,322.9 L447.5,326.1 L446.7,332.0 L445.1,332.8 Z" fill="rgb(67,85,175)" stroke="#05071a" stroke-width="0.6" stroke-linejoin="round"/><path d="M458.2,330.5 L452.2,334.7 L446.7,332.0 L447.5,326.1 L451.8,324.5 L458.2,327.6 Z" fill="rgb(65,87,189)" stroke="#05071a" stroke-width="1.0" stroke-linejoin="round"/><path d="M469.1,332.4 L466.5,324.3 L462.8,322.3 L458.2,327.6 L458.2,330.5 L463.4,335.3 Z" fill="rgb(75,76,180)" stroke="#05071a" stroke-width="1.4" stroke-linejoin="round"/><path d="M472.3,333.1 L475.3,329.9 L475.6,327.1 L471.2,323.1 L466.5,324.3 L469.1,332.4 Z" fill="rgb(58,84,187)" stroke="#05071a" stroke-width="1.0" stroke-linejoin="round"/><path d="M480.3,322.9 L485.6,324.6 L485.9,325.2 L484.9,329.9 L482.0,331.6 L475.3,329.9 L475.6,327.1 Z" fill="rgb(64,83,184)" stroke="#05071a" stroke-width="0.6" stroke-linejoin="round"/><path d="M493.8,330.7 L488.7,334.9 L484.9,329.9 L485.9,325.2 L492.2,326.4 Z" fill="rgb(58,70,194)" stroke="#05071a" stroke-width="0.8" stroke-linejoin="round"/><path d="M501.9,328.6 L498.3,332.8 L493.8,330.7 L492.2,326.4 L498.2,322.0 L502.2,326.0 Z" fill="rgb(73,84,202)" stroke="#05071a" stroke-width="0.8" stroke-linejoin="round"/><path d="M508.2,334.1 L501.9,328.6 L502.2,326.0 L509.6,323.4 L513.1,325.1 L512.9,332.2 Z" fill="rgb(63,84,197)" stroke="#05071a" stroke-width="1.4" stroke-linejoin="round"/><path d="M512.9,332.2 L513.1,325.1 L516.2,323.5 L528.7,327.8 L516.2,335.1 Z" fill="rgb(79,73,178)" stroke="#05071a" stroke-width="1.8" stroke-linejoin="round"/><path d="M417.0,343.0 L322.2,329.6 L416.0,328.9 L427.5,333.6 L427.1,340.9 Z" fill="rgb(70,65,178)" stroke="#05071a" stroke-width="0.6" stroke-linejoin="round"/><path d="M436.1,333.1 L431.2,331.7 L427.5,333.6 L427.1,340.9 L430.4,343.9 L436.5,337.8 Z" fill="rgb(60,69,199)" stroke="#05071a" stroke-width="0.6" stroke-linejoin="round"/><path d="M440.8,341.2 L436.5,337.8 L436.1,333.1 L437.9,331.9 L445.1,332.8 L443.9,340.1 Z" fill="rgb(73,65,174)" stroke="#05071a" stroke-width="1.0" stroke-linejoin="round"/><path d="M452.7,338.0 L452.2,334.7 L446.7,332.0 L445.1,332.8 L443.9,340.1 L449.0,343.3 Z" fill="rgb(61,69,202)" stroke="#05071a" stroke-width="1.8" stroke-linejoin="round"/><path d="M459.7,341.4 L463.0,337.5 L463.4,335.3 L458.2,330.5 L452.2,334.7 L452.7,338.0 Z" fill="rgb(67,84,198)" stroke="#05071a" stroke-width="1.0" stroke-linejoin="round"/><path d="M475.1,339.2 L472.3,333.1 L469.1,332.4 L463.4,335.3 L463.0,337.5 L468.5,342.0 L474.1,340.9 Z" fill="rgb(71,88,195)" stroke="#05071a" stroke-width="1.8" stroke-linejoin="round"/><path d="M480.0,339.1 L482.0,331.6 L475.3,329.9 L472.3,333.1 L475.1,339.2 Z" fill="rgb(61,72,192)" stroke="#05071a" stroke-width="0.6" stroke-linejoin="round"/><path d="M483.2,340.9 L489.0,338.4 L488.7,334.9 L484.9,329.9 L482.0,331.6 L480.0,339.1 Z" fill="rgb(80,77,186)" stroke="#05071a" stroke-width="1.4" stroke-linejoin="round"/><path d="M492.2,340.1 L498.5,337.4 L498.3,332.8 L493.8,330.7 L488.7,334.9 L489.0,338.4 Z" fill="rgb(78,74,186)" stroke="#05071a" stroke-width="1.0" stroke-linejoin="round"/><path d="M505.1,339.8 L508.2,334.1 L501.9,328.6 L498.3,332.8 L498.5,337.4 L503.7,340.8 Z" fill="rgb(62,80,192)" stroke="#05071a" stroke-width="1.0" stroke-linejoin="round"/><path d="M516.9,338.5 L516.2,335.1 L512.9,332.2 L508.2,334.1 L505.1,339.8 L513.3,341.5 Z" fill="rgb(64,84,180)" stroke="#05071a" stroke-width="0.6" stroke-linejoin="round"/><path d="M430.5,344.2 L425.6,350.6 L417.0,343.0 L427.1,340.9 L430.4,343.9 Z" fill="rgb(66,69,170)" stroke="#05071a" stroke-width="1.0" stroke-linejoin="round"/><path d="M440.8,341.2 L436.5,337.8 L430.4,343.9 L430.5,344.2 L436.0,348.3 L438.8,347.9 Z" fill="rgb(59,69,192)" stroke="#05071a" stroke-width="0.8" stroke-linejoin="round"/><path d="M449.0,343.3 L443.9,340.1 L440.8,341.2 L438.8,347.9 L442.2,349.8 L449.7,347.2 Z" fill="rgb(74,64,172)" stroke="#05071a" stroke-width="0.6" stroke-linejoin="round"/><path d="M459.7,341.4 L452.7,338.0 L449.0,343.3 L449.7,347.2 L453.3,350.0 L459.5,346.3 Z" fill="rgb(63,74,205)" stroke="#05071a" stroke-width="0.8" stroke-linejoin="round"/><path d="M459.7,341.4 L463.0,337.5 L468.5,342.0 L466.1,347.3 L461.2,347.1 L459.5,346.3 Z" fill="rgb(62,74,180)" stroke="#05071a" stroke-width="1.8" stroke-linejoin="round"/><path d="M474.1,340.9 L468.5,342.0 L466.1,347.3 L469.1,350.2 L474.7,347.4 Z" fill="rgb(64,67,181)" stroke="#05071a" stroke-width="1.0" stroke-linejoin="round"/><path d="M483.2,340.9 L483.4,346.2 L479.8,350.9 L474.7,347.4 L474.1,340.9 L475.1,339.2 L480.0,339.1 Z" fill="rgb(71,72,190)" stroke="#05071a" stroke-width="0.8" stroke-linejoin="round"/><path d="M483.2,340.9 L489.0,338.4 L492.2,340.1 L493.0,346.5 L489.5,348.1 L483.4,346.2 Z" fill="rgb(70,76,188)" stroke="#05071a" stroke-width="0.6" stroke-linejoin="round"/><path d="M493.0,346.5 L495.8,348.5 L503.5,344.9 L503.7,340.8 L498.5,337.4 L492.2,340.1 Z" fill="rgb(65,73,190)" stroke="#05071a" stroke-width="0.8" stroke-linejoin="round"/><path d="M512.5,348.2 L507.0,349.3 L503.5,344.9 L503.7,340.8 L505.1,339.8 L513.3,341.5 Z" fill="rgb(67,77,182)" stroke="#05071a" stroke-width="0.6" stroke-linejoin="round"/><path d="M512.5,348.2 L513.3,341.5 L516.9,338.5 L523.5,343.1 L515.1,349.5 Z" fill="rgb(77,78,199)" stroke="#05071a" stroke-width="0.8" stroke-linejoin="round"/><path d="M430.5,344.2 L425.6,350.6 L425.4,354.9 L430.3,356.0 L434.0,353.1 L436.0,348.3 Z" fill="rgb(63,87,198)" stroke="#05071a" stroke-width="0.6" stroke-linejoin="round"/><path d="M442.6,354.7 L442.2,349.8 L438.8,347.9 L436.0,348.3 L434.0,353.1 L439.4,357.4 Z" fill="rgb(70,79,175)" stroke="#05071a" stroke-width="1.8" stroke-linejoin="round"/><path d="M449.7,347.2 L442.2,349.8 L442.6,354.7 L448.3,358.3 L453.4,351.0 L453.3,350.0 Z" fill="rgb(73,69,205)" stroke="#05071a" stroke-width="0.6" stroke-linejoin="round"/><path d="M459.5,346.3 L461.2,347.1 L463.3,356.3 L459.3,358.1 L453.4,351.0 L453.3,350.0 Z" fill="rgb(77,64,171)" stroke="#05071a" stroke-width="1.0" stroke-linejoin="round"/><path d="M466.1,347.3 L469.1,350.2 L468.8,356.5 L463.3,356.3 L461.2,347.1 Z" fill="rgb(74,68,170)" stroke="#05071a" stroke-width="0.6" stroke-linejoin="round"/><path d="M479.8,350.9 L480.1,353.5 L474.6,356.7 L469.0,356.7 L468.8,356.5 L469.1,350.2 L474.7,347.4 Z" fill="rgb(72,66,196)" stroke="#05071a" stroke-width="1.0" stroke-linejoin="round"/><path d="M479.8,350.9 L480.1,353.5 L483.4,356.2 L487.5,355.7 L489.5,348.1 L483.4,346.2 Z" fill="rgb(77,76,198)" stroke="#05071a" stroke-width="1.4" stroke-linejoin="round"/><path d="M489.5,348.1 L487.5,355.7 L493.4,358.3 L496.6,355.3 L495.8,348.5 L493.0,346.5 Z" fill="rgb(66,69,189)" stroke="#05071a" stroke-width="0.8" stroke-linejoin="round"/><path d="M496.6,355.3 L501.1,355.7 L506.4,351.7 L507.0,349.3 L503.5,344.9 L495.8,348.5 Z" fill="rgb(67,66,179)" stroke="#05071a" stroke-width="0.8" stroke-linejoin="round"/><path d="M512.5,348.2 L507.0,349.3 L506.4,351.7 L511.7,359.9 L517.2,354.4 L515.1,349.5 Z" fill="rgb(71,84,190)" stroke="#05071a" stroke-width="1.8" stroke-linejoin="round"/><path d="M439.4,357.4 L434.0,353.1 L430.3,356.0 L436.7,369.1 Z" fill="rgb(66,88,192)" stroke="#05071a" stroke-width="1.4" stroke-linejoin="round"/><path d="M450.7,388.3 L448.3,358.3 L442.6,354.7 L439.4,357.4 L436.7,369.1 L445.8,436.6 Z" fill="rgb(75,87,177)" stroke="#05071a" stroke-width="1.0" stroke-linejoin="round"/><path d="M450.7,388.3 L459.3,358.1 L453.4,351.0 L448.3,358.3 Z" fill="rgb(75,80,173)" stroke="#05071a" stroke-width="0.6" stroke-linejoin="round"/><path d="M450.7,388.3 L459.3,358.1 L463.3,356.3 L468.8,356.5 L469.0,356.7 L442.3,1694.5 L445.8,436.6 Z" fill="rgb(78,70,185)" stroke="#05071a" stroke-width="1.4" stroke-linejoin="round"/><path d="M480.1,353.5 L474.6,356.7 L480.4,374.1 L483.4,356.2 Z" fill="rgb(68,79,188)" stroke="#05071a" stroke-width="1.8" stroke-linejoin="round"/><path d="M493.4,358.3 L552.7,1454.7 L509.4,370.9 L501.1,355.7 L496.6,355.3 Z" fill="rgb(65,85,205)" stroke="#05071a" stroke-width="1.4" stroke-linejoin="round"/><path d="M511.7,359.9 L506.4,351.7 L501.1,355.7 L509.4,370.9 Z" fill="rgb(66,88,182)" stroke="#05071a" stroke-width="1.8" stroke-linejoin="round"/></g>
<rect x="428" y="264.7" width="87.3" height="87.6" filter="url(#nzD)" opacity="0.55"/>
<clipPath id="lum"><path d="M457,271.5 C460,274 462.5,281 464.5,290 C466,297 467.5,304 471,308.5 C476,312 484,311.5 492,313 C500,315 507,318 510.5,321.5 C512,325 509,330 503,333.5 C496,336.5 486,337 478,336 C471,334 464,327 456,319 C449,312 441,305 435,297 C431.5,292 432,286 437,281 C442,276 450,271.5 457,271.5 Z"/></clipPath>
<linearGradient id="gg" x1="0" y1="0" x2="1" y2="0.3"><stop offset="0" stop-color="#6fdc5a"/><stop offset="0.35" stop-color="#3ccf3a"/><stop offset="1" stop-color="#2aa83a"/></linearGradient>
<g filter="url(#bl1)">
<path d="M457,271.5 C460,274 462.5,281 464.5,290 C466,297 467.5,304 471,308.5 C476,312 484,311.5 492,313 C500,315 507,318 510.5,321.5 C512,325 509,330 503,333.5 C496,336.5 486,337 478,336 C471,334 464,327 456,319 C449,312 441,305 435,297 C431.5,292 432,286 437,281 C442,276 450,271.5 457,271.5 Z" stroke="#05060f" fill="none" stroke-width="6.4" opacity="0.75"/>
</g>
<g clip-path="url(#lum)">
<rect x="428" y="264.7" width="87.3" height="87.6" fill="#2c3c92"/>
<g filter="url(#bl05)"><path d="M485.2,331.0 L479.5,327.4 L477.5,330.0 L478.4,332.6 L484.6,332.5 Z" fill="rgb(77,80,195)" stroke="#1a2366" stroke-width="0.6"/><path d="M500.2,345.8 L505.2,346.0 L505.2,358.8 L503.4,370.5 L496.9,357.8 L496.0,349.8 L497.2,346.4 Z" fill="rgb(67,95,189)" stroke="#1a2366" stroke-width="0.6"/><path d="M489.5,343.6 L488.6,346.6 L489.9,348.0 L496.0,349.8 L497.2,346.4 L494.4,344.2 Z" fill="rgb(75,96,198)" stroke="#1a2366" stroke-width="0.6"/><path d="M418.2,306.3 L430.1,300.8 L432.2,306.0 L422.4,307.3 Z" fill="rgb(67,116,210)" stroke="#1a2366" stroke-width="0.6"/><path d="M507.0,316.4 L524.2,329.4 L513.7,332.3 L506.8,319.5 Z" fill="rgb(68,119,187)" stroke="#1a2366" stroke-width="0.6"/><path d="M508.0,281.1 L523.9,281.8 L527.4,280.8 L510.8,267.2 L504.3,267.6 Z" fill="rgb(52,86,199)" stroke="#1a2366" stroke-width="0.6"/><path d="M474.0,285.9 L467.8,287.3 L465.5,286.0 L465.8,283.6 L474.6,284.7 L474.5,285.2 Z" fill="rgb(61,112,201)" stroke="#1a2366" stroke-width="0.6"/><path d="M478.5,317.3 L477.7,320.3 L471.6,320.0 L468.9,316.4 L477.4,311.6 Z" fill="rgb(71,96,213)" stroke="#1a2366" stroke-width="0.6"/><path d="M430.8,280.5 L432.0,281.7 L425.4,290.7 L425.1,290.9 L239.9,278.7 L408.0,274.7 Z" fill="rgb(52,107,202)" stroke="#1a2366" stroke-width="0.6"/><path d="M451.0,340.6 L448.8,347.5 L451.9,348.5 L453.8,347.5 L454.3,343.8 Z" fill="rgb(63,115,188)" stroke="#1a2366" stroke-width="0.6"/><path d="M497.9,287.2 L492.8,272.4 L494.6,271.3 L502.4,283.1 Z" fill="rgb(53,78,196)" stroke="#1a2366" stroke-width="0.6"/><path d="M502.4,283.1 L502.7,282.9 L499.4,266.0 L494.6,271.3 Z" fill="rgb(69,107,186)" stroke="#1a2366" stroke-width="0.6"/><path d="M487.4,271.7 L488.7,273.3 L487.9,275.3 L474.8,273.2 Z" fill="rgb(80,112,192)" stroke="#1a2366" stroke-width="0.6"/><path d="M450.7,284.4 L449.2,279.4 L447.0,273.4 L445.0,273.6 L440.0,275.7 L437.2,281.2 L439.9,286.8 Z" fill="rgb(52,105,207)" stroke="#1a2366" stroke-width="0.6"/><path d="M507.8,341.2 L519.8,347.3 L523.6,347.6 L509.4,335.7 L508.2,336.4 Z" fill="rgb(71,114,210)" stroke="#1a2366" stroke-width="0.6"/><path d="M450.9,350.3 L455.8,351.7 L456.1,352.2 L444.6,389.7 L446.6,356.3 L447.5,352.4 Z" fill="rgb(79,102,210)" stroke="#1a2366" stroke-width="0.6"/><path d="M479.5,327.4 L477.5,330.0 L475.0,329.7 L470.2,324.9 L471.6,320.0 L477.7,320.3 L481.3,323.3 Z" fill="rgb(64,90,198)" stroke="#1a2366" stroke-width="0.6"/><path d="M442.1,344.7 L447.3,349.2 L447.5,352.4 L446.6,356.3 L440.3,345.7 L441.9,344.8 Z" fill="rgb(66,82,199)" stroke="#1a2366" stroke-width="0.6"/><path d="M486.2,348.6 L484.1,352.0 L484.0,353.0 L492.1,353.4 L489.9,348.0 L488.6,346.6 Z" fill="rgb(78,78,207)" stroke="#1a2366" stroke-width="0.6"/><path d="M497.9,287.2 L495.8,289.9 L507.8,297.4 L523.9,281.8 L508.0,281.1 L502.7,282.9 L502.4,283.1 Z" fill="rgb(70,96,210)" stroke="#1a2366" stroke-width="0.6"/><path d="M456.6,278.4 L458.1,282.4 L462.1,279.9 L460.8,276.9 L455.8,275.2 Z" fill="rgb(61,87,190)" stroke="#1a2366" stroke-width="0.6"/><path d="M432.1,268.2 L433.9,270.8 L440.0,275.7 L445.0,273.6 L443.8,271.6 L433.0,261.3 Z" fill="rgb(67,113,211)" stroke="#1a2366" stroke-width="0.6"/><path d="M454.4,312.5 L456.6,318.4 L452.7,322.8 L444.4,316.7 L444.3,315.1 L444.5,314.0 L453.4,312.4 Z" fill="rgb(62,112,189)" stroke="#1a2366" stroke-width="0.6"/><path d="M429.2,329.7 L398.6,333.8 L-758.9,324.2 L334.9,313.3 L429.3,319.2 L432.2,325.3 Z" fill="rgb(65,115,214)" stroke="#1a2366" stroke-width="0.6"/><path d="M452.0,285.4 L456.6,284.7 L460.4,288.2 L459.9,292.5 L450.8,293.8 L450.6,293.7 Z" fill="rgb(77,81,184)" stroke="#1a2366" stroke-width="0.6"/><path d="M492.2,308.6 L506.9,314.2 L506.6,303.8 L494.0,303.8 Z" fill="rgb(75,92,197)" stroke="#1a2366" stroke-width="0.6"/><path d="M454.4,312.5 L461.0,309.1 L456.2,303.3 L453.1,305.6 L452.8,307.7 L453.4,312.4 Z" fill="rgb(78,83,184)" stroke="#1a2366" stroke-width="0.6"/><path d="M487.4,271.7 L486.5,269.5 L492.3,241.1 L499.6,265.6 L499.4,266.0 L494.6,271.3 L492.8,272.4 L488.7,273.3 Z" fill="rgb(73,79,201)" stroke="#1a2366" stroke-width="0.6"/><path d="M496.8,340.8 L494.4,344.2 L489.5,343.6 L489.3,343.3 L495.7,338.7 Z" fill="rgb(75,105,184)" stroke="#1a2366" stroke-width="0.6"/><path d="M430.0,339.9 L398.6,333.8 L429.2,329.7 L431.9,335.8 Z" fill="rgb(64,109,183)" stroke="#1a2366" stroke-width="0.6"/><path d="M454.4,312.5 L456.6,318.4 L461.8,319.9 L466.6,314.9 L464.8,309.4 L464.6,309.3 L461.0,309.1 Z" fill="rgb(55,85,194)" stroke="#1a2366" stroke-width="0.6"/><path d="M446.6,356.3 L440.3,345.7 L436.7,346.7 L435.0,352.2 L425.0,505.3 L444.6,389.7 Z" fill="rgb(71,119,187)" stroke="#1a2366" stroke-width="0.6"/><path d="M450.5,336.2 L451.3,331.9 L449.3,330.7 L439.5,327.5 L438.9,334.9 L448.0,338.4 L449.5,337.9 Z" fill="rgb(74,86,198)" stroke="#1a2366" stroke-width="0.6"/><path d="M507.5,342.3 L513.9,349.4 L513.8,349.7 L505.2,358.8 L505.2,346.0 Z" fill="rgb(74,106,189)" stroke="#1a2366" stroke-width="0.6"/><path d="M455.8,299.7 L462.2,297.1 L459.9,292.5 L450.8,293.8 Z" fill="rgb(57,117,191)" stroke="#1a2366" stroke-width="0.6"/><path d="M474.0,340.6 L469.6,334.0 L475.0,329.7 L477.5,330.0 L478.4,332.6 L478.4,334.6 Z" fill="rgb(65,88,184)" stroke="#1a2366" stroke-width="0.6"/><path d="M438.5,335.2 L431.9,335.8 L429.2,329.7 L432.2,325.3 L438.7,326.0 L439.5,327.5 L438.9,334.9 Z" fill="rgb(71,91,182)" stroke="#1a2366" stroke-width="0.6"/><path d="M507.5,336.1 L508.2,336.4 L507.8,341.2 L507.5,342.3 L505.2,346.0 L500.2,345.8 L497.7,340.8 Z" fill="rgb(69,84,204)" stroke="#1a2366" stroke-width="0.6"/><path d="M441.7,296.8 L430.7,298.6 L425.1,290.9 L425.4,290.7 L439.4,290.3 Z" fill="rgb(75,82,197)" stroke="#1a2366" stroke-width="0.6"/><path d="M478.9,343.5 L473.9,344.4 L484.1,352.0 L486.2,348.6 Z" fill="rgb(53,114,187)" stroke="#1a2366" stroke-width="0.6"/><path d="M454.3,343.8 L453.8,347.5 L455.8,351.7 L456.1,352.2 L465.6,346.7 L464.2,345.0 Z" fill="rgb(75,103,188)" stroke="#1a2366" stroke-width="0.6"/><path d="M479.0,292.3 L480.1,290.5 L474.5,285.2 L474.0,285.9 L472.5,290.4 L473.6,292.3 Z" fill="rgb(52,105,185)" stroke="#1a2366" stroke-width="0.6"/><path d="M447.0,273.4 L451.4,269.6 L452.3,270.0 L455.8,275.2 L456.6,278.4 L449.2,279.4 Z" fill="rgb(62,116,211)" stroke="#1a2366" stroke-width="0.6"/><path d="M433.9,270.8 L430.0,276.9 L430.8,280.5 L432.0,281.7 L437.2,281.2 L440.0,275.7 Z" fill="rgb(67,100,203)" stroke="#1a2366" stroke-width="0.6"/><path d="M433.0,261.3 L433.2,245.4 L443.8,271.6 Z" fill="rgb(53,86,198)" stroke="#1a2366" stroke-width="0.6"/><path d="M1135.0,273.8 L2811.6,235.7 L547.7,325.2 L508.7,314.0 L512.8,310.5 L518.6,309.6 Z" fill="rgb(56,114,212)" stroke="#1a2366" stroke-width="0.6"/><path d="M465.8,283.6 L465.5,286.0 L462.6,287.9 L460.4,288.2 L456.6,284.7 L458.1,282.4 L462.1,279.9 L465.2,279.8 Z" fill="rgb(61,113,215)" stroke="#1a2366" stroke-width="0.6"/><path d="M484.3,340.5 L478.9,343.5 L473.9,344.4 L473.7,344.4 L474.0,340.6 L478.4,334.6 L480.8,335.9 L483.1,338.1 Z" fill="rgb(71,92,196)" stroke="#1a2366" stroke-width="0.6"/><path d="M476.4,302.7 L464.8,309.4 L464.6,309.3 L463.2,298.2 L474.8,300.9 Z" fill="rgb(54,113,195)" stroke="#1a2366" stroke-width="0.6"/><path d="M430.6,341.6 L426.4,346.7 L435.0,352.2 L436.7,346.7 L435.3,344.9 Z" fill="rgb(60,96,213)" stroke="#1a2366" stroke-width="0.6"/><path d="M422.4,307.3 L432.2,306.0 L434.2,308.5 L431.1,311.7 Z" fill="rgb(56,93,203)" stroke="#1a2366" stroke-width="0.6"/><path d="M499.4,266.0 L502.7,282.9 L508.0,281.1 L504.3,267.6 L499.6,265.6 Z" fill="rgb(66,102,191)" stroke="#1a2366" stroke-width="0.6"/><path d="M492.1,353.4 L496.9,357.8 L496.0,349.8 L489.9,348.0 Z" fill="rgb(56,79,201)" stroke="#1a2366" stroke-width="0.6"/><path d="M485.3,334.1 L485.0,333.8 L480.8,335.9 L483.1,338.1 Z" fill="rgb(54,114,182)" stroke="#1a2366" stroke-width="0.6"/><path d="M441.7,296.8 L430.7,298.6 L430.1,300.8 L432.2,306.0 L434.2,308.5 L441.9,308.4 L443.3,303.9 L442.3,297.3 Z" fill="rgb(54,85,212)" stroke="#1a2366" stroke-width="0.6"/><path d="M441.9,344.8 L440.3,345.7 L436.7,346.7 L435.3,344.9 L438.3,337.3 Z" fill="rgb(71,107,195)" stroke="#1a2366" stroke-width="0.6"/><path d="M453.1,305.6 L447.6,303.7 L455.5,300.7 L456.2,303.3 Z" fill="rgb(64,107,210)" stroke="#1a2366" stroke-width="0.6"/><path d="M547.3,299.2 L511.3,301.0 L514.6,306.3 Z" fill="rgb(62,84,213)" stroke="#1a2366" stroke-width="0.6"/><path d="M464.0,331.4 L464.5,332.5 L469.6,334.0 L475.0,329.7 L470.2,324.9 L464.7,328.2 Z" fill="rgb(52,112,204)" stroke="#1a2366" stroke-width="0.6"/><path d="M474.0,285.9 L467.8,287.3 L468.1,292.3 L472.5,290.4 Z" fill="rgb(53,87,207)" stroke="#1a2366" stroke-width="0.6"/><path d="M465.2,279.8 L462.1,279.9 L460.8,276.9 L461.6,270.4 L471.0,267.8 L472.3,273.3 L472.3,273.7 Z" fill="rgb(73,92,187)" stroke="#1a2366" stroke-width="0.6"/><path d="M506.8,314.8 L507.0,316.4 L524.2,329.4 L547.7,325.2 L508.7,314.0 L506.9,314.3 Z" fill="rgb(54,120,211)" stroke="#1a2366" stroke-width="0.6"/><path d="M473.5,298.4 L467.4,293.4 L467.4,293.1 L468.1,292.3 L472.5,290.4 L473.6,292.3 Z" fill="rgb(78,91,188)" stroke="#1a2366" stroke-width="0.6"/><path d="M439.9,286.8 L437.2,281.2 L432.0,281.7 L425.4,290.7 L439.4,290.3 Z" fill="rgb(74,117,204)" stroke="#1a2366" stroke-width="0.6"/><path d="M496.8,340.8 L494.4,344.2 L497.2,346.4 L500.2,345.8 L497.7,340.8 Z" fill="rgb(63,93,198)" stroke="#1a2366" stroke-width="0.6"/><path d="M464.0,331.4 L464.5,332.5 L462.7,338.7 L450.5,336.2 L451.3,331.9 L452.1,331.1 Z" fill="rgb(62,117,202)" stroke="#1a2366" stroke-width="0.6"/><path d="M501.9,332.5 L501.5,326.1 L498.6,324.0 L494.0,330.4 L494.6,332.6 L495.5,332.8 Z" fill="rgb(77,102,204)" stroke="#1a2366" stroke-width="0.6"/><path d="M489.9,336.1 L492.2,333.7 L486.8,329.9 L485.2,331.0 L484.6,332.5 L485.0,333.8 L485.3,334.1 Z" fill="rgb(56,100,198)" stroke="#1a2366" stroke-width="0.6"/><path d="M464.0,331.4 L452.1,331.1 L453.6,325.9 L461.6,323.8 L464.7,328.2 Z" fill="rgb(77,118,207)" stroke="#1a2366" stroke-width="0.6"/><path d="M453.4,312.4 L444.5,314.0 L441.9,308.4 L443.3,303.9 L446.7,303.8 L452.8,307.7 Z" fill="rgb(79,101,213)" stroke="#1a2366" stroke-width="0.6"/><path d="M495.2,321.0 L498.6,324.0 L494.0,330.4 L490.7,321.5 L491.5,320.6 Z" fill="rgb(53,115,193)" stroke="#1a2366" stroke-width="0.6"/><path d="M450.9,350.3 L455.8,351.7 L453.8,347.5 L451.9,348.5 Z" fill="rgb(75,89,205)" stroke="#1a2366" stroke-width="0.6"/><path d="M485.2,322.5 L483.2,314.5 L485.0,308.5 L491.5,309.1 L491.5,320.6 L490.7,321.5 L486.7,322.7 Z" fill="rgb(54,84,182)" stroke="#1a2366" stroke-width="0.6"/><path d="M394.7,308.7 L334.9,313.3 L429.3,319.2 L429.6,318.7 L430.8,312.7 Z" fill="rgb(53,89,192)" stroke="#1a2366" stroke-width="0.6"/><path d="M452.1,331.1 L451.3,331.9 L449.3,330.7 L443.8,318.4 L444.4,316.7 L452.7,322.8 L453.6,325.9 Z" fill="rgb(58,80,211)" stroke="#1a2366" stroke-width="0.6"/><path d="M473.7,344.4 L468.9,348.4 L465.6,346.7 L464.2,345.0 L462.7,338.7 L464.5,332.5 L469.6,334.0 L474.0,340.6 Z" fill="rgb(80,108,202)" stroke="#1a2366" stroke-width="0.6"/><path d="M489.9,336.1 L488.2,341.3 L484.3,340.5 L483.1,338.1 L485.3,334.1 Z" fill="rgb(52,105,210)" stroke="#1a2366" stroke-width="0.6"/><path d="M461.6,323.8 L461.8,319.9 L456.6,318.4 L452.7,322.8 L453.6,325.9 Z" fill="rgb(61,117,207)" stroke="#1a2366" stroke-width="0.6"/><path d="M495.5,332.8 L494.6,332.6 L492.2,333.7 L489.9,336.1 L488.2,341.3 L489.3,343.3 L495.7,338.7 Z" fill="rgb(62,107,209)" stroke="#1a2366" stroke-width="0.6"/><path d="M450.5,336.2 L462.7,338.7 L464.2,345.0 L454.3,343.8 L451.0,340.6 L449.5,337.9 Z" fill="rgb(55,90,189)" stroke="#1a2366" stroke-width="0.6"/><path d="M507.5,336.1 L508.2,336.4 L509.4,335.7 L513.7,332.3 L506.8,319.5 L501.5,326.1 L501.9,332.5 Z" fill="rgb(72,88,184)" stroke="#1a2366" stroke-width="0.6"/><path d="M477.0,302.8 L477.8,303.2 L479.9,305.9 L477.4,311.6 L468.9,316.4 L466.6,314.9 L464.8,309.4 L476.4,302.7 Z" fill="rgb(63,102,210)" stroke="#1a2366" stroke-width="0.6"/><path d="M438.5,335.2 L438.3,337.3 L441.9,344.8 L442.1,344.7 L448.0,338.4 L438.9,334.9 Z" fill="rgb(56,113,196)" stroke="#1a2366" stroke-width="0.6"/><path d="M514.5,306.6 L512.8,310.5 L508.7,314.0 L506.9,314.3 L506.9,314.2 L506.6,303.8 L508.5,299.9 L511.3,301.0 L514.6,306.3 Z" fill="rgb(55,95,190)" stroke="#1a2366" stroke-width="0.6"/><path d="M486.8,329.9 L486.7,322.7 L490.7,321.5 L494.0,330.4 L494.6,332.6 L492.2,333.7 Z" fill="rgb(76,96,195)" stroke="#1a2366" stroke-width="0.6"/><path d="M488.7,273.3 L492.8,272.4 L497.9,287.2 L495.8,289.9 L493.9,290.6 L493.4,290.5 L491.2,289.0 L486.2,281.4 L487.9,275.3 Z" fill="rgb(53,108,182)" stroke="#1a2366" stroke-width="0.6"/><path d="M492.2,308.6 L491.5,309.1 L491.5,320.6 L495.2,321.0 L506.8,314.8 L506.9,314.3 L506.9,314.2 Z" fill="rgb(63,101,200)" stroke="#1a2366" stroke-width="0.6"/><path d="M492.2,308.6 L491.5,309.1 L485.0,308.5 L479.9,305.9 L477.8,303.2 L493.4,290.5 L493.9,290.6 L494.0,303.8 Z" fill="rgb(53,79,209)" stroke="#1a2366" stroke-width="0.6"/><path d="M484.6,332.5 L478.4,332.6 L478.4,334.6 L480.8,335.9 L485.0,333.8 Z" fill="rgb(67,87,187)" stroke="#1a2366" stroke-width="0.6"/><path d="M485.2,331.0 L479.5,327.4 L481.3,323.3 L485.2,322.5 L486.7,322.7 L486.8,329.9 Z" fill="rgb(77,120,200)" stroke="#1a2366" stroke-width="0.6"/><path d="M430.0,276.9 L430.8,280.5 L408.0,274.7 L425.0,271.9 Z" fill="rgb(61,107,195)" stroke="#1a2366" stroke-width="0.6"/><path d="M464.7,328.2 L470.2,324.9 L471.6,320.0 L468.9,316.4 L466.6,314.9 L461.8,319.9 L461.6,323.8 Z" fill="rgb(75,88,182)" stroke="#1a2366" stroke-width="0.6"/><path d="M439.5,327.5 L449.3,330.7 L443.8,318.4 L438.7,326.0 Z" fill="rgb(58,79,194)" stroke="#1a2366" stroke-width="0.6"/><path d="M486.5,269.5 L471.7,264.7 L474.8,128.7 L492.3,241.1 Z" fill="rgb(73,83,205)" stroke="#1a2366" stroke-width="0.6"/><path d="M465.8,283.6 L474.6,284.7 L475.9,279.8 L472.3,273.7 L465.2,279.8 Z" fill="rgb(74,101,199)" stroke="#1a2366" stroke-width="0.6"/><path d="M432.1,268.2 L425.0,271.9 L430.0,276.9 L433.9,270.8 Z" fill="rgb(57,107,203)" stroke="#1a2366" stroke-width="0.6"/><path d="M450.7,284.4 L449.2,279.4 L456.6,278.4 L458.1,282.4 L456.6,284.7 L452.0,285.4 Z" fill="rgb(61,82,209)" stroke="#1a2366" stroke-width="0.6"/><path d="M474.8,300.9 L463.2,298.2 L462.7,297.2 L467.4,293.4 L473.5,298.4 Z" fill="rgb(57,93,191)" stroke="#1a2366" stroke-width="0.6"/><path d="M485.2,322.5 L483.2,314.5 L478.5,317.3 L477.7,320.3 L481.3,323.3 Z" fill="rgb(73,91,182)" stroke="#1a2366" stroke-width="0.6"/><path d="M449.5,337.9 L448.0,338.4 L442.1,344.7 L447.3,349.2 L448.8,347.5 L451.0,340.6 Z" fill="rgb(72,116,207)" stroke="#1a2366" stroke-width="0.6"/><path d="M450.6,293.7 L450.8,293.8 L455.8,299.7 L455.5,300.7 L447.6,303.7 L446.7,303.8 L443.3,303.9 L442.3,297.3 Z" fill="rgb(75,95,180)" stroke="#1a2366" stroke-width="0.6"/><path d="M438.5,335.2 L431.9,335.8 L430.0,339.9 L430.6,341.6 L435.3,344.9 L438.3,337.3 Z" fill="rgb(66,81,208)" stroke="#1a2366" stroke-width="0.6"/><path d="M451.4,269.6 L452.4,-202.5 L474.8,128.7 L471.7,264.7 L471.0,267.8 L461.6,270.4 L452.3,270.0 Z" fill="rgb(76,104,190)" stroke="#1a2366" stroke-width="0.6"/><path d="M487.4,271.7 L486.5,269.5 L471.7,264.7 L471.0,267.8 L472.3,273.3 L474.8,273.2 Z" fill="rgb(53,80,215)" stroke="#1a2366" stroke-width="0.6"/><path d="M477.0,302.8 L479.0,292.3 L473.6,292.3 L473.5,298.4 L474.8,300.9 L476.4,302.7 Z" fill="rgb(78,111,202)" stroke="#1a2366" stroke-width="0.6"/><path d="M484.1,352.0 L473.9,344.4 L473.7,344.4 L468.9,348.4 L473.8,381.7 L484.0,353.0 Z" fill="rgb(55,82,195)" stroke="#1a2366" stroke-width="0.6"/><path d="M494.0,303.8 L493.9,290.6 L495.8,289.9 L507.8,297.4 L508.5,299.9 L506.6,303.8 Z" fill="rgb(80,109,185)" stroke="#1a2366" stroke-width="0.6"/><path d="M506.8,314.8 L507.0,316.4 L506.8,319.5 L501.5,326.1 L498.6,324.0 L495.2,321.0 Z" fill="rgb(67,81,195)" stroke="#1a2366" stroke-width="0.6"/><path d="M455.8,275.2 L460.8,276.9 L461.6,270.4 L452.3,270.0 Z" fill="rgb(72,81,211)" stroke="#1a2366" stroke-width="0.6"/><path d="M478.5,317.3 L483.2,314.5 L485.0,308.5 L479.9,305.9 L477.4,311.6 Z" fill="rgb(64,81,183)" stroke="#1a2366" stroke-width="0.6"/><path d="M477.0,302.8 L477.8,303.2 L493.4,290.5 L491.2,289.0 L480.1,290.5 L479.0,292.3 Z" fill="rgb(60,104,208)" stroke="#1a2366" stroke-width="0.6"/><path d="M431.1,311.7 L434.2,308.5 L441.9,308.4 L444.5,314.0 L444.3,315.1 L429.6,318.7 L430.8,312.7 Z" fill="rgb(61,118,183)" stroke="#1a2366" stroke-width="0.6"/><path d="M474.8,273.2 L472.3,273.3 L472.3,273.7 L475.9,279.8 L486.2,281.4 L487.9,275.3 Z" fill="rgb(80,80,192)" stroke="#1a2366" stroke-width="0.6"/><path d="M488.2,341.3 L489.3,343.3 L489.5,343.6 L488.6,346.6 L486.2,348.6 L478.9,343.5 L484.3,340.5 Z" fill="rgb(57,110,205)" stroke="#1a2366" stroke-width="0.6"/><path d="M456.2,303.3 L455.5,300.7 L455.8,299.7 L462.2,297.1 L462.7,297.2 L463.2,298.2 L464.6,309.3 L461.0,309.1 Z" fill="rgb(58,112,194)" stroke="#1a2366" stroke-width="0.6"/><path d="M450.7,284.4 L439.9,286.8 L439.4,290.3 L441.7,296.8 L442.3,297.3 L450.6,293.7 L452.0,285.4 Z" fill="rgb(54,98,186)" stroke="#1a2366" stroke-width="0.6"/><path d="M708.9,282.2 L527.4,280.8 L523.9,281.8 L507.8,297.4 L508.5,299.9 L511.3,301.0 L547.3,299.2 Z" fill="rgb(54,112,190)" stroke="#1a2366" stroke-width="0.6"/><path d="M507.5,342.3 L513.9,349.4 L519.8,347.3 L507.8,341.2 Z" fill="rgb(71,82,193)" stroke="#1a2366" stroke-width="0.6"/><path d="M474.5,285.2 L474.6,284.7 L475.9,279.8 L486.2,281.4 L491.2,289.0 L480.1,290.5 Z" fill="rgb(71,79,208)" stroke="#1a2366" stroke-width="0.6"/><path d="M518.6,309.6 L512.8,310.5 L514.5,306.6 Z" fill="rgb(69,100,211)" stroke="#1a2366" stroke-width="0.6"/><path d="M467.4,293.1 L467.4,293.4 L462.7,297.2 L462.2,297.1 L459.9,292.5 L460.4,288.2 L462.6,287.9 Z" fill="rgb(65,114,204)" stroke="#1a2366" stroke-width="0.6"/><path d="M1135.0,273.8 L518.6,309.6 L514.5,306.6 L514.6,306.3 L547.3,299.2 L708.9,282.2 Z" fill="rgb(68,118,188)" stroke="#1a2366" stroke-width="0.6"/><path d="M452.8,307.7 L446.7,303.8 L447.6,303.7 L453.1,305.6 Z" fill="rgb(75,78,199)" stroke="#1a2366" stroke-width="0.6"/><path d="M429.6,318.7 L429.3,319.2 L432.2,325.3 L438.7,326.0 L443.8,318.4 L444.4,316.7 L444.3,315.1 Z" fill="rgb(74,106,194)" stroke="#1a2366" stroke-width="0.6"/><path d="M468.1,292.3 L467.8,287.3 L465.5,286.0 L462.6,287.9 L467.4,293.1 Z" fill="rgb(69,85,188)" stroke="#1a2366" stroke-width="0.6"/><path d="M507.5,336.1 L497.7,340.8 L496.8,340.8 L495.7,338.7 L495.5,332.8 L501.9,332.5 Z" fill="rgb(61,108,185)" stroke="#1a2366" stroke-width="0.6"/><path d="M418.2,306.3 L422.4,307.3 L431.1,311.7 L430.8,312.7 L394.7,308.7 Z" fill="rgb(76,94,205)" stroke="#1a2366" stroke-width="0.6"/><path d="M450.9,350.3 L447.5,352.4 L447.3,349.2 L448.8,347.5 L451.9,348.5 Z" fill="rgb(62,86,188)" stroke="#1a2366" stroke-width="0.6"/></g>
</g>
<g filter="url(#bl1)">
<path d="M457,271.5 C460,274 462.5,281 464.5,290 C466,297 467.5,304 471,308.5 C476,312 484,311.5 492,313 C500,315 507,318 510.5,321.5 C512,325 509,330 503,333.5 C496,336.5 486,337 478,336 C471,334 464,327 456,319 C449,312 441,305 435,297 C431.5,292 432,286 437,281 C442,276 450,271.5 457,271.5 Z" stroke="url(#gg)" fill="none" stroke-width="3.4"/>
<path d="M457,271.5 C460,274 462.5,281 464.5,290 C466,297 467.5,304 471,308.5 C476,312 484,311.5 492,313 C500,315 507,318 510.5,321.5 C512,325 509,330 503,333.5 C496,336.5 486,337 478,336 C471,334 464,327 456,319 C449,312 441,305 435,297 C431.5,292 432,286 437,281 C442,276 450,271.5 457,271.5 Z" stroke="#1e8a2a" fill="none" stroke-width="3.6" opacity="0.6" stroke-dasharray="3 5 2 7 4 4"/>
<path d="M457,271.5 C460,274 462.5,281 464.5,290 C466,297 467.5,304 471,308.5 C476,312 484,311.5 492,313 C500,315 507,318 510.5,321.5 C512,325 509,330 503,333.5 C496,336.5 486,337 478,336 C471,334 464,327 456,319 C449,312 441,305 435,297 C431.5,292 432,286 437,281 C442,276 450,271.5 457,271.5 Z" stroke="#c8ffa0" fill="none" stroke-width="1.1" opacity="0.55" stroke-dasharray="2 3 5 4 1 6"/>
</g>
<path d="M454,283 l3,-1.5 l-0.8,2.6 Z" fill="#fff"/>
<path d="M449,298 l3,-1.5 l-0.8,2.6 Z" fill="#fff"/>
<path d="M462,309 l3,-1.5 l-0.8,2.6 Z" fill="#fff"/>
<path d="M469,315 l3,-1.5 l-0.8,2.6 Z" fill="#fff"/>
<path d="M488,292 l3,-1.5 l-0.8,2.6 Z" fill="#fff"/>
<path d="M446,305 l3,-1.5 l-0.8,2.6 Z" fill="#fff"/>
<circle cx="457" cy="276" r="1.1" fill="#e070d8" opacity="0.8"/>
<circle cx="445" cy="301" r="1.1" fill="#e070d8" opacity="0.8"/>
<circle cx="465" cy="305" r="1.1" fill="#e070d8" opacity="0.8"/>
<circle cx="470" cy="318" r="1.1" fill="#e070d8" opacity="0.8"/>
<circle cx="485" cy="290" r="1.1" fill="#e070d8" opacity="0.8"/>
<circle cx="460" cy="290" r="1.1" fill="#e070d8" opacity="0.8"/>
<circle cx="452" cy="274" r="1.1" fill="#e070d8" opacity="0.8"/>
</g>
<rect x="330.7" y="264.7" width="87.9" height="87.3" fill="none" stroke="#666" stroke-width="0.5"/>
<rect x="428" y="264.7" width="87.3" height="87.6" fill="none" stroke="#666" stroke-width="0.5"/>
<text x="4.20" y="233.90" font-size="13" font-weight="bold" fill="#000">D</text>
<text x="38.80" y="246.40" font-size="8.4" textLength="135.4" lengthAdjust="spacingAndGlyphs">Monocytes in human peripheral blood</text>
<line x1="51.60" y1="258.80" x2="51.60" y2="342.95" stroke="#2a2a2a" stroke-width="1.05"/>
<line x1="51.15" y1="342.50" x2="178.95" y2="342.50" stroke="#2a2a2a" stroke-width="1.05"/>
<line x1="49.80" y1="342.50" x2="51.60" y2="342.50" stroke="#2a2a2a" stroke-width="1.05"/>
<text x="49.20" y="344.80" font-size="6.83" text-anchor="end" textLength="3.61" lengthAdjust="spacingAndGlyphs">0</text>
<line x1="49.80" y1="314.60" x2="51.60" y2="314.60" stroke="#2a2a2a" stroke-width="1.05"/>
<text x="49.20" y="316.90" font-size="6.83" text-anchor="end" textLength="10.84" lengthAdjust="spacingAndGlyphs">500</text>
<line x1="49.80" y1="286.70" x2="51.60" y2="286.70" stroke="#2a2a2a" stroke-width="1.05"/>
<text x="49.20" y="289.00" font-size="6.83" text-anchor="end" textLength="16.26" lengthAdjust="spacingAndGlyphs">1,000</text>
<line x1="49.80" y1="258.80" x2="51.60" y2="258.80" stroke="#2a2a2a" stroke-width="1.05"/>
<text x="49.20" y="261.10" font-size="6.83" text-anchor="end" textLength="16.26" lengthAdjust="spacingAndGlyphs">1,500</text>
<line x1="52.65" y1="342.50" x2="52.65" y2="344.70" stroke="#2a2a2a" stroke-width="1.05"/>
<text x="52.65" y="352.90" font-size="7.04" text-anchor="middle" textLength="16.76" lengthAdjust="spacingAndGlyphs">0.001</text>
<line x1="73.70" y1="342.50" x2="73.70" y2="344.70" stroke="#2a2a2a" stroke-width="1.05"/>
<text x="73.70" y="352.90" font-size="7.04" text-anchor="middle" textLength="13.04" lengthAdjust="spacingAndGlyphs">0.01</text>
<line x1="94.75" y1="342.50" x2="94.75" y2="344.70" stroke="#2a2a2a" stroke-width="1.05"/>
<text x="94.75" y="352.90" font-size="7.04" text-anchor="middle" textLength="9.31" lengthAdjust="spacingAndGlyphs">0.1</text>
<line x1="115.80" y1="342.50" x2="115.80" y2="344.70" stroke="#2a2a2a" stroke-width="1.05"/>
<text x="115.80" y="352.90" font-size="7.04" text-anchor="middle" textLength="3.73" lengthAdjust="spacingAndGlyphs">1</text>
<line x1="136.85" y1="342.50" x2="136.85" y2="344.70" stroke="#2a2a2a" stroke-width="1.05"/>
<text x="136.85" y="352.90" font-size="7.04" text-anchor="middle" textLength="7.45" lengthAdjust="spacingAndGlyphs">10</text>
<line x1="157.90" y1="342.50" x2="157.90" y2="344.70" stroke="#2a2a2a" stroke-width="1.05"/>
<text x="157.90" y="352.90" font-size="7.04" text-anchor="middle" textLength="11.18" lengthAdjust="spacingAndGlyphs">100</text>
<line x1="178.95" y1="342.50" x2="178.95" y2="344.70" stroke="#2a2a2a" stroke-width="1.05"/>
<text x="178.95" y="352.90" font-size="7.04" text-anchor="middle" textLength="16.76" lengthAdjust="spacingAndGlyphs">1,000</text>
<line x1="58.99" y1="342.50" x2="58.99" y2="343.70" stroke="#333" stroke-width="0.6"/>
<line x1="62.69" y1="342.50" x2="62.69" y2="343.70" stroke="#333" stroke-width="0.6"/>
<line x1="65.32" y1="342.50" x2="65.32" y2="343.70" stroke="#333" stroke-width="0.6"/>
<line x1="67.36" y1="342.50" x2="67.36" y2="343.70" stroke="#333" stroke-width="0.6"/>
<line x1="69.03" y1="342.50" x2="69.03" y2="343.70" stroke="#333" stroke-width="0.6"/>
<line x1="70.44" y1="342.50" x2="70.44" y2="343.70" stroke="#333" stroke-width="0.6"/>
<line x1="71.66" y1="342.50" x2="71.66" y2="343.70" stroke="#333" stroke-width="0.6"/>
<line x1="72.74" y1="342.50" x2="72.74" y2="343.70" stroke="#333" stroke-width="0.6"/>
<line x1="80.04" y1="342.50" x2="80.04" y2="343.70" stroke="#333" stroke-width="0.6"/>
<line x1="83.74" y1="342.50" x2="83.74" y2="343.70" stroke="#333" stroke-width="0.6"/>
<line x1="86.37" y1="342.50" x2="86.37" y2="343.70" stroke="#333" stroke-width="0.6"/>
<line x1="88.41" y1="342.50" x2="88.41" y2="343.70" stroke="#333" stroke-width="0.6"/>
<line x1="90.08" y1="342.50" x2="90.08" y2="343.70" stroke="#333" stroke-width="0.6"/>
<line x1="91.49" y1="342.50" x2="91.49" y2="343.70" stroke="#333" stroke-width="0.6"/>
<line x1="92.71" y1="342.50" x2="92.71" y2="343.70" stroke="#333" stroke-width="0.6"/>
<line x1="93.79" y1="342.50" x2="93.79" y2="343.70" stroke="#333" stroke-width="0.6"/>
<line x1="101.09" y1="342.50" x2="101.09" y2="343.70" stroke="#333" stroke-width="0.6"/>
<line x1="104.79" y1="342.50" x2="104.79" y2="343.70" stroke="#333" stroke-width="0.6"/>
<line x1="107.42" y1="342.50" x2="107.42" y2="343.70" stroke="#333" stroke-width="0.6"/>
<line x1="109.46" y1="342.50" x2="109.46" y2="343.70" stroke="#333" stroke-width="0.6"/>
<line x1="111.13" y1="342.50" x2="111.13" y2="343.70" stroke="#333" stroke-width="0.6"/>
<line x1="112.54" y1="342.50" x2="112.54" y2="343.70" stroke="#333" stroke-width="0.6"/>
<line x1="113.76" y1="342.50" x2="113.76" y2="343.70" stroke="#333" stroke-width="0.6"/>
<line x1="114.84" y1="342.50" x2="114.84" y2="343.70" stroke="#333" stroke-width="0.6"/>
<line x1="122.14" y1="342.50" x2="122.14" y2="343.70" stroke="#333" stroke-width="0.6"/>
<line x1="125.84" y1="342.50" x2="125.84" y2="343.70" stroke="#333" stroke-width="0.6"/>
<line x1="128.47" y1="342.50" x2="128.47" y2="343.70" stroke="#333" stroke-width="0.6"/>
<line x1="130.51" y1="342.50" x2="130.51" y2="343.70" stroke="#333" stroke-width="0.6"/>
<line x1="132.18" y1="342.50" x2="132.18" y2="343.70" stroke="#333" stroke-width="0.6"/>
<line x1="133.59" y1="342.50" x2="133.59" y2="343.70" stroke="#333" stroke-width="0.6"/>
<line x1="134.81" y1="342.50" x2="134.81" y2="343.70" stroke="#333" stroke-width="0.6"/>
<line x1="135.89" y1="342.50" x2="135.89" y2="343.70" stroke="#333" stroke-width="0.6"/>
<line x1="143.19" y1="342.50" x2="143.19" y2="343.70" stroke="#333" stroke-width="0.6"/>
<line x1="146.89" y1="342.50" x2="146.89" y2="343.70" stroke="#333" stroke-width="0.6"/>
<line x1="149.52" y1="342.50" x2="149.52" y2="343.70" stroke="#333" stroke-width="0.6"/>
<line x1="151.56" y1="342.50" x2="151.56" y2="343.70" stroke="#333" stroke-width="0.6"/>
<line x1="153.23" y1="342.50" x2="153.23" y2="343.70" stroke="#333" stroke-width="0.6"/>
<line x1="154.64" y1="342.50" x2="154.64" y2="343.70" stroke="#333" stroke-width="0.6"/>
<line x1="155.86" y1="342.50" x2="155.86" y2="343.70" stroke="#333" stroke-width="0.6"/>
<line x1="156.94" y1="342.50" x2="156.94" y2="343.70" stroke="#333" stroke-width="0.6"/>
<line x1="164.24" y1="342.50" x2="164.24" y2="343.70" stroke="#333" stroke-width="0.6"/>
<line x1="167.94" y1="342.50" x2="167.94" y2="343.70" stroke="#333" stroke-width="0.6"/>
<line x1="170.57" y1="342.50" x2="170.57" y2="343.70" stroke="#333" stroke-width="0.6"/>
<line x1="172.61" y1="342.50" x2="172.61" y2="343.70" stroke="#333" stroke-width="0.6"/>
<line x1="174.28" y1="342.50" x2="174.28" y2="343.70" stroke="#333" stroke-width="0.6"/>
<line x1="175.69" y1="342.50" x2="175.69" y2="343.70" stroke="#333" stroke-width="0.6"/>
<line x1="176.91" y1="342.50" x2="176.91" y2="343.70" stroke="#333" stroke-width="0.6"/>
<line x1="177.99" y1="342.50" x2="177.99" y2="343.70" stroke="#333" stroke-width="0.6"/>
<text transform="translate(19.18,302.40) rotate(-90)" font-size="7.77" text-anchor="middle" textLength="12.74" lengthAdjust="spacingAndGlyphs">MFI</text>
<text transform="translate(28.18,302.60) rotate(-90)" font-size="7.77" text-anchor="middle" textLength="41" lengthAdjust="spacingAndGlyphs">(mean ± SD)</text>
<text x="74.10" y="362.00" font-size="7.98" textLength="97" lengthAdjust="spacingAndGlyphs">Antibody concentration (nmol/L)</text>
<path d="M58.02,342.49 L59.35,342.49 L60.67,342.49 L62.00,342.49 L63.33,342.49 L64.66,342.49 L65.98,342.48 L67.31,342.48 L68.64,342.48 L69.97,342.47 L71.30,342.47 L72.62,342.47 L73.95,342.46 L75.28,342.45 L76.61,342.44 L77.93,342.43 L79.26,342.42 L80.59,342.41 L81.92,342.39 L83.24,342.37 L84.57,342.35 L85.90,342.32 L87.23,342.29 L88.56,342.25 L89.88,342.21 L91.21,342.15 L92.54,342.09 L93.87,342.02 L95.19,341.94 L96.52,341.84 L97.85,341.72 L99.18,341.58 L100.51,341.42 L101.83,341.24 L103.16,341.02 L104.49,340.76 L105.82,340.46 L107.14,340.12 L108.47,339.71 L109.80,339.25 L111.13,338.71 L112.45,338.09 L113.78,337.38 L115.11,336.57 L116.44,335.65 L117.77,334.61 L119.09,333.44 L120.42,332.14 L121.75,330.70 L123.08,329.13 L124.40,327.42 L125.73,325.59 L127.06,323.65 L128.39,321.61 L129.72,319.50 L131.04,317.35 L132.37,315.17 L133.70,313.01 L135.03,310.89 L136.35,308.83 L137.68,306.86 L139.01,305.00 L140.34,303.27 L141.67,301.66 L142.99,300.19 L144.32,298.86 L145.65,297.66 L146.98,296.59 L148.30,295.64 L149.63,294.80 L150.96,294.07 L152.29,293.42 L153.61,292.87 L154.94,292.38 L156.27,291.97 L157.60,291.61 L158.93,291.30 L160.25,291.03 L161.58,290.80 L162.91,290.61 L164.24,290.44" stroke="#34489a" fill="none" stroke-width="0.9"/>
<path d="M58.02,342.50 L59.35,342.50 L60.67,342.50 L62.00,342.50 L63.33,342.50 L64.66,342.50 L65.98,342.50 L67.31,342.50 L68.64,342.50 L69.97,342.50 L71.30,342.50 L72.62,342.50 L73.95,342.50 L75.28,342.50 L76.61,342.50 L77.93,342.49 L79.26,342.49 L80.59,342.49 L81.92,342.49 L83.24,342.49 L84.57,342.49 L85.90,342.49 L87.23,342.48 L88.56,342.48 L89.88,342.48 L91.21,342.48 L92.54,342.47 L93.87,342.47 L95.19,342.46 L96.52,342.46 L97.85,342.45 L99.18,342.44 L100.51,342.44 L101.83,342.43 L103.16,342.41 L104.49,342.40 L105.82,342.38 L107.14,342.37 L108.47,342.35 L109.80,342.32 L111.13,342.29 L112.45,342.26 L113.78,342.22 L115.11,342.18 L116.44,342.13 L117.77,342.08 L119.09,342.01 L120.42,341.94 L121.75,341.85 L123.08,341.75 L124.40,341.64 L125.73,341.50 L127.06,341.35 L128.39,341.18 L129.72,340.98 L131.04,340.76 L132.37,340.50 L133.70,340.21 L135.03,339.88 L136.35,339.51 L137.68,339.08 L139.01,338.61 L140.34,338.08 L141.67,337.49 L142.99,336.84 L144.32,336.11 L145.65,335.32 L146.98,334.46 L148.30,333.53 L149.63,332.53 L150.96,331.47 L152.29,330.35 L153.61,329.18 L154.94,327.98 L156.27,326.74 L157.60,325.49 L158.93,324.23 L160.25,322.99 L161.58,321.77 L162.91,320.58 L164.24,319.44" stroke="#3d8a45" fill="none" stroke-width="0.9"/>
<line x1="94.75" y1="336.53" x2="94.75" y2="342.50" stroke="#2c3c8c" stroke-width="0.8"/>
<line x1="93.35" y1="336.53" x2="96.15" y2="336.53" stroke="#2c3c8c" stroke-width="0.8"/>
<line x1="93.35" y1="342.50" x2="96.15" y2="342.50" stroke="#2c3c8c" stroke-width="0.8"/>
<line x1="101.09" y1="333.85" x2="101.09" y2="340.55" stroke="#2c3c8c" stroke-width="0.8"/>
<line x1="99.69" y1="333.85" x2="102.49" y2="333.85" stroke="#2c3c8c" stroke-width="0.8"/>
<line x1="99.69" y1="340.55" x2="102.49" y2="340.55" stroke="#2c3c8c" stroke-width="0.8"/>
<line x1="115.80" y1="323.58" x2="115.80" y2="340.32" stroke="#2c3c8c" stroke-width="0.8"/>
<line x1="114.40" y1="323.58" x2="117.20" y2="323.58" stroke="#2c3c8c" stroke-width="0.8"/>
<line x1="114.40" y1="340.32" x2="117.20" y2="340.32" stroke="#2c3c8c" stroke-width="0.8"/>
<line x1="122.14" y1="316.83" x2="122.14" y2="340.27" stroke="#2c3c8c" stroke-width="0.8"/>
<line x1="120.74" y1="316.83" x2="123.54" y2="316.83" stroke="#2c3c8c" stroke-width="0.8"/>
<line x1="120.74" y1="340.27" x2="123.54" y2="340.27" stroke="#2c3c8c" stroke-width="0.8"/>
<line x1="136.85" y1="301.93" x2="136.85" y2="334.30" stroke="#2c3c8c" stroke-width="0.8"/>
<line x1="135.45" y1="301.93" x2="138.25" y2="301.93" stroke="#2c3c8c" stroke-width="0.8"/>
<line x1="135.45" y1="334.30" x2="138.25" y2="334.30" stroke="#2c3c8c" stroke-width="0.8"/>
<line x1="143.19" y1="296.07" x2="143.19" y2="320.63" stroke="#2c3c8c" stroke-width="0.8"/>
<line x1="141.79" y1="296.07" x2="144.59" y2="296.07" stroke="#2c3c8c" stroke-width="0.8"/>
<line x1="141.79" y1="320.63" x2="144.59" y2="320.63" stroke="#2c3c8c" stroke-width="0.8"/>
<line x1="157.90" y1="269.85" x2="157.90" y2="298.86" stroke="#2c3c8c" stroke-width="0.8"/>
<line x1="156.50" y1="269.85" x2="159.30" y2="269.85" stroke="#2c3c8c" stroke-width="0.8"/>
<line x1="156.50" y1="298.86" x2="159.30" y2="298.86" stroke="#2c3c8c" stroke-width="0.8"/>
<line x1="164.24" y1="258.24" x2="164.24" y2="305.90" stroke="#2c3c8c" stroke-width="0.8"/>
<line x1="162.84" y1="258.24" x2="165.64" y2="258.24" stroke="#2c3c8c" stroke-width="0.8"/>
<line x1="162.84" y1="305.90" x2="165.64" y2="305.90" stroke="#2c3c8c" stroke-width="0.8"/>
<line x1="157.90" y1="327.99" x2="157.90" y2="331.34" stroke="#1e6a30" stroke-width="0.7"/>
<line x1="156.60" y1="327.99" x2="159.20" y2="327.99" stroke="#1e6a30" stroke-width="0.7"/>
<line x1="156.60" y1="331.34" x2="159.20" y2="331.34" stroke="#1e6a30" stroke-width="0.7"/>
<line x1="164.24" y1="316.83" x2="164.24" y2="324.64" stroke="#1e6a30" stroke-width="0.7"/>
<line x1="162.94" y1="316.83" x2="165.54" y2="316.83" stroke="#1e6a30" stroke-width="0.7"/>
<line x1="162.94" y1="324.64" x2="165.54" y2="324.64" stroke="#1e6a30" stroke-width="0.7"/>
<path d="M56.02,342.82 L60.02,342.82 L58.02,339.22 Z" fill="#1e6a30"/>
<path d="M71.70,342.82 L75.70,342.82 L73.70,339.22 Z" fill="#1e6a30"/>
<path d="M78.04,342.82 L82.04,342.82 L80.04,339.22 Z" fill="#1e6a30"/>
<path d="M92.75,342.82 L96.75,342.82 L94.75,339.22 Z" fill="#1e6a30"/>
<path d="M99.09,342.82 L103.09,342.82 L101.09,339.22 Z" fill="#1e6a30"/>
<path d="M113.80,342.65 L117.80,342.65 L115.80,339.05 Z" fill="#1e6a30"/>
<path d="M120.14,342.65 L124.14,342.65 L122.14,339.05 Z" fill="#1e6a30"/>
<path d="M134.85,338.92 L138.85,338.92 L136.85,335.31 Z" fill="#1e6a30"/>
<path d="M141.19,337.52 L145.19,337.52 L143.19,333.92 Z" fill="#1e6a30"/>
<path d="M155.90,330.27 L159.90,330.27 L157.90,326.67 Z" fill="#1e6a30"/>
<path d="M162.24,321.34 L166.24,321.34 L164.24,317.74 Z" fill="#1e6a30"/>
<path d="M56.02,343.35 L60.02,343.35 L58.02,339.75 Z" fill="#1c2864"/>
<path d="M71.70,343.24 L75.70,343.24 L73.70,339.64 Z" fill="#1c2864"/>
<path d="M78.04,343.13 L82.04,343.13 L80.04,339.53 Z" fill="#1c2864"/>
<path d="M92.75,340.90 L96.75,340.90 L94.75,337.30 Z" fill="#1c2864"/>
<path d="M99.09,338.50 L103.09,338.50 L101.09,334.90 Z" fill="#1c2864"/>
<path d="M113.80,333.25 L117.80,333.25 L115.80,329.65 Z" fill="#1c2864"/>
<path d="M120.14,329.85 L124.14,329.85 L122.14,326.25 Z" fill="#1c2864"/>
<path d="M134.85,319.42 L138.85,319.42 L136.85,315.82 Z" fill="#1c2864"/>
<path d="M141.19,309.65 L145.19,309.65 L143.19,306.05 Z" fill="#1c2864"/>
<path d="M155.90,285.66 L159.90,285.66 L157.90,282.06 Z" fill="#1c2864"/>
<path d="M162.24,277.06 L166.24,277.06 L164.24,273.46 Z" fill="#1c2864"/>
<line x1="191.30" y1="263.60" x2="197.30" y2="263.60" stroke="#1c2864" stroke-width="0.8"/>
<path d="M192.40,265.31 L196.20,265.31 L194.30,261.89 Z" fill="#1c2864"/>
<text x="203.00" y="266.60" font-size="9.03" textLength="49.3" lengthAdjust="spacingAndGlyphs">Bexmarilimab</text>
<line x1="191.30" y1="275.30" x2="197.30" y2="275.30" stroke="#1e6a30" stroke-width="0.8"/>
<path d="M192.40,277.01 L196.20,277.01 L194.30,273.59 Z" fill="#1e6a30"/>
<text x="203.00" y="278.30" font-size="9.03" textLength="52.8" lengthAdjust="spacingAndGlyphs">Isotype control</text>
<text x="4.50" y="385.10" font-size="13" font-weight="bold" fill="#000">E</text>
<text x="80.00" y="393.80" font-size="8.4" textLength="37" lengthAdjust="spacingAndGlyphs">KG-1 cells</text>
<line x1="48.10" y1="406.50" x2="48.10" y2="490.75" stroke="#2a2a2a" stroke-width="1.05"/>
<line x1="47.65" y1="490.30" x2="175.15" y2="490.30" stroke="#2a2a2a" stroke-width="1.05"/>
<line x1="46.30" y1="490.30" x2="48.10" y2="490.30" stroke="#2a2a2a" stroke-width="1.05"/>
<text x="45.60" y="492.60" font-size="6.83" text-anchor="end" textLength="3.61" lengthAdjust="spacingAndGlyphs">0</text>
<line x1="46.30" y1="462.37" x2="48.10" y2="462.37" stroke="#2a2a2a" stroke-width="1.05"/>
<text x="45.60" y="464.67" font-size="6.83" text-anchor="end" textLength="16.26" lengthAdjust="spacingAndGlyphs">1,000</text>
<line x1="46.30" y1="434.43" x2="48.10" y2="434.43" stroke="#2a2a2a" stroke-width="1.05"/>
<text x="45.60" y="436.73" font-size="6.83" text-anchor="end" textLength="16.26" lengthAdjust="spacingAndGlyphs">2,000</text>
<line x1="46.30" y1="406.50" x2="48.10" y2="406.50" stroke="#2a2a2a" stroke-width="1.05"/>
<text x="45.60" y="408.80" font-size="6.83" text-anchor="end" textLength="16.26" lengthAdjust="spacingAndGlyphs">3,000</text>
<line x1="48.85" y1="490.30" x2="48.85" y2="492.50" stroke="#2a2a2a" stroke-width="1.05"/>
<text x="48.85" y="500.10" font-size="7.04" text-anchor="middle" textLength="16.76" lengthAdjust="spacingAndGlyphs">0.001</text>
<line x1="69.90" y1="490.30" x2="69.90" y2="492.50" stroke="#2a2a2a" stroke-width="1.05"/>
<text x="69.90" y="500.10" font-size="7.04" text-anchor="middle" textLength="13.04" lengthAdjust="spacingAndGlyphs">0.01</text>
<line x1="90.95" y1="490.30" x2="90.95" y2="492.50" stroke="#2a2a2a" stroke-width="1.05"/>
<text x="90.95" y="500.10" font-size="7.04" text-anchor="middle" textLength="9.31" lengthAdjust="spacingAndGlyphs">0.1</text>
<line x1="112.00" y1="490.30" x2="112.00" y2="492.50" stroke="#2a2a2a" stroke-width="1.05"/>
<text x="112.00" y="500.10" font-size="7.04" text-anchor="middle" textLength="3.73" lengthAdjust="spacingAndGlyphs">1</text>
<line x1="133.05" y1="490.30" x2="133.05" y2="492.50" stroke="#2a2a2a" stroke-width="1.05"/>
<text x="133.05" y="500.10" font-size="7.04" text-anchor="middle" textLength="7.45" lengthAdjust="spacingAndGlyphs">10</text>
<line x1="154.10" y1="490.30" x2="154.10" y2="492.50" stroke="#2a2a2a" stroke-width="1.05"/>
<text x="154.10" y="500.10" font-size="7.04" text-anchor="middle" textLength="11.18" lengthAdjust="spacingAndGlyphs">100</text>
<line x1="175.15" y1="490.30" x2="175.15" y2="492.50" stroke="#2a2a2a" stroke-width="1.05"/>
<text x="175.15" y="500.10" font-size="7.04" text-anchor="middle" textLength="16.76" lengthAdjust="spacingAndGlyphs">1,000</text>
<line x1="55.19" y1="490.30" x2="55.19" y2="491.50" stroke="#333" stroke-width="0.6"/>
<line x1="58.89" y1="490.30" x2="58.89" y2="491.50" stroke="#333" stroke-width="0.6"/>
<line x1="61.52" y1="490.30" x2="61.52" y2="491.50" stroke="#333" stroke-width="0.6"/>
<line x1="63.56" y1="490.30" x2="63.56" y2="491.50" stroke="#333" stroke-width="0.6"/>
<line x1="65.23" y1="490.30" x2="65.23" y2="491.50" stroke="#333" stroke-width="0.6"/>
<line x1="66.64" y1="490.30" x2="66.64" y2="491.50" stroke="#333" stroke-width="0.6"/>
<line x1="67.86" y1="490.30" x2="67.86" y2="491.50" stroke="#333" stroke-width="0.6"/>
<line x1="68.94" y1="490.30" x2="68.94" y2="491.50" stroke="#333" stroke-width="0.6"/>
<line x1="76.24" y1="490.30" x2="76.24" y2="491.50" stroke="#333" stroke-width="0.6"/>
<line x1="79.94" y1="490.30" x2="79.94" y2="491.50" stroke="#333" stroke-width="0.6"/>
<line x1="82.57" y1="490.30" x2="82.57" y2="491.50" stroke="#333" stroke-width="0.6"/>
<line x1="84.61" y1="490.30" x2="84.61" y2="491.50" stroke="#333" stroke-width="0.6"/>
<line x1="86.28" y1="490.30" x2="86.28" y2="491.50" stroke="#333" stroke-width="0.6"/>
<line x1="87.69" y1="490.30" x2="87.69" y2="491.50" stroke="#333" stroke-width="0.6"/>
<line x1="88.91" y1="490.30" x2="88.91" y2="491.50" stroke="#333" stroke-width="0.6"/>
<line x1="89.99" y1="490.30" x2="89.99" y2="491.50" stroke="#333" stroke-width="0.6"/>
<line x1="97.29" y1="490.30" x2="97.29" y2="491.50" stroke="#333" stroke-width="0.6"/>
<line x1="100.99" y1="490.30" x2="100.99" y2="491.50" stroke="#333" stroke-width="0.6"/>
<line x1="103.62" y1="490.30" x2="103.62" y2="491.50" stroke="#333" stroke-width="0.6"/>
<line x1="105.66" y1="490.30" x2="105.66" y2="491.50" stroke="#333" stroke-width="0.6"/>
<line x1="107.33" y1="490.30" x2="107.33" y2="491.50" stroke="#333" stroke-width="0.6"/>
<line x1="108.74" y1="490.30" x2="108.74" y2="491.50" stroke="#333" stroke-width="0.6"/>
<line x1="109.96" y1="490.30" x2="109.96" y2="491.50" stroke="#333" stroke-width="0.6"/>
<line x1="111.04" y1="490.30" x2="111.04" y2="491.50" stroke="#333" stroke-width="0.6"/>
<line x1="118.34" y1="490.30" x2="118.34" y2="491.50" stroke="#333" stroke-width="0.6"/>
<line x1="122.04" y1="490.30" x2="122.04" y2="491.50" stroke="#333" stroke-width="0.6"/>
<line x1="124.67" y1="490.30" x2="124.67" y2="491.50" stroke="#333" stroke-width="0.6"/>
<line x1="126.71" y1="490.30" x2="126.71" y2="491.50" stroke="#333" stroke-width="0.6"/>
<line x1="128.38" y1="490.30" x2="128.38" y2="491.50" stroke="#333" stroke-width="0.6"/>
<line x1="129.79" y1="490.30" x2="129.79" y2="491.50" stroke="#333" stroke-width="0.6"/>
<line x1="131.01" y1="490.30" x2="131.01" y2="491.50" stroke="#333" stroke-width="0.6"/>
<line x1="132.09" y1="490.30" x2="132.09" y2="491.50" stroke="#333" stroke-width="0.6"/>
<line x1="139.39" y1="490.30" x2="139.39" y2="491.50" stroke="#333" stroke-width="0.6"/>
<line x1="143.09" y1="490.30" x2="143.09" y2="491.50" stroke="#333" stroke-width="0.6"/>
<line x1="145.72" y1="490.30" x2="145.72" y2="491.50" stroke="#333" stroke-width="0.6"/>
<line x1="147.76" y1="490.30" x2="147.76" y2="491.50" stroke="#333" stroke-width="0.6"/>
<line x1="149.43" y1="490.30" x2="149.43" y2="491.50" stroke="#333" stroke-width="0.6"/>
<line x1="150.84" y1="490.30" x2="150.84" y2="491.50" stroke="#333" stroke-width="0.6"/>
<line x1="152.06" y1="490.30" x2="152.06" y2="491.50" stroke="#333" stroke-width="0.6"/>
<line x1="153.14" y1="490.30" x2="153.14" y2="491.50" stroke="#333" stroke-width="0.6"/>
<line x1="160.44" y1="490.30" x2="160.44" y2="491.50" stroke="#333" stroke-width="0.6"/>
<line x1="164.14" y1="490.30" x2="164.14" y2="491.50" stroke="#333" stroke-width="0.6"/>
<line x1="166.77" y1="490.30" x2="166.77" y2="491.50" stroke="#333" stroke-width="0.6"/>
<line x1="168.81" y1="490.30" x2="168.81" y2="491.50" stroke="#333" stroke-width="0.6"/>
<line x1="170.48" y1="490.30" x2="170.48" y2="491.50" stroke="#333" stroke-width="0.6"/>
<line x1="171.89" y1="490.30" x2="171.89" y2="491.50" stroke="#333" stroke-width="0.6"/>
<line x1="173.11" y1="490.30" x2="173.11" y2="491.50" stroke="#333" stroke-width="0.6"/>
<line x1="174.19" y1="490.30" x2="174.19" y2="491.50" stroke="#333" stroke-width="0.6"/>
<text transform="translate(14.28,451.00) rotate(-90)" font-size="7.77" text-anchor="middle" textLength="12.74" lengthAdjust="spacingAndGlyphs">MFI</text>
<text transform="translate(22.48,450.50) rotate(-90)" font-size="7.77" text-anchor="middle" textLength="41" lengthAdjust="spacingAndGlyphs">(mean ± SD)</text>
<text x="73.50" y="511.00" font-size="7.98" textLength="97.5" lengthAdjust="spacingAndGlyphs">Antibody concentration (nmol/L)</text>
<path d="M54.22,490.15 L55.55,490.13 L56.87,490.11 L58.20,490.08 L59.53,490.06 L60.86,490.02 L62.18,489.99 L63.51,489.94 L64.84,489.90 L66.17,489.84 L67.50,489.78 L68.82,489.71 L70.15,489.63 L71.48,489.54 L72.81,489.44 L74.13,489.33 L75.46,489.20 L76.79,489.05 L78.12,488.89 L79.44,488.70 L80.77,488.49 L82.10,488.26 L83.43,487.99 L84.76,487.69 L86.08,487.36 L87.41,486.98 L88.74,486.55 L90.07,486.08 L91.39,485.55 L92.72,484.95 L94.05,484.29 L95.38,483.56 L96.71,482.74 L98.03,481.84 L99.36,480.85 L100.69,479.76 L102.02,478.57 L103.34,477.27 L104.67,475.87 L106.00,474.35 L107.33,472.72 L108.65,470.98 L109.98,469.13 L111.31,467.18 L112.64,465.14 L113.97,463.02 L115.29,460.83 L116.62,458.59 L117.95,456.31 L119.28,454.01 L120.60,451.71 L121.93,449.43 L123.26,447.18 L124.59,444.98 L125.92,442.85 L127.24,440.80 L128.57,438.84 L129.90,436.98 L131.23,435.22 L132.55,433.57 L133.88,432.04 L135.21,430.62 L136.54,429.30 L137.87,428.10 L139.19,426.99 L140.52,425.99 L141.85,425.08 L143.18,424.25 L144.50,423.50 L145.83,422.83 L147.16,422.23 L148.49,421.69 L149.81,421.21 L151.14,420.78 L152.47,420.39 L153.80,420.05 L155.13,419.74 L156.45,419.47 L157.78,419.23 L159.11,419.02 L160.44,418.83" stroke="#34489a" fill="none" stroke-width="0.9"/>
<path d="M54.22,490.30 L55.55,490.30 L56.87,490.30 L58.20,490.29 L59.53,490.29 L60.86,490.29 L62.18,490.29 L63.51,490.29 L64.84,490.29 L66.17,490.29 L67.50,490.29 L68.82,490.28 L70.15,490.28 L71.48,490.28 L72.81,490.28 L74.13,490.27 L75.46,490.27 L76.79,490.27 L78.12,490.26 L79.44,490.26 L80.77,490.25 L82.10,490.24 L83.43,490.24 L84.76,490.23 L86.08,490.22 L87.41,490.20 L88.74,490.19 L90.07,490.18 L91.39,490.16 L92.72,490.14 L94.05,490.12 L95.38,490.09 L96.71,490.06 L98.03,490.03 L99.36,489.99 L100.69,489.95 L102.02,489.90 L103.34,489.85 L104.67,489.79 L106.00,489.72 L107.33,489.64 L108.65,489.55 L109.98,489.45 L111.31,489.34 L112.64,489.21 L113.97,489.07 L115.29,488.91 L116.62,488.74 L117.95,488.54 L119.28,488.32 L120.60,488.07 L121.93,487.80 L123.26,487.50 L124.59,487.17 L125.92,486.81 L127.24,486.42 L128.57,486.00 L129.90,485.54 L131.23,485.06 L132.55,484.54 L133.88,484.00 L135.21,483.43 L136.54,482.83 L137.87,482.22 L139.19,481.59 L140.52,480.96 L141.85,480.32 L143.18,479.68 L144.50,479.05 L145.83,478.44 L147.16,477.84 L148.49,477.26 L149.81,476.70 L151.14,476.17 L152.47,475.68 L153.80,475.21 L155.13,474.78 L156.45,474.37 L157.78,474.00 L159.11,473.66 L160.44,473.35" stroke="#3d8a45" fill="none" stroke-width="0.9"/>
<line x1="112.00" y1="462.93" x2="112.00" y2="469.07" stroke="#1c2864" stroke-width="0.7"/>
<line x1="110.80" y1="462.93" x2="113.20" y2="462.93" stroke="#1c2864" stroke-width="0.7"/>
<line x1="110.80" y1="469.07" x2="113.20" y2="469.07" stroke="#1c2864" stroke-width="0.7"/>
<line x1="118.34" y1="450.63" x2="118.34" y2="456.78" stroke="#1c2864" stroke-width="0.7"/>
<line x1="117.14" y1="450.63" x2="119.54" y2="450.63" stroke="#1c2864" stroke-width="0.7"/>
<line x1="117.14" y1="456.78" x2="119.54" y2="456.78" stroke="#1c2864" stroke-width="0.7"/>
<line x1="90.95" y1="485.55" x2="90.95" y2="488.90" stroke="#1c2864" stroke-width="0.7"/>
<line x1="89.75" y1="485.55" x2="92.15" y2="485.55" stroke="#1c2864" stroke-width="0.7"/>
<line x1="89.75" y1="488.90" x2="92.15" y2="488.90" stroke="#1c2864" stroke-width="0.7"/>
<path d="M52.22,490.76 L56.22,490.76 L54.22,487.16 Z" fill="#1e6a30"/>
<path d="M67.90,490.76 L71.90,490.76 L69.90,487.16 Z" fill="#1e6a30"/>
<path d="M74.24,490.76 L78.24,490.76 L76.24,487.16 Z" fill="#1e6a30"/>
<path d="M88.95,490.76 L92.95,490.76 L90.95,487.16 Z" fill="#1e6a30"/>
<path d="M95.29,490.76 L99.29,490.76 L97.29,487.16 Z" fill="#1e6a30"/>
<path d="M110.00,489.62 L114.00,489.62 L112.00,486.02 Z" fill="#1e6a30"/>
<path d="M116.34,488.61 L120.34,488.61 L118.34,485.01 Z" fill="#1e6a30"/>
<path d="M131.05,483.72 L135.05,483.72 L133.05,480.12 Z" fill="#1e6a30"/>
<path d="M137.39,482.02 L141.39,482.02 L139.39,478.42 Z" fill="#1e6a30"/>
<path d="M152.10,475.82 L156.10,475.82 L154.10,472.22 Z" fill="#1e6a30"/>
<path d="M158.44,473.02 L162.44,473.02 L160.44,469.42 Z" fill="#1e6a30"/>
<path d="M52.22,491.32 L56.22,491.32 L54.22,487.72 Z" fill="#1c2864"/>
<path d="M67.90,491.18 L71.90,491.18 L69.90,487.58 Z" fill="#1c2864"/>
<path d="M74.24,491.04 L78.24,491.04 L76.24,487.44 Z" fill="#1c2864"/>
<path d="M88.95,488.61 L92.95,488.61 L90.95,485.01 Z" fill="#1c2864"/>
<path d="M95.29,485.12 L99.29,485.12 L97.29,481.52 Z" fill="#1c2864"/>
<path d="M110.00,467.86 L114.00,467.86 L112.00,464.26 Z" fill="#1c2864"/>
<path d="M116.34,455.09 L120.34,455.09 L118.34,451.49 Z" fill="#1c2864"/>
<path d="M131.05,434.06 L135.05,434.06 L133.05,430.46 Z" fill="#1c2864"/>
<path d="M137.39,429.25 L141.39,429.25 L139.39,425.65 Z" fill="#1c2864"/>
<path d="M152.10,418.19 L156.10,418.19 L154.10,414.59 Z" fill="#1c2864"/>
<path d="M158.44,411.99 L162.44,411.99 L160.44,408.39 Z" fill="#1c2864"/>
<line x1="187.60" y1="413.20" x2="193.60" y2="413.20" stroke="#1c2864" stroke-width="0.8"/>
<path d="M188.70,414.91 L192.50,414.91 L190.60,411.49 Z" fill="#1c2864"/>
<text x="198.70" y="416.20" font-size="9.03" textLength="49.3" lengthAdjust="spacingAndGlyphs">Bexmarilimab</text>
<line x1="187.60" y1="424.40" x2="193.60" y2="424.40" stroke="#1e6a30" stroke-width="0.8"/>
<path d="M188.70,426.11 L192.50,426.11 L190.60,422.69 Z" fill="#1e6a30"/>
<text x="198.70" y="427.40" font-size="9.03" textLength="52.8" lengthAdjust="spacingAndGlyphs">Isotype control</text>
<text x="262.80" y="386.30" font-size="13" font-weight="bold" fill="#000">F</text>
<rect x="296.0" y="400.2" width="95.8" height="94.8" fill="#fff" stroke="#9a9a9a" stroke-width="0.8"/>
<path d="M296.00,495.00 L296.00,486.64 L296.32,487.99 L296.64,486.84 L296.96,487.82 L297.28,487.70 L297.60,484.54 L297.92,484.03 L298.24,488.08 L298.55,484.83 L298.87,484.46 L299.19,488.18 L299.51,485.21 L299.83,486.88 L300.15,484.67 L300.47,485.08 L300.79,482.10 L301.11,484.18 L301.43,484.95 L301.75,482.72 L302.07,483.41 L302.39,482.61 L302.71,479.01 L303.03,482.18 L303.34,480.87 L303.66,478.93 L303.98,477.08 L304.30,480.98 L304.62,478.50 L304.94,479.34 L305.26,479.74 L305.58,478.44 L305.90,479.08 L306.22,475.90 L306.54,477.57 L306.86,475.28 L307.18,477.40 L307.50,476.66 L307.82,472.16 L308.13,471.91 L308.45,471.85 L308.77,475.26 L309.09,472.03 L309.41,472.54 L309.73,470.37 L310.05,470.96 L310.37,469.85 L310.69,469.19 L311.01,469.93 L311.33,469.45 L311.65,470.63 L311.97,469.00 L312.29,469.73 L312.61,468.79 L312.92,468.93 L313.24,466.71 L313.56,463.51 L313.88,466.58 L314.20,466.56 L314.52,465.69 L314.84,463.39 L315.16,463.58 L315.48,460.41 L315.80,463.08 L316.12,461.07 L316.44,458.72 L316.76,456.71 L317.08,459.97 L317.40,459.83 L317.71,454.29 L318.03,457.14 L318.35,454.26 L318.67,452.06 L318.99,451.95 L319.31,453.46 L319.63,453.05 L319.95,447.78 L320.27,449.79 L320.59,445.87 L320.91,448.41 L321.23,445.44 L321.55,447.34 L321.87,446.90 L322.19,443.29 L322.50,444.57 L322.82,439.71 L323.14,437.23 L323.46,438.67 L323.78,434.44 L324.10,434.02 L324.42,433.84 L324.74,433.61 L325.06,429.86 L325.38,427.35 L325.70,429.72 L326.02,424.93 L326.34,426.37 L326.66,424.13 L326.98,419.51 L327.29,418.32 L327.61,417.03 L327.93,416.08 L328.25,414.23 L328.57,412.45 L328.89,411.17 L329.21,411.52 L329.53,408.09 L329.85,406.53 L330.17,406.86 L330.49,403.18 L330.81,403.98 L331.13,408.03 L331.45,406.19 L331.77,406.86 L332.08,405.19 L332.40,410.06 L332.72,413.68 L333.04,413.54 L333.36,419.41 L333.68,422.86 L334.00,423.72 L334.32,430.50 L334.64,433.50 L334.96,438.44 L335.28,439.74 L335.60,444.45 L335.92,447.49 L336.24,446.64 L336.56,449.71 L336.87,455.79 L337.19,459.57 L337.51,457.79 L337.83,460.77 L338.15,463.39 L338.47,463.89 L338.79,466.04 L339.11,467.52 L339.43,469.25 L339.75,471.87 L340.07,471.77 L340.39,473.60 L340.71,477.10 L341.03,474.62 L341.35,478.47 L341.66,480.35 L341.98,479.16 L342.30,479.73 L342.62,483.77 L342.94,481.86 L343.26,482.61 L343.58,484.79 L343.90,486.66 L344.22,484.06 L344.54,485.71 L344.86,486.27 L345.18,489.37 L345.50,487.82 L345.82,490.49 L346.14,487.42 L346.45,488.79 L346.77,490.93 L347.09,492.56 L347.41,490.50 L347.73,489.53 L348.05,489.19 L348.37,491.51 L348.69,489.95 L349.01,493.35 L349.33,493.72 L349.65,490.51 L349.97,491.20 L350.29,494.15 L350.61,493.49 L350.93,494.55 L351.24,493.07 L351.56,493.17 L351.88,493.26 L352.20,493.36 L352.52,493.46 L352.84,493.55 L353.16,493.65 L353.48,493.74 L353.80,493.84 L354.12,493.94 L354.44,494.03 L354.76,494.13 L355.08,494.22 L355.40,494.32 L355.72,494.41 L356.03,494.50 L356.35,494.50 L356.67,494.51 L356.99,494.51 L357.31,494.51 L357.63,494.51 L357.95,494.52 L358.27,494.52 L358.59,494.52 L358.91,494.52 L359.23,494.53 L359.55,494.53 L359.87,494.53 L360.19,494.54 L360.51,494.54 L360.82,494.54 L361.14,494.54 L361.46,494.55 L361.78,494.55 L362.10,494.55 L362.42,494.55 L362.74,494.56 L363.06,494.56 L363.38,494.56 L363.70,494.56 L364.02,494.57 L364.34,494.57 L364.66,494.57 L364.98,494.58 L365.30,494.58 L365.61,494.58 L365.93,494.58 L366.25,494.59 L366.57,494.59 L366.89,494.59 L367.21,494.59 L367.53,494.60 L367.85,494.60 L368.17,494.60 L368.49,494.60 L368.81,494.61 L369.13,494.61 L369.45,494.61 L369.77,494.62 L370.09,494.62 L370.40,494.62 L370.72,494.62 L371.04,494.63 L371.36,494.63 L371.68,494.63 L372.00,494.63 L372.32,494.64 L372.64,494.64 L372.96,494.64 L373.28,494.64 L373.60,494.65 L373.92,494.65 L374.24,494.65 L374.56,494.66 L374.88,494.66 L375.19,494.66 L375.51,494.66 L375.83,494.67 L376.15,494.67 L376.47,494.67 L376.79,494.67 L377.11,494.68 L377.43,494.68 L377.75,494.68 L378.07,494.68 L378.39,494.69 L378.71,494.69 L379.03,494.69 L379.35,494.70 L379.67,494.70 L379.98,494.70 L380.30,494.70 L380.62,494.71 L380.94,494.71 L381.26,494.71 L381.58,494.71 L381.90,494.72 L382.22,494.72 L382.54,494.72 L382.86,494.73 L383.18,494.73 L383.50,494.73 L383.82,494.73 L384.14,494.74 L384.46,494.74 L384.77,494.74 L385.09,494.74 L385.41,494.75 L385.73,494.75 L386.05,494.75 L386.37,494.75 L386.69,494.76 L387.01,494.76 L387.33,494.76 L387.65,494.77 L387.97,494.77 L388.29,494.77 L388.61,494.77 L388.93,494.78 L389.25,494.78 L389.56,494.78 L389.88,494.78 L390.20,494.79 L390.52,494.79 L390.84,494.79 L391.16,494.79 L391.48,494.80 L391.80,494.80 L391.80,495.00 Z" stroke="none" fill="#8c8a88" stroke-width="1"/>
<path d="M296.00,491.20 L296.40,491.29 L296.80,491.27 L297.20,491.41 L297.60,490.98 L298.00,491.18 L298.39,489.65 L298.79,490.25 L299.19,490.91 L299.59,490.34 L299.99,490.64 L300.39,489.19 L300.79,489.56 L301.19,489.00 L301.59,489.28 L301.99,489.12 L302.39,488.03 L302.79,488.15 L303.19,488.05 L303.58,488.87 L303.98,488.43 L304.38,487.17 L304.78,487.89 L305.18,486.54 L305.58,487.00 L305.98,485.92 L306.38,485.42 L306.78,486.51 L307.18,485.15 L307.58,484.86 L307.98,485.79 L308.37,485.22 L308.77,483.89 L309.17,484.57 L309.57,483.49 L309.97,483.31 L310.37,482.16 L310.77,482.94 L311.17,482.14 L311.57,482.18 L311.97,481.66 L312.37,480.13 L312.76,479.63 L313.16,478.72 L313.56,478.09 L313.96,477.36 L314.36,477.14 L314.76,477.02 L315.16,475.47 L315.56,475.95 L315.96,474.80 L316.36,473.62 L316.76,473.24 L317.16,471.50 L317.56,470.04 L317.95,469.11 L318.35,468.27 L318.75,466.03 L319.15,466.05 L319.55,462.67 L319.95,461.97 L320.35,460.26 L320.75,457.07 L321.15,456.44 L321.55,453.90 L321.95,452.38 L322.35,449.01 L322.74,446.51 L323.14,444.17 L323.54,442.86 L323.94,439.09 L324.34,437.43 L324.74,434.77 L325.14,431.59 L325.54,427.44 L325.94,424.27 L326.34,421.35 L326.74,419.14 L327.13,415.88 L327.53,414.71 L327.93,412.59 L328.33,410.50 L328.73,407.72 L329.13,408.24 L329.53,405.94 L329.93,405.41 L330.33,405.77 L330.73,406.37 L331.13,405.56 L331.53,406.60 L331.93,406.95 L332.32,409.40 L332.72,412.22 L333.12,414.82 L333.52,417.52 L333.92,421.23 L334.32,425.68 L334.72,429.77 L335.12,432.02 L335.52,435.44 L335.92,440.53 L336.32,443.40 L336.72,446.78 L337.11,450.11 L337.51,454.24 L337.91,457.41 L338.31,459.61 L338.71,462.35 L339.11,464.56 L339.51,468.71 L339.91,469.29 L340.31,472.03 L340.71,474.57 L341.11,475.44 L341.50,478.39 L341.90,480.01 L342.30,480.78 L342.70,482.31 L343.10,482.50 L343.50,484.30 L343.90,485.12 L344.30,487.05 L344.70,486.84 L345.10,487.75 L345.50,489.29 L345.90,489.72 L346.30,490.59 L346.69,490.42 L347.09,491.04 L347.49,491.68 L347.89,491.52 L348.29,491.47 L348.69,491.90 L349.09,491.74 L349.49,492.36 L349.89,493.59 L350.29,493.05 L350.69,493.30 L351.09,493.51 L351.48,493.54 L351.88,493.58 L352.28,493.61 L352.68,493.65 L353.08,493.68 L353.48,493.72 L353.88,493.76 L354.28,493.79 L354.68,493.83 L355.08,493.86 L355.48,493.90 L355.88,493.93 L356.27,493.97 L356.67,494.00 L357.07,494.04 L357.47,494.08 L357.87,494.11 L358.27,494.15 L358.67,494.18 L359.07,494.22 L359.47,494.25 L359.87,494.29 L360.27,494.30 L360.67,494.31 L361.06,494.31 L361.46,494.31 L361.86,494.32 L362.26,494.32 L362.66,494.33 L363.06,494.33 L363.46,494.33 L363.86,494.34 L364.26,494.34 L364.66,494.34 L365.06,494.35 L365.45,494.35 L365.85,494.36 L366.25,494.36 L366.65,494.36 L367.05,494.37 L367.45,494.37 L367.85,494.37 L368.25,494.38 L368.65,494.38 L369.05,494.39 L369.45,494.39 L369.85,494.39 L370.25,494.40 L370.64,494.40 L371.04,494.40 L371.44,494.41 L371.84,494.41 L372.24,494.42 L372.64,494.42 L373.04,494.42 L373.44,494.43 L373.84,494.43 L374.24,494.44 L374.64,494.44 L375.04,494.44 L375.43,494.45 L375.83,494.45 L376.23,494.45 L376.63,494.46 L377.03,494.46 L377.43,494.47 L377.83,494.47 L378.23,494.47 L378.63,494.48 L379.03,494.48 L379.43,494.48 L379.83,494.49 L380.22,494.49 L380.62,494.50 L381.02,494.50 L381.42,494.50 L381.82,494.51 L382.22,494.51 L382.62,494.51 L383.02,494.52 L383.42,494.52 L383.82,494.53 L384.22,494.53 L384.62,494.53 L385.01,494.54 L385.41,494.54 L385.81,494.55 L386.21,494.55 L386.61,494.55 L387.01,494.56 L387.41,494.56 L387.81,494.56 L388.21,494.57 L388.61,494.57 L389.01,494.58 L389.41,494.58 L389.80,494.58 L390.20,494.59 L390.60,494.59 L391.00,494.59 L391.40,494.60 L391.80,494.60" stroke="#d06060" fill="none" stroke-width="0.7"/>
<path d="M296.00,491.90 L296.32,491.62 L296.64,490.95 L296.96,492.79 L297.28,490.50 L297.60,491.74 L297.92,492.72 L298.24,490.54 L298.55,491.72 L298.87,491.82 L299.19,490.27 L299.51,491.10 L299.83,491.89 L300.15,491.18 L300.47,491.84 L300.79,490.31 L301.11,490.47 L301.43,490.08 L301.75,491.06 L302.07,492.09 L302.39,491.17 L302.71,491.60 L303.03,490.53 L303.34,491.42 L303.66,489.69 L303.98,490.13 L304.30,491.07 L304.62,491.15 L304.94,490.31 L305.26,489.37 L305.58,489.76 L305.90,489.54 L306.22,489.65 L306.54,490.95 L306.86,489.29 L307.18,491.00 L307.50,490.91 L307.82,488.69 L308.13,489.46 L308.45,489.68 L308.77,488.39 L309.09,489.36 L309.41,490.54 L309.73,488.40 L310.05,489.59 L310.37,488.28 L310.69,489.40 L311.01,490.15 L311.33,488.27 L311.65,487.69 L311.97,487.81 L312.29,488.93 L312.61,487.50 L312.92,487.60 L313.24,488.59 L313.56,489.62 L313.88,488.25 L314.20,488.12 L314.52,488.67 L314.84,487.18 L315.16,488.37 L315.48,487.24 L315.80,488.30 L316.12,489.13 L316.44,486.60 L316.76,487.56 L317.08,487.36 L317.40,485.83 L317.71,485.81 L318.03,487.36 L318.35,487.03 L318.67,484.41 L318.99,485.60 L319.31,485.90 L319.63,483.70 L319.95,484.34 L320.27,482.30 L320.59,482.53 L320.91,482.72 L321.23,481.89 L321.55,481.76 L321.87,479.37 L322.19,479.44 L322.50,480.17 L322.82,478.83 L323.14,477.88 L323.46,477.14 L323.78,478.05 L324.10,476.37 L324.42,474.20 L324.74,475.31 L325.06,473.16 L325.38,472.51 L325.70,471.02 L326.02,470.69 L326.34,469.46 L326.66,467.92 L326.98,468.41 L327.29,466.24 L327.61,467.22 L327.93,464.46 L328.25,465.64 L328.57,464.92 L328.89,463.32 L329.21,463.08 L329.53,461.09 L329.85,461.58 L330.17,459.98 L330.49,458.47 L330.81,458.83 L331.13,455.82 L331.45,454.20 L331.77,453.92 L332.08,451.10 L332.40,450.32 L332.72,447.49 L333.04,447.67 L333.36,444.49 L333.68,442.28 L334.00,443.03 L334.32,439.28 L334.64,439.63 L334.96,438.07 L335.28,435.42 L335.60,432.21 L335.92,430.67 L336.24,429.40 L336.56,428.11 L336.87,426.83 L337.19,425.90 L337.51,422.45 L337.83,420.04 L338.15,419.47 L338.47,416.92 L338.79,415.34 L339.11,415.11 L339.43,414.03 L339.75,411.21 L340.07,411.10 L340.39,410.65 L340.71,409.70 L341.03,407.66 L341.35,408.48 L341.66,406.13 L341.98,407.06 L342.30,406.72 L342.62,406.51 L342.94,405.16 L343.26,404.68 L343.58,405.10 L343.90,406.90 L344.22,406.02 L344.54,407.01 L344.86,405.40 L345.18,407.02 L345.50,405.38 L345.82,405.44 L346.14,406.49 L346.45,407.83 L346.77,408.72 L347.09,409.07 L347.41,409.75 L347.73,411.79 L348.05,414.23 L348.37,414.40 L348.69,416.72 L349.01,415.67 L349.33,419.50 L349.65,420.55 L349.97,420.98 L350.29,422.55 L350.61,424.24 L350.93,426.86 L351.24,426.33 L351.56,429.48 L351.88,431.78 L352.20,433.82 L352.52,437.59 L352.84,440.25 L353.16,441.43 L353.48,445.90 L353.80,448.17 L354.12,451.18 L354.44,454.48 L354.76,455.30 L355.08,458.48 L355.40,459.63 L355.72,462.69 L356.03,462.75 L356.35,466.04 L356.67,467.37 L356.99,468.52 L357.31,470.59 L357.63,469.83 L357.95,472.71 L358.27,474.18 L358.59,475.77 L358.91,476.17 L359.23,476.23 L359.55,477.47 L359.87,479.50 L360.19,479.32 L360.51,479.96 L360.82,481.64 L361.14,482.88 L361.46,483.99 L361.78,483.29 L362.10,485.83 L362.42,485.27 L362.74,487.02 L363.06,485.60 L363.38,488.65 L363.70,488.29 L364.02,489.88 L364.34,490.50 L364.66,490.69 L364.98,489.04 L365.30,489.87 L365.61,489.75 L365.93,491.37 L366.25,490.04 L366.57,490.31 L366.89,490.21 L367.21,490.43 L367.53,492.75 L367.85,493.04 L368.17,491.67 L368.49,492.82 L368.81,492.30 L369.13,492.59 L369.45,492.28 L369.77,493.05 L370.09,492.09 L370.40,492.23 L370.72,492.99 L371.04,493.03 L371.36,493.11 L371.68,493.19 L372.00,493.28 L372.32,493.36 L372.64,493.44 L372.96,493.52 L373.28,493.61 L373.60,493.69 L373.92,493.77 L374.24,493.85 L374.56,493.94 L374.88,494.00 L375.19,494.01 L375.51,494.03 L375.83,494.04 L376.15,494.05 L376.47,494.06 L376.79,494.07 L377.11,494.08 L377.43,494.09 L377.75,494.11 L378.07,494.12 L378.39,494.13 L378.71,494.14 L379.03,494.15 L379.35,494.16 L379.67,494.17 L379.98,494.19 L380.30,494.20 L380.62,494.21 L380.94,494.22 L381.26,494.23 L381.58,494.24 L381.90,494.25 L382.22,494.26 L382.54,494.28 L382.86,494.29 L383.18,494.30 L383.50,494.31 L383.82,494.32 L384.14,494.33 L384.46,494.34 L384.77,494.36 L385.09,494.37 L385.41,494.38 L385.73,494.39 L386.05,494.40 L386.37,494.41 L386.69,494.42 L387.01,494.44 L387.33,494.45 L387.65,494.46 L387.97,494.47 L388.29,494.48 L388.61,494.49 L388.93,494.50 L389.25,494.52 L389.56,494.53 L389.88,494.54 L390.20,494.55 L390.52,494.56 L390.84,494.57 L391.16,494.58 L391.48,494.60 L391.80,494.60" stroke="#222" fill="none" stroke-width="0.8"/>
<line x1="296.00" y1="400.20" x2="296.00" y2="495.00" stroke="#333" stroke-width="0.9"/>
<line x1="296.00" y1="495.00" x2="391.80" y2="495.00" stroke="#333" stroke-width="0.9"/>
<line x1="294.20" y1="494.50" x2="296.00" y2="494.50" stroke="#2a2a2a" stroke-width="1.05"/>
<text x="292.60" y="496.80" font-size="6.83" text-anchor="end" textLength="3.61" lengthAdjust="spacingAndGlyphs">0</text>
<line x1="294.20" y1="476.30" x2="296.00" y2="476.30" stroke="#2a2a2a" stroke-width="1.05"/>
<text x="292.60" y="478.60" font-size="6.83" text-anchor="end" textLength="7.23" lengthAdjust="spacingAndGlyphs">20</text>
<line x1="294.20" y1="458.10" x2="296.00" y2="458.10" stroke="#2a2a2a" stroke-width="1.05"/>
<text x="292.60" y="460.40" font-size="6.83" text-anchor="end" textLength="7.23" lengthAdjust="spacingAndGlyphs">40</text>
<line x1="294.20" y1="439.90" x2="296.00" y2="439.90" stroke="#2a2a2a" stroke-width="1.05"/>
<text x="292.60" y="442.20" font-size="6.83" text-anchor="end" textLength="7.23" lengthAdjust="spacingAndGlyphs">60</text>
<line x1="294.20" y1="421.70" x2="296.00" y2="421.70" stroke="#2a2a2a" stroke-width="1.05"/>
<text x="292.60" y="424.00" font-size="6.83" text-anchor="end" textLength="7.23" lengthAdjust="spacingAndGlyphs">80</text>
<line x1="294.20" y1="403.50" x2="296.00" y2="403.50" stroke="#2a2a2a" stroke-width="1.05"/>
<text x="292.60" y="405.80" font-size="6.83" text-anchor="end" textLength="10.84" lengthAdjust="spacingAndGlyphs">100</text>
<line x1="307.00" y1="495.00" x2="307.00" y2="497.00" stroke="#333" stroke-width="0.7"/>
<text x="307.00" y="506.20" font-size="6.62" text-anchor="middle" textLength="3.5" lengthAdjust="spacingAndGlyphs">0</text>
<line x1="318.60" y1="495.00" x2="318.60" y2="497.00" stroke="#333" stroke-width="0.7"/>
<text x="318.10" y="506.2" font-size="6.8" text-anchor="middle">10<tspan font-size="4.8" dy="-2.7">2</tspan></text>
<line x1="340.60" y1="495.00" x2="340.60" y2="497.00" stroke="#333" stroke-width="0.7"/>
<text x="340.10" y="506.2" font-size="6.8" text-anchor="middle">10<tspan font-size="4.8" dy="-2.7">3</tspan></text>
<line x1="362.60" y1="495.00" x2="362.60" y2="497.00" stroke="#333" stroke-width="0.7"/>
<text x="362.10" y="506.2" font-size="6.8" text-anchor="middle">10<tspan font-size="4.8" dy="-2.7">4</tspan></text>
<line x1="384.20" y1="495.00" x2="384.20" y2="497.00" stroke="#333" stroke-width="0.7"/>
<text x="383.70" y="506.2" font-size="6.8" text-anchor="middle">10<tspan font-size="4.8" dy="-2.7">5</tspan></text>
<text transform="translate(275.98,446.00) rotate(-90)" font-size="7.77" text-anchor="middle" textLength="23.45" lengthAdjust="spacingAndGlyphs">Counts</text>
<text x="342.60" y="516.40" font-size="7.77" text-anchor="middle" textLength="15.22" lengthAdjust="spacingAndGlyphs">APC</text>
<line x1="431.50" y1="404.80" x2="431.50" y2="490.25" stroke="#2a2a2a" stroke-width="1.05"/>
<line x1="431.05" y1="489.80" x2="518.50" y2="489.80" stroke="#2a2a2a" stroke-width="1.05"/>
<line x1="429.70" y1="489.80" x2="431.50" y2="489.80" stroke="#2a2a2a" stroke-width="1.05"/>
<text x="429.20" y="492.10" font-size="6.83" text-anchor="end" textLength="3.61" lengthAdjust="spacingAndGlyphs">0</text>
<line x1="429.70" y1="468.55" x2="431.50" y2="468.55" stroke="#2a2a2a" stroke-width="1.05"/>
<text x="429.20" y="470.85" font-size="6.83" text-anchor="end" textLength="10.84" lengthAdjust="spacingAndGlyphs">500</text>
<line x1="429.70" y1="447.30" x2="431.50" y2="447.30" stroke="#2a2a2a" stroke-width="1.05"/>
<text x="429.20" y="449.60" font-size="6.83" text-anchor="end" textLength="16.26" lengthAdjust="spacingAndGlyphs">1,000</text>
<line x1="429.70" y1="426.05" x2="431.50" y2="426.05" stroke="#2a2a2a" stroke-width="1.05"/>
<text x="429.20" y="428.35" font-size="6.83" text-anchor="end" textLength="16.26" lengthAdjust="spacingAndGlyphs">1,500</text>
<line x1="429.70" y1="404.80" x2="431.50" y2="404.80" stroke="#2a2a2a" stroke-width="1.05"/>
<text x="429.20" y="407.10" font-size="6.83" text-anchor="end" textLength="16.26" lengthAdjust="spacingAndGlyphs">2,000</text>
<rect x="442.9" y="404.80" width="21.8" height="85.00" fill="#000"/>
<rect x="487.1" y="486.0" width="21.6" height="3.80" fill="#d8262e" stroke="#222" stroke-width="0.5"/>
<text transform="translate(408.18,447.20) rotate(-90)" font-size="7.77" text-anchor="middle" textLength="12.74" lengthAdjust="spacingAndGlyphs">MFI</text>
<text x="454.20" y="502.00" font-size="7.77" text-anchor="middle" textLength="28.37" lengthAdjust="spacingAndGlyphs">Wildtype</text>
<text x="501.70" y="502.00" font-size="7.77" text-anchor="middle" textLength="27.96" lengthAdjust="spacingAndGlyphs">Clever-1</text>
<text x="501.70" y="511.50" font-size="7.77" text-anchor="middle" textLength="37.02" lengthAdjust="spacingAndGlyphs">knockdown</text>
<text x="501.70" y="521.00" font-size="7.77" text-anchor="middle" textLength="13.16" lengthAdjust="spacingAndGlyphs">with</text>
<text x="501.70" y="530.50" font-size="7.77" text-anchor="middle" textLength="23.44" lengthAdjust="spacingAndGlyphs">shRNA</text>
<text x="3.00" y="543.20" font-size="13" font-weight="bold" fill="#000">G</text>
<text x="283.00" y="543.20" font-size="13" font-weight="bold" fill="#000">H</text>
<text x="119.3" y="549.9" font-size="8.5" text-anchor="middle" textLength="74.3" lengthAdjust="spacingAndGlyphs">Classical monocytes</text>
<text x="120.9" y="559.5" font-size="8.5" text-anchor="middle" textLength="86.5" lengthAdjust="spacingAndGlyphs">(CD33<tspan font-size="5.4" dy="-3.2">+</tspan><tspan dy="3.2">/CD14Br/CD16</tspan><tspan font-size="5.4" dy="-3.2">−</tspan><tspan dy="3.2">)</tspan></text>
<text x="382.1" y="549.9" font-size="8.5" text-anchor="middle" textLength="87.3" lengthAdjust="spacingAndGlyphs">Intermediate monocytes</text>
<text x="382.1" y="559.5" font-size="8.5" text-anchor="middle" textLength="81.5" lengthAdjust="spacingAndGlyphs">(CD33<tspan font-size="5.4" dy="-3.2">+</tspan><tspan dy="3.2">/CD14</tspan><tspan font-size="5.4" dy="-3.2">+</tspan><tspan dy="3.2">/CD16</tspan><tspan font-size="5.4" dy="-3.2">+</tspan><tspan dy="3.2">)</tspan></text>
<line x1="56.90" y1="566.20" x2="56.90" y2="652.75" stroke="#2a2a2a" stroke-width="1.05"/>
<line x1="56.45" y1="652.30" x2="187.70" y2="652.30" stroke="#2a2a2a" stroke-width="1.05"/>
<line x1="55.10" y1="652.30" x2="56.90" y2="652.30" stroke="#2a2a2a" stroke-width="1.05"/>
<text x="52.70" y="654.70" font-size="7.14" text-anchor="end" textLength="3.78" lengthAdjust="spacingAndGlyphs">0</text>
<line x1="55.10" y1="623.60" x2="56.90" y2="623.60" stroke="#2a2a2a" stroke-width="1.05"/>
<text x="52.70" y="626.00" font-size="7.14" text-anchor="end" textLength="7.56" lengthAdjust="spacingAndGlyphs">50</text>
<line x1="55.10" y1="594.90" x2="56.90" y2="594.90" stroke="#2a2a2a" stroke-width="1.05"/>
<text x="52.70" y="597.30" font-size="7.14" text-anchor="end" textLength="11.34" lengthAdjust="spacingAndGlyphs">100</text>
<line x1="55.10" y1="566.20" x2="56.90" y2="566.20" stroke="#2a2a2a" stroke-width="1.05"/>
<text x="52.70" y="568.60" font-size="7.14" text-anchor="end" textLength="11.34" lengthAdjust="spacingAndGlyphs">150</text>
<line x1="56.90" y1="652.30" x2="56.90" y2="654.30" stroke="#2a2a2a" stroke-width="1.05"/>
<text x="56.90" y="662.60" font-size="7.14" text-anchor="middle" textLength="3.78" lengthAdjust="spacingAndGlyphs">0</text>
<line x1="89.60" y1="652.30" x2="89.60" y2="654.30" stroke="#2a2a2a" stroke-width="1.05"/>
<text x="89.60" y="662.60" font-size="7.14" text-anchor="middle" textLength="3.78" lengthAdjust="spacingAndGlyphs">2</text>
<line x1="122.30" y1="652.30" x2="122.30" y2="654.30" stroke="#2a2a2a" stroke-width="1.05"/>
<text x="122.30" y="662.60" font-size="7.14" text-anchor="middle" textLength="3.78" lengthAdjust="spacingAndGlyphs">4</text>
<line x1="155.00" y1="652.30" x2="155.00" y2="654.30" stroke="#2a2a2a" stroke-width="1.05"/>
<text x="155.00" y="662.60" font-size="7.14" text-anchor="middle" textLength="3.78" lengthAdjust="spacingAndGlyphs">6</text>
<line x1="187.70" y1="652.30" x2="187.70" y2="654.30" stroke="#2a2a2a" stroke-width="1.05"/>
<text x="187.70" y="662.60" font-size="7.14" text-anchor="middle" textLength="3.78" lengthAdjust="spacingAndGlyphs">8</text>
<text transform="translate(25.88,613.30) rotate(-90)" font-size="7.77" text-anchor="middle" textLength="49" lengthAdjust="spacingAndGlyphs">Change in MFI</text>
<text transform="translate(34.68,613.30) rotate(-90)" font-size="7.77" text-anchor="middle" textLength="52" lengthAdjust="spacingAndGlyphs">(%, mean + SD)</text>
<text x="67.00" y="672.20" font-size="7.98" textLength="113.4" lengthAdjust="spacingAndGlyphs">Log antibody concentration (pmol/L)</text>
<path d="M56.90,607.76 L58.13,607.80 L59.35,607.85 L60.58,607.91 L61.80,607.99 L63.03,608.07 L64.26,608.17 L65.48,608.28 L66.71,608.41 L67.94,608.57 L69.16,608.75 L70.39,608.96 L71.61,609.20 L72.84,609.47 L74.07,609.78 L75.29,610.13 L76.52,610.52 L77.75,610.96 L78.97,611.44 L80.20,611.95 L81.42,612.51 L82.65,613.10 L83.88,613.71 L85.10,614.35 L86.33,614.99 L87.56,615.63 L88.78,616.27 L90.01,616.88 L91.24,617.47 L92.46,618.03 L93.69,618.54 L94.91,619.02 L96.14,619.46 L97.37,619.85 L98.59,620.20 L99.82,620.51 L101.05,620.78 L102.27,621.02 L103.50,621.23 L104.72,621.41 L105.95,621.57 L107.18,621.70 L108.40,621.81 L109.63,621.91 L110.85,621.99 L112.08,622.07 L113.31,622.13 L114.53,622.18 L115.76,622.22 L116.99,622.26 L118.21,622.29 L119.44,622.31 L120.66,622.33 L121.89,622.35 L123.12,622.37 L124.34,622.38 L125.57,622.39 L126.80,622.40 L128.02,622.41 L129.25,622.42 L130.47,622.42 L131.70,622.43 L132.93,622.43 L134.15,622.43 L135.38,622.44 L136.61,622.44 L137.83,622.44 L139.06,622.44 L140.28,622.44 L141.51,622.45 L142.74,622.45 L143.96,622.45 L145.19,622.45 L146.42,622.45 L147.64,622.45 L148.87,622.45 L150.09,622.45 L151.32,622.45 L152.55,622.45 L153.77,622.45 L155.00,622.45" stroke="#8a8a8a" fill="none" stroke-width="0.9"/>
<path d="M56.90,594.09 L58.13,594.23 L59.35,594.39 L60.58,594.58 L61.80,594.79 L63.03,595.04 L64.26,595.32 L65.48,595.64 L66.71,596.01 L67.94,596.44 L69.16,596.92 L70.39,597.46 L71.61,598.08 L72.84,598.78 L74.07,599.56 L75.29,600.44 L76.52,601.42 L77.75,602.51 L78.97,603.71 L80.20,605.03 L81.42,606.46 L82.65,608.00 L83.88,609.66 L85.10,611.42 L86.33,613.28 L87.56,615.21 L88.78,617.20 L90.01,619.24 L91.24,621.30 L92.46,623.36 L93.69,625.40 L94.91,627.40 L96.14,629.33 L97.37,631.19 L98.59,632.95 L99.82,634.60 L101.05,636.15 L102.27,637.58 L103.50,638.90 L104.72,640.10 L105.95,641.18 L107.18,642.16 L108.40,643.04 L109.63,643.83 L110.85,644.53 L112.08,645.14 L113.31,645.69 L114.53,646.17 L115.76,646.59 L116.99,646.96 L118.21,647.29 L119.44,647.57 L120.66,647.82 L121.89,648.03 L123.12,648.22 L124.34,648.38 L125.57,648.52 L126.80,648.64 L128.02,648.75 L129.25,648.84 L130.47,648.92 L131.70,648.99 L132.93,649.05 L134.15,649.10 L135.38,649.15 L136.61,649.18 L137.83,649.22 L139.06,649.25 L140.28,649.27 L141.51,649.29 L142.74,649.31 L143.96,649.33 L145.19,649.34 L146.42,649.35 L147.64,649.36 L148.87,649.37 L150.09,649.38 L151.32,649.39 L152.55,649.39 L153.77,649.40 L155.00,649.40" stroke="#2c3e78" fill="none" stroke-width="0.9"/>
<line x1="56.90" y1="605.69" x2="56.90" y2="611.43" stroke="#8a8a8a" stroke-width="0.7"/>
<line x1="55.40" y1="605.69" x2="58.40" y2="605.69" stroke="#8a8a8a" stroke-width="0.7"/>
<line x1="55.40" y1="611.43" x2="58.40" y2="611.43" stroke="#8a8a8a" stroke-width="0.7"/>
<line x1="73.25" y1="610.17" x2="73.25" y2="614.76" stroke="#8a8a8a" stroke-width="0.7"/>
<line x1="71.75" y1="610.17" x2="74.75" y2="610.17" stroke="#8a8a8a" stroke-width="0.7"/>
<line x1="71.75" y1="614.76" x2="74.75" y2="614.76" stroke="#8a8a8a" stroke-width="0.7"/>
<line x1="105.95" y1="619.81" x2="105.95" y2="624.40" stroke="#8a8a8a" stroke-width="0.7"/>
<line x1="104.45" y1="619.81" x2="107.45" y2="619.81" stroke="#8a8a8a" stroke-width="0.7"/>
<line x1="104.45" y1="624.40" x2="107.45" y2="624.40" stroke="#8a8a8a" stroke-width="0.7"/>
<line x1="133.75" y1="620.16" x2="133.75" y2="625.90" stroke="#8a8a8a" stroke-width="0.7"/>
<line x1="132.25" y1="620.16" x2="135.25" y2="620.16" stroke="#8a8a8a" stroke-width="0.7"/>
<line x1="132.25" y1="625.90" x2="135.25" y2="625.90" stroke="#8a8a8a" stroke-width="0.7"/>
<line x1="155.00" y1="617.29" x2="155.00" y2="628.77" stroke="#8a8a8a" stroke-width="0.7"/>
<line x1="153.50" y1="617.29" x2="156.50" y2="617.29" stroke="#8a8a8a" stroke-width="0.7"/>
<line x1="153.50" y1="628.77" x2="156.50" y2="628.77" stroke="#8a8a8a" stroke-width="0.7"/>
<line x1="56.90" y1="591.46" x2="56.90" y2="596.05" stroke="#2c3e78" stroke-width="0.7"/>
<line x1="55.40" y1="591.46" x2="58.40" y2="591.46" stroke="#2c3e78" stroke-width="0.7"/>
<line x1="55.40" y1="596.05" x2="58.40" y2="596.05" stroke="#2c3e78" stroke-width="0.7"/>
<line x1="73.25" y1="592.95" x2="73.25" y2="607.87" stroke="#2c3e78" stroke-width="0.7"/>
<line x1="71.75" y1="592.95" x2="74.75" y2="592.95" stroke="#2c3e78" stroke-width="0.7"/>
<line x1="71.75" y1="607.87" x2="74.75" y2="607.87" stroke="#2c3e78" stroke-width="0.7"/>
<line x1="133.75" y1="645.53" x2="133.75" y2="651.27" stroke="#2c3e78" stroke-width="0.7"/>
<line x1="132.25" y1="645.53" x2="135.25" y2="645.53" stroke="#2c3e78" stroke-width="0.7"/>
<line x1="132.25" y1="651.27" x2="135.25" y2="651.27" stroke="#2c3e78" stroke-width="0.7"/>
<path d="M54.90,610.36 L58.90,610.36 L56.90,606.76 Z" fill="#6e6e6e"/>
<path d="M71.25,614.26 L75.25,614.26 L73.25,610.66 Z" fill="#6e6e6e"/>
<path d="M87.60,617.94 L91.60,617.94 L89.60,614.34 Z" fill="#6e6e6e"/>
<path d="M99.05,622.42 L103.05,622.42 L101.05,618.82 Z" fill="#6e6e6e"/>
<path d="M103.95,623.91 L107.95,623.91 L105.95,620.31 Z" fill="#6e6e6e"/>
<path d="M120.30,625.40 L124.30,625.40 L122.30,621.80 Z" fill="#6e6e6e"/>
<path d="M131.75,624.83 L135.75,624.83 L133.75,621.23 Z" fill="#6e6e6e"/>
<path d="M136.65,623.91 L140.65,623.91 L138.65,620.31 Z" fill="#6e6e6e"/>
<path d="M153.00,624.83 L157.00,624.83 L155.00,621.23 Z" fill="#6e6e6e"/>
<path d="M54.80,595.64 L59.00,595.64 L56.90,591.86 Z" fill="#1c2a5e"/>
<path d="M71.15,602.30 L75.35,602.30 L73.25,598.52 Z" fill="#1c2a5e"/>
<path d="M87.50,623.37 L91.70,623.37 L89.60,619.59 Z" fill="#1c2a5e"/>
<path d="M98.95,639.67 L103.15,639.67 L101.05,635.89 Z" fill="#1c2a5e"/>
<path d="M103.85,642.71 L108.05,642.71 L105.95,638.93 Z" fill="#1c2a5e"/>
<path d="M120.20,648.22 L124.40,648.22 L122.30,644.44 Z" fill="#1c2a5e"/>
<path d="M131.65,650.29 L135.84,650.29 L133.75,646.51 Z" fill="#1c2a5e"/>
<path d="M136.55,651.15 L140.75,651.15 L138.65,647.37 Z" fill="#1c2a5e"/>
<line x1="192.60" y1="573.50" x2="198.60" y2="573.50" stroke="#1c2a5e" stroke-width="0.8"/>
<path d="M193.70,575.21 L197.50,575.21 L195.60,571.79 Z" fill="#1c2a5e"/>
<text x="204.20" y="576.50" font-size="8.82" textLength="48.3" lengthAdjust="spacingAndGlyphs">Bexmarilimab</text>
<line x1="192.60" y1="585.00" x2="198.60" y2="585.00" stroke="#6e6e6e" stroke-width="0.8"/>
<path d="M193.70,586.71 L197.50,586.71 L195.60,583.29 Z" fill="#6e6e6e"/>
<text x="204.20" y="588.00" font-size="8.82" textLength="18.06" lengthAdjust="spacingAndGlyphs">9–11</text>
<line x1="321.40" y1="566.20" x2="321.40" y2="652.75" stroke="#2a2a2a" stroke-width="1.05"/>
<line x1="320.95" y1="652.30" x2="452.20" y2="652.30" stroke="#2a2a2a" stroke-width="1.05"/>
<line x1="319.60" y1="652.30" x2="321.40" y2="652.30" stroke="#2a2a2a" stroke-width="1.05"/>
<text x="317.20" y="654.70" font-size="7.14" text-anchor="end" textLength="3.78" lengthAdjust="spacingAndGlyphs">0</text>
<line x1="319.60" y1="623.60" x2="321.40" y2="623.60" stroke="#2a2a2a" stroke-width="1.05"/>
<text x="317.20" y="626.00" font-size="7.14" text-anchor="end" textLength="7.56" lengthAdjust="spacingAndGlyphs">50</text>
<line x1="319.60" y1="594.90" x2="321.40" y2="594.90" stroke="#2a2a2a" stroke-width="1.05"/>
<text x="317.20" y="597.30" font-size="7.14" text-anchor="end" textLength="11.34" lengthAdjust="spacingAndGlyphs">100</text>
<line x1="319.60" y1="566.20" x2="321.40" y2="566.20" stroke="#2a2a2a" stroke-width="1.05"/>
<text x="317.20" y="568.60" font-size="7.14" text-anchor="end" textLength="11.34" lengthAdjust="spacingAndGlyphs">150</text>
<line x1="321.40" y1="652.30" x2="321.40" y2="654.30" stroke="#2a2a2a" stroke-width="1.05"/>
<text x="321.40" y="662.60" font-size="7.14" text-anchor="middle" textLength="3.78" lengthAdjust="spacingAndGlyphs">0</text>
<line x1="354.10" y1="652.30" x2="354.10" y2="654.30" stroke="#2a2a2a" stroke-width="1.05"/>
<text x="354.10" y="662.60" font-size="7.14" text-anchor="middle" textLength="3.78" lengthAdjust="spacingAndGlyphs">2</text>
<line x1="386.80" y1="652.30" x2="386.80" y2="654.30" stroke="#2a2a2a" stroke-width="1.05"/>
<text x="386.80" y="662.60" font-size="7.14" text-anchor="middle" textLength="3.78" lengthAdjust="spacingAndGlyphs">4</text>
<line x1="419.50" y1="652.30" x2="419.50" y2="654.30" stroke="#2a2a2a" stroke-width="1.05"/>
<text x="419.50" y="662.60" font-size="7.14" text-anchor="middle" textLength="3.78" lengthAdjust="spacingAndGlyphs">6</text>
<line x1="452.20" y1="652.30" x2="452.20" y2="654.30" stroke="#2a2a2a" stroke-width="1.05"/>
<text x="452.20" y="662.60" font-size="7.14" text-anchor="middle" textLength="3.78" lengthAdjust="spacingAndGlyphs">8</text>
<text transform="translate(290.38,613.30) rotate(-90)" font-size="7.77" text-anchor="middle" textLength="49" lengthAdjust="spacingAndGlyphs">Change in MFI</text>
<text transform="translate(299.18,613.30) rotate(-90)" font-size="7.77" text-anchor="middle" textLength="52" lengthAdjust="spacingAndGlyphs">(%, mean + SD)</text>
<text x="332.90" y="672.20" font-size="7.98" textLength="113.4" lengthAdjust="spacingAndGlyphs">Log antibody concentration (pmol/L)</text>
<path d="M321.40,600.83 L322.63,600.97 L323.85,601.13 L325.08,601.31 L326.30,601.53 L327.53,601.77 L328.76,602.06 L329.98,602.38 L331.21,602.74 L332.44,603.15 L333.66,603.60 L334.89,604.10 L336.11,604.64 L337.34,605.23 L338.57,605.85 L339.79,606.50 L341.02,607.18 L342.25,607.87 L343.47,608.56 L344.70,609.25 L345.92,609.92 L347.15,610.56 L348.38,611.18 L349.60,611.75 L350.83,612.28 L352.06,612.76 L353.28,613.20 L354.51,613.59 L355.74,613.94 L356.96,614.25 L358.19,614.52 L359.41,614.75 L360.64,614.96 L361.87,615.13 L363.09,615.28 L364.32,615.41 L365.54,615.52 L366.77,615.62 L368.00,615.70 L369.22,615.77 L370.45,615.82 L371.68,615.87 L372.90,615.91 L374.13,615.95 L375.35,615.98 L376.58,616.00 L377.81,616.03 L379.03,616.04 L380.26,616.06 L381.49,616.07 L382.71,616.08 L383.94,616.09 L385.16,616.10 L386.39,616.10 L387.62,616.11 L388.84,616.11 L390.07,616.12 L391.30,616.12 L392.52,616.12 L393.75,616.13 L394.97,616.13 L396.20,616.13 L397.43,616.13 L398.65,616.13 L399.88,616.13 L401.11,616.13 L402.33,616.13 L403.56,616.13 L404.78,616.14 L406.01,616.14 L407.24,616.14 L408.46,616.14 L409.69,616.14 L410.92,616.14 L412.14,616.14 L413.37,616.14 L414.59,616.14 L415.82,616.14 L417.05,616.14 L418.27,616.14 L419.50,616.14" stroke="#8a8a8a" fill="none" stroke-width="0.9"/>
<path d="M321.40,592.15 L322.63,592.17 L323.85,592.20 L325.08,592.24 L326.30,592.29 L327.53,592.35 L328.76,592.43 L329.98,592.52 L331.21,592.63 L332.44,592.77 L333.66,592.93 L334.89,593.14 L336.11,593.38 L337.34,593.69 L338.57,594.05 L339.79,594.49 L341.02,595.03 L342.25,595.67 L343.47,596.43 L344.70,597.34 L345.92,598.41 L347.15,599.66 L348.38,601.10 L349.60,602.74 L350.83,604.60 L352.06,606.65 L353.28,608.89 L354.51,611.30 L355.74,613.82 L356.96,616.41 L358.19,619.03 L359.41,621.60 L360.64,624.09 L361.87,626.44 L363.09,628.63 L364.32,630.62 L365.54,632.40 L366.77,633.98 L368.00,635.35 L369.22,636.54 L370.45,637.55 L371.68,638.41 L372.90,639.13 L374.13,639.73 L375.35,640.23 L376.58,640.65 L377.81,640.99 L379.03,641.28 L380.26,641.51 L381.49,641.70 L382.71,641.85 L383.94,641.98 L385.16,642.09 L386.39,642.17 L387.62,642.24 L388.84,642.30 L390.07,642.34 L391.30,642.38 L392.52,642.41 L393.75,642.43 L394.97,642.45 L396.20,642.47 L397.43,642.48 L398.65,642.49 L399.88,642.50 L401.11,642.51 L402.33,642.52 L403.56,642.52 L404.78,642.53 L406.01,642.53 L407.24,642.53 L408.46,642.53 L409.69,642.53 L410.92,642.54 L412.14,642.54 L413.37,642.54 L414.59,642.54 L415.82,642.54 L417.05,642.54 L418.27,642.54 L419.50,642.54" stroke="#2c3e78" fill="none" stroke-width="0.9"/>
<line x1="321.40" y1="601.50" x2="321.40" y2="607.24" stroke="#8a8a8a" stroke-width="0.7"/>
<line x1="319.90" y1="601.50" x2="322.90" y2="601.50" stroke="#8a8a8a" stroke-width="0.7"/>
<line x1="319.90" y1="607.24" x2="322.90" y2="607.24" stroke="#8a8a8a" stroke-width="0.7"/>
<line x1="354.10" y1="603.80" x2="354.10" y2="614.13" stroke="#8a8a8a" stroke-width="0.7"/>
<line x1="352.60" y1="603.80" x2="355.60" y2="603.80" stroke="#8a8a8a" stroke-width="0.7"/>
<line x1="352.60" y1="614.13" x2="355.60" y2="614.13" stroke="#8a8a8a" stroke-width="0.7"/>
<line x1="365.54" y1="611.26" x2="365.54" y2="617.00" stroke="#8a8a8a" stroke-width="0.7"/>
<line x1="364.04" y1="611.26" x2="367.04" y2="611.26" stroke="#8a8a8a" stroke-width="0.7"/>
<line x1="364.04" y1="617.00" x2="367.04" y2="617.00" stroke="#8a8a8a" stroke-width="0.7"/>
<line x1="370.45" y1="612.87" x2="370.45" y2="618.61" stroke="#8a8a8a" stroke-width="0.7"/>
<line x1="368.95" y1="612.87" x2="371.95" y2="612.87" stroke="#8a8a8a" stroke-width="0.7"/>
<line x1="368.95" y1="618.61" x2="371.95" y2="618.61" stroke="#8a8a8a" stroke-width="0.7"/>
<line x1="386.80" y1="612.69" x2="386.80" y2="620.73" stroke="#8a8a8a" stroke-width="0.7"/>
<line x1="385.30" y1="612.69" x2="388.30" y2="612.69" stroke="#8a8a8a" stroke-width="0.7"/>
<line x1="385.30" y1="620.73" x2="388.30" y2="620.73" stroke="#8a8a8a" stroke-width="0.7"/>
<line x1="398.25" y1="613.96" x2="398.25" y2="620.84" stroke="#8a8a8a" stroke-width="0.7"/>
<line x1="396.75" y1="613.96" x2="399.75" y2="613.96" stroke="#8a8a8a" stroke-width="0.7"/>
<line x1="396.75" y1="620.84" x2="399.75" y2="620.84" stroke="#8a8a8a" stroke-width="0.7"/>
<line x1="403.15" y1="602.94" x2="403.15" y2="630.49" stroke="#8a8a8a" stroke-width="0.7"/>
<line x1="401.65" y1="602.94" x2="404.65" y2="602.94" stroke="#8a8a8a" stroke-width="0.7"/>
<line x1="401.65" y1="630.49" x2="404.65" y2="630.49" stroke="#8a8a8a" stroke-width="0.7"/>
<line x1="419.50" y1="602.36" x2="419.50" y2="631.06" stroke="#8a8a8a" stroke-width="0.7"/>
<line x1="418.00" y1="602.36" x2="421.00" y2="602.36" stroke="#8a8a8a" stroke-width="0.7"/>
<line x1="418.00" y1="631.06" x2="421.00" y2="631.06" stroke="#8a8a8a" stroke-width="0.7"/>
<line x1="321.40" y1="583.42" x2="321.40" y2="606.38" stroke="#2c3e78" stroke-width="0.7"/>
<line x1="319.90" y1="583.42" x2="322.90" y2="583.42" stroke="#2c3e78" stroke-width="0.7"/>
<line x1="319.90" y1="606.38" x2="322.90" y2="606.38" stroke="#2c3e78" stroke-width="0.7"/>
<line x1="337.75" y1="582.50" x2="337.75" y2="608.91" stroke="#2c3e78" stroke-width="0.7"/>
<line x1="336.25" y1="582.50" x2="339.25" y2="582.50" stroke="#2c3e78" stroke-width="0.7"/>
<line x1="336.25" y1="608.91" x2="339.25" y2="608.91" stroke="#2c3e78" stroke-width="0.7"/>
<line x1="365.54" y1="629.68" x2="365.54" y2="636.57" stroke="#2c3e78" stroke-width="0.7"/>
<line x1="364.04" y1="629.68" x2="367.04" y2="629.68" stroke="#2c3e78" stroke-width="0.7"/>
<line x1="364.04" y1="636.57" x2="367.04" y2="636.57" stroke="#2c3e78" stroke-width="0.7"/>
<line x1="386.80" y1="637.20" x2="386.80" y2="641.80" stroke="#2c3e78" stroke-width="0.7"/>
<line x1="385.30" y1="637.20" x2="388.30" y2="637.20" stroke="#2c3e78" stroke-width="0.7"/>
<line x1="385.30" y1="641.80" x2="388.30" y2="641.80" stroke="#2c3e78" stroke-width="0.7"/>
<line x1="398.25" y1="631.64" x2="398.25" y2="647.71" stroke="#2c3e78" stroke-width="0.7"/>
<line x1="396.75" y1="631.64" x2="399.75" y2="631.64" stroke="#2c3e78" stroke-width="0.7"/>
<line x1="396.75" y1="647.71" x2="399.75" y2="647.71" stroke="#2c3e78" stroke-width="0.7"/>
<line x1="403.15" y1="635.65" x2="403.15" y2="652.30" stroke="#2c3e78" stroke-width="0.7"/>
<line x1="401.65" y1="635.65" x2="404.65" y2="635.65" stroke="#2c3e78" stroke-width="0.7"/>
<line x1="401.65" y1="652.30" x2="404.65" y2="652.30" stroke="#2c3e78" stroke-width="0.7"/>
<line x1="419.50" y1="641.16" x2="419.50" y2="652.30" stroke="#2c3e78" stroke-width="0.7"/>
<line x1="418.00" y1="641.16" x2="421.00" y2="641.16" stroke="#2c3e78" stroke-width="0.7"/>
<line x1="418.00" y1="652.30" x2="421.00" y2="652.30" stroke="#2c3e78" stroke-width="0.7"/>
<path d="M319.40,606.17 L323.40,606.17 L321.40,602.57 Z" fill="#6e6e6e"/>
<path d="M335.75,612.94 L339.75,612.94 L337.75,609.34 Z" fill="#6e6e6e"/>
<path d="M352.10,610.76 L356.10,610.76 L354.10,607.16 Z" fill="#6e6e6e"/>
<path d="M363.54,615.93 L367.54,615.93 L365.54,612.33 Z" fill="#6e6e6e"/>
<path d="M368.45,617.54 L372.45,617.54 L370.45,613.94 Z" fill="#6e6e6e"/>
<path d="M384.80,618.51 L388.80,618.51 L386.80,614.91 Z" fill="#6e6e6e"/>
<path d="M396.25,619.20 L400.25,619.20 L398.25,615.60 Z" fill="#6e6e6e"/>
<path d="M401.15,618.51 L405.15,618.51 L403.15,614.91 Z" fill="#6e6e6e"/>
<path d="M417.50,618.51 L421.50,618.51 L419.50,614.91 Z" fill="#6e6e6e"/>
<path d="M319.30,596.79 L323.50,596.79 L321.40,593.01 Z" fill="#1c2a5e"/>
<path d="M335.65,597.59 L339.85,597.59 L337.75,593.81 Z" fill="#1c2a5e"/>
<path d="M352.00,617.05 L356.20,617.05 L354.10,613.27 Z" fill="#1c2a5e"/>
<path d="M363.44,635.02 L367.64,635.02 L365.54,631.24 Z" fill="#1c2a5e"/>
<path d="M368.35,635.99 L372.55,635.99 L370.45,632.21 Z" fill="#1c2a5e"/>
<path d="M384.70,641.39 L388.90,641.39 L386.80,637.61 Z" fill="#1c2a5e"/>
<path d="M396.14,641.56 L400.35,641.56 L398.25,637.78 Z" fill="#1c2a5e"/>
<path d="M401.05,646.15 L405.25,646.15 L403.15,642.37 Z" fill="#1c2a5e"/>
<path d="M417.40,651.09 L421.60,651.09 L419.50,647.31 Z" fill="#1c2a5e"/>
<line x1="457.00" y1="573.50" x2="463.00" y2="573.50" stroke="#1c2a5e" stroke-width="0.8"/>
<path d="M458.10,575.21 L461.90,575.21 L460.00,571.79 Z" fill="#1c2a5e"/>
<text x="467.40" y="576.50" font-size="8.82" textLength="48.5" lengthAdjust="spacingAndGlyphs">Bexmarilimab</text>
<line x1="457.00" y1="585.00" x2="463.00" y2="585.00" stroke="#6e6e6e" stroke-width="0.8"/>
<path d="M458.10,586.71 L461.90,586.71 L460.00,583.29 Z" fill="#6e6e6e"/>
<text x="467.40" y="588.00" font-size="8.82" textLength="18.06" lengthAdjust="spacingAndGlyphs">9–11</text>
</svg>
</body></html>
